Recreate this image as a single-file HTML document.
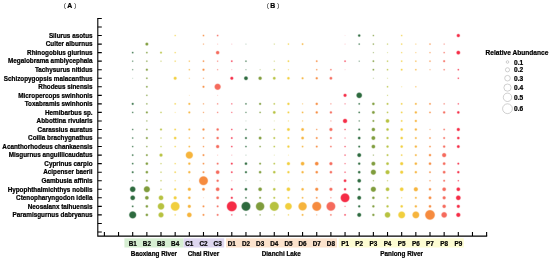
<!DOCTYPE html>
<html><head><meta charset="utf-8"><title>Relative Abundance</title>
<style>
html,body{margin:0;padding:0;background:#fff;}
body{width:550px;height:260px;overflow:hidden;font-family:"Liberation Sans","Noto Sans CJK SC",sans-serif;}
svg{display:block;}
text{font-family:"Liberation Sans","Noto Sans CJK SC",sans-serif;font-weight:bold;fill:#000;stroke:#000;stroke-width:0.22px;}
.sp{font-size:6.35px;text-anchor:end;}
.cl{font-size:6.35px;text-anchor:middle;}
.gl{font-size:6.35px;text-anchor:middle;}
.lg{font-size:6.6px;}
.tt{font-size:6.9px;text-anchor:middle;}
.pp{font-size:6.4px;text-anchor:middle;font-weight:normal;stroke:none;fill:#000;}
</style></head><body>
<svg width="550" height="260" viewBox="0 0 550 260">
<rect width="550" height="260" fill="#fff"/>
<text class="pp" x="62.90" y="7.9">（</text><text class="tt" x="69.65" y="8.0">A</text><text class="pp" x="77.15" y="7.9">）</text>
<text class="pp" x="265.95" y="7.9">（</text><text class="tt" x="272.70" y="8.0">B</text><text class="pp" x="280.20" y="7.9">）</text>
<rect x="124.4" y="238.3" width="59.2" height="9.2" fill="#d6eed2"/>
<rect x="183.6" y="238.3" width="40.6" height="9.2" fill="#ddd6ef"/>
<rect x="226.0" y="238.3" width="111.0" height="9.2" fill="#fbe2cc"/>
<rect x="338.7" y="238.3" width="125.1" height="9.2" fill="#fdfcd2"/>
<g stroke="#000" stroke-width="1.1" fill="none">
<path d="M97.8 17.92V236.1H487.2"/>
<path d="M97.8 18.47h4.0M97.8 27.01h4.0M97.8 35.55h4.0M97.8 44.09h4.0M97.8 52.63h4.0M97.8 61.17h4.0M97.8 69.71h4.0M97.8 78.25h4.0M97.8 86.79h4.0M97.8 95.33h4.0M97.8 103.87h4.0M97.8 112.41h4.0M97.8 120.95h4.0M97.8 129.49h4.0M97.8 138.03h4.0M97.8 146.57h4.0M97.8 155.11h4.0M97.8 163.65h4.0M97.8 172.19h4.0M97.8 180.73h4.0M97.8 189.27h4.0M97.8 197.81h4.0M97.8 206.35h4.0M97.8 214.89h4.0M97.8 223.43h4.0M97.8 231.97h4.0"/>
<path d="M104.39 236.1v-4.2M118.54 236.1v-4.2M132.70 236.1v-4.2M146.86 236.1v-4.2M161.01 236.1v-4.2M175.17 236.1v-4.2M189.33 236.1v-4.2M203.48 236.1v-4.2M217.64 236.1v-4.2M231.80 236.1v-4.2M245.96 236.1v-4.2M260.11 236.1v-4.2M274.27 236.1v-4.2M288.43 236.1v-4.2M302.58 236.1v-4.2M316.74 236.1v-4.2M330.90 236.1v-4.2M345.05 236.1v-4.2M359.21 236.1v-4.2M373.37 236.1v-4.2M387.53 236.1v-4.2M401.68 236.1v-4.2M415.84 236.1v-4.2M430.00 236.1v-4.2M444.15 236.1v-4.2M458.31 236.1v-4.2M472.47 236.1v-4.2M486.62 236.1v-4.2"/>
</g>
<text class="sp" x="92.6" y="37.80">Silurus asotus</text>
<text class="sp" x="92.6" y="46.34">Culter alburnus</text>
<text class="sp" x="92.6" y="54.88">Rhinogobius giurinus</text>
<text class="sp" x="92.6" y="63.42">Megalobrama amblycephala</text>
<text class="sp" x="92.6" y="71.96">Tachysurus nitidus</text>
<text class="sp" x="92.6" y="80.50">Schizopygopsis malacanthus</text>
<text class="sp" x="92.6" y="89.04">Rhodeus sinensis</text>
<text class="sp" x="92.6" y="97.58">Micropercops swinhonis</text>
<text class="sp" x="92.6" y="106.12">Toxabramis swinhonis</text>
<text class="sp" x="92.6" y="114.66">Hemibarbus sp.</text>
<text class="sp" x="92.6" y="123.20">Abbottina rivularis</text>
<text class="sp" x="92.6" y="131.74">Carassius auratus</text>
<text class="sp" x="92.6" y="140.28">Coilia brachygnathus</text>
<text class="sp" x="92.6" y="148.82">Acanthorhodeus chankaensis</text>
<text class="sp" x="92.6" y="157.36">Misgurnus anguillicaudatus</text>
<text class="sp" x="92.6" y="165.90">Cyprinus carpio</text>
<text class="sp" x="92.6" y="174.44">Acipenser baerii</text>
<text class="sp" x="92.6" y="182.98">Gambusia affinis</text>
<text class="sp" x="92.6" y="191.52">Hypophthalmichthys nobilis</text>
<text class="sp" x="92.6" y="200.06">Ctenopharyngodon idella</text>
<text class="sp" x="92.6" y="208.60">Neosalanx taihuensis</text>
<text class="sp" x="92.6" y="217.14">Paramisgurnus dabryanus</text>
<text class="cl" x="132.70" y="245.85">B1</text>
<text class="cl" x="146.86" y="245.85">B2</text>
<text class="cl" x="161.01" y="245.85">B3</text>
<text class="cl" x="175.17" y="245.85">B4</text>
<text class="cl" x="189.33" y="245.85">C1</text>
<text class="cl" x="203.48" y="245.85">C2</text>
<text class="cl" x="217.64" y="245.85">C3</text>
<text class="cl" x="231.80" y="245.85">D1</text>
<text class="cl" x="245.96" y="245.85">D2</text>
<text class="cl" x="260.11" y="245.85">D3</text>
<text class="cl" x="274.27" y="245.85">D4</text>
<text class="cl" x="288.43" y="245.85">D5</text>
<text class="cl" x="302.58" y="245.85">D6</text>
<text class="cl" x="316.74" y="245.85">D7</text>
<text class="cl" x="330.90" y="245.85">D8</text>
<text class="cl" x="345.05" y="245.85">P1</text>
<text class="cl" x="359.21" y="245.85">P2</text>
<text class="cl" x="373.37" y="245.85">P3</text>
<text class="cl" x="387.53" y="245.85">P4</text>
<text class="cl" x="401.68" y="245.85">P5</text>
<text class="cl" x="415.84" y="245.85">P6</text>
<text class="cl" x="430.00" y="245.85">P7</text>
<text class="cl" x="444.15" y="245.85">P8</text>
<text class="cl" x="458.31" y="245.85">P9</text>
<text class="gl" x="153.94" y="256.0">Baoxiang River</text>
<text class="gl" x="203.48" y="256.0">Chai River</text>
<text class="gl" x="281.35" y="256.0">Dianchi Lake</text>
<text class="gl" x="401.68" y="256.0">Panlong River</text>
<defs><radialGradient id="g3_65"><stop offset="0.000" stop-color="#f1cf3d" stop-opacity="0.698"/><stop offset="0.125" stop-color="#f1cf3d" stop-opacity="0.642"/><stop offset="0.250" stop-color="#f1cf3d" stop-opacity="0.496"/><stop offset="0.375" stop-color="#f1cf3d" stop-opacity="0.314"/><stop offset="0.500" stop-color="#f1cf3d" stop-opacity="0.160"/><stop offset="0.625" stop-color="#f1cf3d" stop-opacity="0.063"/><stop offset="0.750" stop-color="#f1cf3d" stop-opacity="0.019"/><stop offset="0.875" stop-color="#f1cf3d" stop-opacity="0.005"/><stop offset="1.000" stop-color="#f1cf3d" stop-opacity="0.001"/></radialGradient>
<radialGradient id="g5_80"><stop offset="0.000" stop-color="#f68b3e" stop-opacity="0.837"/><stop offset="0.125" stop-color="#f68b3e" stop-opacity="0.783"/><stop offset="0.250" stop-color="#f68b3e" stop-opacity="0.629"/><stop offset="0.375" stop-color="#f68b3e" stop-opacity="0.417"/><stop offset="0.500" stop-color="#f68b3e" stop-opacity="0.219"/><stop offset="0.625" stop-color="#f68b3e" stop-opacity="0.087"/><stop offset="0.750" stop-color="#f68b3e" stop-opacity="0.026"/><stop offset="0.875" stop-color="#f68b3e" stop-opacity="0.006"/><stop offset="1.000" stop-color="#f68b3e" stop-opacity="0.001"/></radialGradient>
<radialGradient id="g6_80"><stop offset="0.000" stop-color="#f56a5c" stop-opacity="0.837"/><stop offset="0.125" stop-color="#f56a5c" stop-opacity="0.783"/><stop offset="0.250" stop-color="#f56a5c" stop-opacity="0.629"/><stop offset="0.375" stop-color="#f56a5c" stop-opacity="0.417"/><stop offset="0.500" stop-color="#f56a5c" stop-opacity="0.219"/><stop offset="0.625" stop-color="#f56a5c" stop-opacity="0.087"/><stop offset="0.750" stop-color="#f56a5c" stop-opacity="0.026"/><stop offset="0.875" stop-color="#f56a5c" stop-opacity="0.006"/><stop offset="1.000" stop-color="#f56a5c" stop-opacity="0.001"/></radialGradient>
<radialGradient id="g7_20"><stop offset="0.000" stop-color="#f52c46" stop-opacity="0.107"/><stop offset="0.125" stop-color="#f52c46" stop-opacity="0.098"/><stop offset="0.250" stop-color="#f52c46" stop-opacity="0.075"/><stop offset="0.375" stop-color="#f52c46" stop-opacity="0.049"/><stop offset="0.500" stop-color="#f52c46" stop-opacity="0.026"/><stop offset="0.625" stop-color="#f52c46" stop-opacity="0.012"/><stop offset="0.750" stop-color="#f52c46" stop-opacity="0.004"/><stop offset="0.875" stop-color="#f52c46" stop-opacity="0.001"/><stop offset="1.000" stop-color="#f52c46" stop-opacity="0.000"/></radialGradient>
<radialGradient id="g0_120"><stop offset="0.000" stop-color="#2d6a3e" stop-opacity="0.983"/><stop offset="0.125" stop-color="#2d6a3e" stop-opacity="0.962"/><stop offset="0.250" stop-color="#2d6a3e" stop-opacity="0.875"/><stop offset="0.375" stop-color="#2d6a3e" stop-opacity="0.679"/><stop offset="0.500" stop-color="#2d6a3e" stop-opacity="0.407"/><stop offset="0.625" stop-color="#2d6a3e" stop-opacity="0.172"/><stop offset="0.750" stop-color="#2d6a3e" stop-opacity="0.048"/><stop offset="0.875" stop-color="#2d6a3e" stop-opacity="0.009"/><stop offset="1.000" stop-color="#2d6a3e" stop-opacity="0.001"/></radialGradient>
<radialGradient id="g1_70"><stop offset="0.000" stop-color="#7f9c3c" stop-opacity="0.751"/><stop offset="0.125" stop-color="#7f9c3c" stop-opacity="0.694"/><stop offset="0.250" stop-color="#7f9c3c" stop-opacity="0.542"/><stop offset="0.375" stop-color="#7f9c3c" stop-opacity="0.348"/><stop offset="0.500" stop-color="#7f9c3c" stop-opacity="0.178"/><stop offset="0.625" stop-color="#7f9c3c" stop-opacity="0.071"/><stop offset="0.750" stop-color="#7f9c3c" stop-opacity="0.021"/><stop offset="0.875" stop-color="#7f9c3c" stop-opacity="0.005"/><stop offset="1.000" stop-color="#7f9c3c" stop-opacity="0.001"/></radialGradient>
<radialGradient id="g3_70"><stop offset="0.000" stop-color="#f1cf3d" stop-opacity="0.751"/><stop offset="0.125" stop-color="#f1cf3d" stop-opacity="0.694"/><stop offset="0.250" stop-color="#f1cf3d" stop-opacity="0.542"/><stop offset="0.375" stop-color="#f1cf3d" stop-opacity="0.348"/><stop offset="0.500" stop-color="#f1cf3d" stop-opacity="0.178"/><stop offset="0.625" stop-color="#f1cf3d" stop-opacity="0.071"/><stop offset="0.750" stop-color="#f1cf3d" stop-opacity="0.021"/><stop offset="0.875" stop-color="#f1cf3d" stop-opacity="0.005"/><stop offset="1.000" stop-color="#f1cf3d" stop-opacity="0.001"/></radialGradient>
<radialGradient id="g7_160"><stop offset="0.000" stop-color="#f52c46" stop-opacity="0.999"/><stop offset="0.123" stop-color="#f52c46" stop-opacity="0.997"/><stop offset="0.232" stop-color="#f52c46" stop-opacity="0.979"/><stop offset="0.342" stop-color="#f52c46" stop-opacity="0.906"/><stop offset="0.452" stop-color="#f52c46" stop-opacity="0.724"/><stop offset="0.561" stop-color="#f52c46" stop-opacity="0.447"/><stop offset="0.671" stop-color="#f52c46" stop-opacity="0.193"/><stop offset="0.781" stop-color="#f52c46" stop-opacity="0.055"/><stop offset="0.890" stop-color="#f52c46" stop-opacity="0.010"/><stop offset="1.000" stop-color="#f52c46" stop-opacity="0.001"/></radialGradient>
<radialGradient id="g1_145"><stop offset="0.000" stop-color="#7f9c3c" stop-opacity="0.997"/><stop offset="0.074" stop-color="#7f9c3c" stop-opacity="0.995"/><stop offset="0.190" stop-color="#7f9c3c" stop-opacity="0.977"/><stop offset="0.306" stop-color="#7f9c3c" stop-opacity="0.902"/><stop offset="0.421" stop-color="#7f9c3c" stop-opacity="0.718"/><stop offset="0.537" stop-color="#7f9c3c" stop-opacity="0.442"/><stop offset="0.653" stop-color="#7f9c3c" stop-opacity="0.190"/><stop offset="0.769" stop-color="#7f9c3c" stop-opacity="0.054"/><stop offset="0.884" stop-color="#7f9c3c" stop-opacity="0.010"/><stop offset="1.000" stop-color="#7f9c3c" stop-opacity="0.001"/></radialGradient>
<radialGradient id="g5_55"><stop offset="0.000" stop-color="#f68b3e" stop-opacity="0.576"/><stop offset="0.125" stop-color="#f68b3e" stop-opacity="0.526"/><stop offset="0.250" stop-color="#f68b3e" stop-opacity="0.398"/><stop offset="0.375" stop-color="#f68b3e" stop-opacity="0.248"/><stop offset="0.500" stop-color="#f68b3e" stop-opacity="0.124"/><stop offset="0.625" stop-color="#f68b3e" stop-opacity="0.050"/><stop offset="0.750" stop-color="#f68b3e" stop-opacity="0.016"/><stop offset="0.875" stop-color="#f68b3e" stop-opacity="0.004"/><stop offset="1.000" stop-color="#f68b3e" stop-opacity="0.001"/></radialGradient>
<radialGradient id="g6_35"><stop offset="0.000" stop-color="#f56a5c" stop-opacity="0.293"/><stop offset="0.125" stop-color="#f56a5c" stop-opacity="0.267"/><stop offset="0.250" stop-color="#f56a5c" stop-opacity="0.201"/><stop offset="0.375" stop-color="#f56a5c" stop-opacity="0.124"/><stop offset="0.500" stop-color="#f56a5c" stop-opacity="0.064"/><stop offset="0.625" stop-color="#f56a5c" stop-opacity="0.027"/><stop offset="0.750" stop-color="#f56a5c" stop-opacity="0.009"/><stop offset="0.875" stop-color="#f56a5c" stop-opacity="0.003"/><stop offset="1.000" stop-color="#f56a5c" stop-opacity="0.001"/></radialGradient>
<radialGradient id="g7_30"><stop offset="0.000" stop-color="#f52c46" stop-opacity="0.225"/><stop offset="0.125" stop-color="#f52c46" stop-opacity="0.205"/><stop offset="0.250" stop-color="#f52c46" stop-opacity="0.155"/><stop offset="0.375" stop-color="#f52c46" stop-opacity="0.097"/><stop offset="0.500" stop-color="#f52c46" stop-opacity="0.050"/><stop offset="0.625" stop-color="#f52c46" stop-opacity="0.021"/><stop offset="0.750" stop-color="#f52c46" stop-opacity="0.008"/><stop offset="0.875" stop-color="#f52c46" stop-opacity="0.002"/><stop offset="1.000" stop-color="#f52c46" stop-opacity="0.001"/></radialGradient>
<radialGradient id="g0_35"><stop offset="0.000" stop-color="#2d6a3e" stop-opacity="0.293"/><stop offset="0.125" stop-color="#2d6a3e" stop-opacity="0.267"/><stop offset="0.250" stop-color="#2d6a3e" stop-opacity="0.201"/><stop offset="0.375" stop-color="#2d6a3e" stop-opacity="0.124"/><stop offset="0.500" stop-color="#2d6a3e" stop-opacity="0.064"/><stop offset="0.625" stop-color="#2d6a3e" stop-opacity="0.027"/><stop offset="0.750" stop-color="#2d6a3e" stop-opacity="0.009"/><stop offset="0.875" stop-color="#2d6a3e" stop-opacity="0.003"/><stop offset="1.000" stop-color="#2d6a3e" stop-opacity="0.001"/></radialGradient>
<radialGradient id="g2_50"><stop offset="0.000" stop-color="#b7c240" stop-opacity="0.508"/><stop offset="0.125" stop-color="#b7c240" stop-opacity="0.462"/><stop offset="0.250" stop-color="#b7c240" stop-opacity="0.348"/><stop offset="0.375" stop-color="#b7c240" stop-opacity="0.215"/><stop offset="0.500" stop-color="#b7c240" stop-opacity="0.108"/><stop offset="0.625" stop-color="#b7c240" stop-opacity="0.044"/><stop offset="0.750" stop-color="#b7c240" stop-opacity="0.014"/><stop offset="0.875" stop-color="#b7c240" stop-opacity="0.004"/><stop offset="1.000" stop-color="#b7c240" stop-opacity="0.001"/></radialGradient>
<radialGradient id="g4_85"><stop offset="0.000" stop-color="#f6b43c" stop-opacity="0.871"/><stop offset="0.125" stop-color="#f6b43c" stop-opacity="0.819"/><stop offset="0.250" stop-color="#f6b43c" stop-opacity="0.669"/><stop offset="0.375" stop-color="#f6b43c" stop-opacity="0.452"/><stop offset="0.500" stop-color="#f6b43c" stop-opacity="0.240"/><stop offset="0.625" stop-color="#f6b43c" stop-opacity="0.096"/><stop offset="0.750" stop-color="#f6b43c" stop-opacity="0.028"/><stop offset="0.875" stop-color="#f6b43c" stop-opacity="0.006"/><stop offset="1.000" stop-color="#f6b43c" stop-opacity="0.001"/></radialGradient>
<radialGradient id="g0_70"><stop offset="0.000" stop-color="#2d6a3e" stop-opacity="0.751"/><stop offset="0.125" stop-color="#2d6a3e" stop-opacity="0.694"/><stop offset="0.250" stop-color="#2d6a3e" stop-opacity="0.542"/><stop offset="0.375" stop-color="#2d6a3e" stop-opacity="0.348"/><stop offset="0.500" stop-color="#2d6a3e" stop-opacity="0.178"/><stop offset="0.625" stop-color="#2d6a3e" stop-opacity="0.071"/><stop offset="0.750" stop-color="#2d6a3e" stop-opacity="0.021"/><stop offset="0.875" stop-color="#2d6a3e" stop-opacity="0.005"/><stop offset="1.000" stop-color="#2d6a3e" stop-opacity="0.001"/></radialGradient>
<radialGradient id="g2_60"><stop offset="0.000" stop-color="#b7c240" stop-opacity="0.640"/><stop offset="0.125" stop-color="#b7c240" stop-opacity="0.586"/><stop offset="0.250" stop-color="#b7c240" stop-opacity="0.447"/><stop offset="0.375" stop-color="#b7c240" stop-opacity="0.281"/><stop offset="0.500" stop-color="#b7c240" stop-opacity="0.142"/><stop offset="0.625" stop-color="#b7c240" stop-opacity="0.056"/><stop offset="0.750" stop-color="#b7c240" stop-opacity="0.017"/><stop offset="0.875" stop-color="#b7c240" stop-opacity="0.004"/><stop offset="1.000" stop-color="#b7c240" stop-opacity="0.001"/></radialGradient>
<radialGradient id="g4_50"><stop offset="0.000" stop-color="#f6b43c" stop-opacity="0.508"/><stop offset="0.125" stop-color="#f6b43c" stop-opacity="0.462"/><stop offset="0.250" stop-color="#f6b43c" stop-opacity="0.348"/><stop offset="0.375" stop-color="#f6b43c" stop-opacity="0.215"/><stop offset="0.500" stop-color="#f6b43c" stop-opacity="0.108"/><stop offset="0.625" stop-color="#f6b43c" stop-opacity="0.044"/><stop offset="0.750" stop-color="#f6b43c" stop-opacity="0.014"/><stop offset="0.875" stop-color="#f6b43c" stop-opacity="0.004"/><stop offset="1.000" stop-color="#f6b43c" stop-opacity="0.001"/></radialGradient>
<radialGradient id="g5_70"><stop offset="0.000" stop-color="#f68b3e" stop-opacity="0.751"/><stop offset="0.125" stop-color="#f68b3e" stop-opacity="0.694"/><stop offset="0.250" stop-color="#f68b3e" stop-opacity="0.542"/><stop offset="0.375" stop-color="#f68b3e" stop-opacity="0.348"/><stop offset="0.500" stop-color="#f68b3e" stop-opacity="0.178"/><stop offset="0.625" stop-color="#f68b3e" stop-opacity="0.071"/><stop offset="0.750" stop-color="#f68b3e" stop-opacity="0.021"/><stop offset="0.875" stop-color="#f68b3e" stop-opacity="0.005"/><stop offset="1.000" stop-color="#f68b3e" stop-opacity="0.001"/></radialGradient>
<radialGradient id="g6_55"><stop offset="0.000" stop-color="#f56a5c" stop-opacity="0.576"/><stop offset="0.125" stop-color="#f56a5c" stop-opacity="0.526"/><stop offset="0.250" stop-color="#f56a5c" stop-opacity="0.398"/><stop offset="0.375" stop-color="#f56a5c" stop-opacity="0.248"/><stop offset="0.500" stop-color="#f56a5c" stop-opacity="0.124"/><stop offset="0.625" stop-color="#f56a5c" stop-opacity="0.050"/><stop offset="0.750" stop-color="#f56a5c" stop-opacity="0.016"/><stop offset="0.875" stop-color="#f56a5c" stop-opacity="0.004"/><stop offset="1.000" stop-color="#f56a5c" stop-opacity="0.001"/></radialGradient>
<radialGradient id="g0_80"><stop offset="0.000" stop-color="#2d6a3e" stop-opacity="0.837"/><stop offset="0.125" stop-color="#2d6a3e" stop-opacity="0.783"/><stop offset="0.250" stop-color="#2d6a3e" stop-opacity="0.629"/><stop offset="0.375" stop-color="#2d6a3e" stop-opacity="0.417"/><stop offset="0.500" stop-color="#2d6a3e" stop-opacity="0.219"/><stop offset="0.625" stop-color="#2d6a3e" stop-opacity="0.087"/><stop offset="0.750" stop-color="#2d6a3e" stop-opacity="0.026"/><stop offset="0.875" stop-color="#2d6a3e" stop-opacity="0.006"/><stop offset="1.000" stop-color="#2d6a3e" stop-opacity="0.001"/></radialGradient>
<radialGradient id="g1_80"><stop offset="0.000" stop-color="#7f9c3c" stop-opacity="0.837"/><stop offset="0.125" stop-color="#7f9c3c" stop-opacity="0.783"/><stop offset="0.250" stop-color="#7f9c3c" stop-opacity="0.629"/><stop offset="0.375" stop-color="#7f9c3c" stop-opacity="0.417"/><stop offset="0.500" stop-color="#7f9c3c" stop-opacity="0.219"/><stop offset="0.625" stop-color="#7f9c3c" stop-opacity="0.087"/><stop offset="0.750" stop-color="#7f9c3c" stop-opacity="0.026"/><stop offset="0.875" stop-color="#7f9c3c" stop-opacity="0.006"/><stop offset="1.000" stop-color="#7f9c3c" stop-opacity="0.001"/></radialGradient>
<radialGradient id="g2_95"><stop offset="0.000" stop-color="#b7c240" stop-opacity="0.923"/><stop offset="0.125" stop-color="#b7c240" stop-opacity="0.879"/><stop offset="0.250" stop-color="#b7c240" stop-opacity="0.741"/><stop offset="0.375" stop-color="#b7c240" stop-opacity="0.520"/><stop offset="0.500" stop-color="#b7c240" stop-opacity="0.285"/><stop offset="0.625" stop-color="#b7c240" stop-opacity="0.115"/><stop offset="0.750" stop-color="#b7c240" stop-opacity="0.033"/><stop offset="0.875" stop-color="#b7c240" stop-opacity="0.007"/><stop offset="1.000" stop-color="#b7c240" stop-opacity="0.001"/></radialGradient>
<radialGradient id="g6_170"><stop offset="0.000" stop-color="#f56a5c" stop-opacity="1.000"/><stop offset="0.153" stop-color="#f56a5c" stop-opacity="0.997"/><stop offset="0.258" stop-color="#f56a5c" stop-opacity="0.980"/><stop offset="0.364" stop-color="#f56a5c" stop-opacity="0.909"/><stop offset="0.470" stop-color="#f56a5c" stop-opacity="0.728"/><stop offset="0.576" stop-color="#f56a5c" stop-opacity="0.450"/><stop offset="0.682" stop-color="#f56a5c" stop-opacity="0.195"/><stop offset="0.788" stop-color="#f56a5c" stop-opacity="0.055"/><stop offset="0.894" stop-color="#f56a5c" stop-opacity="0.010"/><stop offset="1.000" stop-color="#f56a5c" stop-opacity="0.001"/></radialGradient>
<radialGradient id="g1_50"><stop offset="0.000" stop-color="#7f9c3c" stop-opacity="0.508"/><stop offset="0.125" stop-color="#7f9c3c" stop-opacity="0.462"/><stop offset="0.250" stop-color="#7f9c3c" stop-opacity="0.348"/><stop offset="0.375" stop-color="#7f9c3c" stop-opacity="0.215"/><stop offset="0.500" stop-color="#7f9c3c" stop-opacity="0.108"/><stop offset="0.625" stop-color="#7f9c3c" stop-opacity="0.044"/><stop offset="0.750" stop-color="#7f9c3c" stop-opacity="0.014"/><stop offset="0.875" stop-color="#7f9c3c" stop-opacity="0.004"/><stop offset="1.000" stop-color="#7f9c3c" stop-opacity="0.001"/></radialGradient>
<radialGradient id="g2_40"><stop offset="0.000" stop-color="#b7c240" stop-opacity="0.365"/><stop offset="0.125" stop-color="#b7c240" stop-opacity="0.331"/><stop offset="0.250" stop-color="#b7c240" stop-opacity="0.249"/><stop offset="0.375" stop-color="#b7c240" stop-opacity="0.154"/><stop offset="0.500" stop-color="#b7c240" stop-opacity="0.078"/><stop offset="0.625" stop-color="#b7c240" stop-opacity="0.032"/><stop offset="0.750" stop-color="#b7c240" stop-opacity="0.011"/><stop offset="0.875" stop-color="#b7c240" stop-opacity="0.003"/><stop offset="1.000" stop-color="#b7c240" stop-opacity="0.001"/></radialGradient>
<radialGradient id="g3_60"><stop offset="0.000" stop-color="#f1cf3d" stop-opacity="0.640"/><stop offset="0.125" stop-color="#f1cf3d" stop-opacity="0.586"/><stop offset="0.250" stop-color="#f1cf3d" stop-opacity="0.447"/><stop offset="0.375" stop-color="#f1cf3d" stop-opacity="0.281"/><stop offset="0.500" stop-color="#f1cf3d" stop-opacity="0.142"/><stop offset="0.625" stop-color="#f1cf3d" stop-opacity="0.056"/><stop offset="0.750" stop-color="#f1cf3d" stop-opacity="0.017"/><stop offset="0.875" stop-color="#f1cf3d" stop-opacity="0.004"/><stop offset="1.000" stop-color="#f1cf3d" stop-opacity="0.001"/></radialGradient>
<radialGradient id="g5_60"><stop offset="0.000" stop-color="#f68b3e" stop-opacity="0.640"/><stop offset="0.125" stop-color="#f68b3e" stop-opacity="0.586"/><stop offset="0.250" stop-color="#f68b3e" stop-opacity="0.447"/><stop offset="0.375" stop-color="#f68b3e" stop-opacity="0.281"/><stop offset="0.500" stop-color="#f68b3e" stop-opacity="0.142"/><stop offset="0.625" stop-color="#f68b3e" stop-opacity="0.056"/><stop offset="0.750" stop-color="#f68b3e" stop-opacity="0.017"/><stop offset="0.875" stop-color="#f68b3e" stop-opacity="0.004"/><stop offset="1.000" stop-color="#f68b3e" stop-opacity="0.001"/></radialGradient>
<radialGradient id="g6_70"><stop offset="0.000" stop-color="#f56a5c" stop-opacity="0.751"/><stop offset="0.125" stop-color="#f56a5c" stop-opacity="0.694"/><stop offset="0.250" stop-color="#f56a5c" stop-opacity="0.542"/><stop offset="0.375" stop-color="#f56a5c" stop-opacity="0.348"/><stop offset="0.500" stop-color="#f56a5c" stop-opacity="0.178"/><stop offset="0.625" stop-color="#f56a5c" stop-opacity="0.071"/><stop offset="0.750" stop-color="#f56a5c" stop-opacity="0.021"/><stop offset="0.875" stop-color="#f56a5c" stop-opacity="0.005"/><stop offset="1.000" stop-color="#f56a5c" stop-opacity="0.001"/></radialGradient>
<radialGradient id="g7_185"><stop offset="0.000" stop-color="#f52c46" stop-opacity="1.000"/><stop offset="0.194" stop-color="#f52c46" stop-opacity="0.997"/><stop offset="0.294" stop-color="#f52c46" stop-opacity="0.981"/><stop offset="0.395" stop-color="#f52c46" stop-opacity="0.911"/><stop offset="0.496" stop-color="#f52c46" stop-opacity="0.732"/><stop offset="0.597" stop-color="#f52c46" stop-opacity="0.454"/><stop offset="0.698" stop-color="#f52c46" stop-opacity="0.198"/><stop offset="0.798" stop-color="#f52c46" stop-opacity="0.056"/><stop offset="0.899" stop-color="#f52c46" stop-opacity="0.010"/><stop offset="1.000" stop-color="#f52c46" stop-opacity="0.001"/></radialGradient>
<radialGradient id="g0_60"><stop offset="0.000" stop-color="#2d6a3e" stop-opacity="0.640"/><stop offset="0.125" stop-color="#2d6a3e" stop-opacity="0.586"/><stop offset="0.250" stop-color="#2d6a3e" stop-opacity="0.447"/><stop offset="0.375" stop-color="#2d6a3e" stop-opacity="0.281"/><stop offset="0.500" stop-color="#2d6a3e" stop-opacity="0.142"/><stop offset="0.625" stop-color="#2d6a3e" stop-opacity="0.056"/><stop offset="0.750" stop-color="#2d6a3e" stop-opacity="0.017"/><stop offset="0.875" stop-color="#2d6a3e" stop-opacity="0.004"/><stop offset="1.000" stop-color="#2d6a3e" stop-opacity="0.001"/></radialGradient>
<radialGradient id="g2_55"><stop offset="0.000" stop-color="#b7c240" stop-opacity="0.576"/><stop offset="0.125" stop-color="#b7c240" stop-opacity="0.526"/><stop offset="0.250" stop-color="#b7c240" stop-opacity="0.398"/><stop offset="0.375" stop-color="#b7c240" stop-opacity="0.248"/><stop offset="0.500" stop-color="#b7c240" stop-opacity="0.124"/><stop offset="0.625" stop-color="#b7c240" stop-opacity="0.050"/><stop offset="0.750" stop-color="#b7c240" stop-opacity="0.016"/><stop offset="0.875" stop-color="#b7c240" stop-opacity="0.004"/><stop offset="1.000" stop-color="#b7c240" stop-opacity="0.001"/></radialGradient>
<radialGradient id="g4_65"><stop offset="0.000" stop-color="#f6b43c" stop-opacity="0.698"/><stop offset="0.125" stop-color="#f6b43c" stop-opacity="0.642"/><stop offset="0.250" stop-color="#f6b43c" stop-opacity="0.496"/><stop offset="0.375" stop-color="#f6b43c" stop-opacity="0.314"/><stop offset="0.500" stop-color="#f6b43c" stop-opacity="0.160"/><stop offset="0.625" stop-color="#f6b43c" stop-opacity="0.063"/><stop offset="0.750" stop-color="#f6b43c" stop-opacity="0.019"/><stop offset="0.875" stop-color="#f6b43c" stop-opacity="0.005"/><stop offset="1.000" stop-color="#f6b43c" stop-opacity="0.001"/></radialGradient>
<radialGradient id="g6_60"><stop offset="0.000" stop-color="#f56a5c" stop-opacity="0.640"/><stop offset="0.125" stop-color="#f56a5c" stop-opacity="0.586"/><stop offset="0.250" stop-color="#f56a5c" stop-opacity="0.447"/><stop offset="0.375" stop-color="#f56a5c" stop-opacity="0.281"/><stop offset="0.500" stop-color="#f56a5c" stop-opacity="0.142"/><stop offset="0.625" stop-color="#f56a5c" stop-opacity="0.056"/><stop offset="0.750" stop-color="#f56a5c" stop-opacity="0.017"/><stop offset="0.875" stop-color="#f56a5c" stop-opacity="0.004"/><stop offset="1.000" stop-color="#f56a5c" stop-opacity="0.001"/></radialGradient>
<radialGradient id="g7_80"><stop offset="0.000" stop-color="#f52c46" stop-opacity="0.837"/><stop offset="0.125" stop-color="#f52c46" stop-opacity="0.783"/><stop offset="0.250" stop-color="#f52c46" stop-opacity="0.629"/><stop offset="0.375" stop-color="#f52c46" stop-opacity="0.417"/><stop offset="0.500" stop-color="#f52c46" stop-opacity="0.219"/><stop offset="0.625" stop-color="#f52c46" stop-opacity="0.087"/><stop offset="0.750" stop-color="#f52c46" stop-opacity="0.026"/><stop offset="0.875" stop-color="#f52c46" stop-opacity="0.006"/><stop offset="1.000" stop-color="#f52c46" stop-opacity="0.001"/></radialGradient>
<radialGradient id="g3_85"><stop offset="0.000" stop-color="#f1cf3d" stop-opacity="0.871"/><stop offset="0.125" stop-color="#f1cf3d" stop-opacity="0.819"/><stop offset="0.250" stop-color="#f1cf3d" stop-opacity="0.669"/><stop offset="0.375" stop-color="#f1cf3d" stop-opacity="0.452"/><stop offset="0.500" stop-color="#f1cf3d" stop-opacity="0.240"/><stop offset="0.625" stop-color="#f1cf3d" stop-opacity="0.096"/><stop offset="0.750" stop-color="#f1cf3d" stop-opacity="0.028"/><stop offset="0.875" stop-color="#f1cf3d" stop-opacity="0.006"/><stop offset="1.000" stop-color="#f1cf3d" stop-opacity="0.001"/></radialGradient>
<radialGradient id="g5_85"><stop offset="0.000" stop-color="#f68b3e" stop-opacity="0.871"/><stop offset="0.125" stop-color="#f68b3e" stop-opacity="0.819"/><stop offset="0.250" stop-color="#f68b3e" stop-opacity="0.669"/><stop offset="0.375" stop-color="#f68b3e" stop-opacity="0.452"/><stop offset="0.500" stop-color="#f68b3e" stop-opacity="0.240"/><stop offset="0.625" stop-color="#f68b3e" stop-opacity="0.096"/><stop offset="0.750" stop-color="#f68b3e" stop-opacity="0.028"/><stop offset="0.875" stop-color="#f68b3e" stop-opacity="0.006"/><stop offset="1.000" stop-color="#f68b3e" stop-opacity="0.001"/></radialGradient>
<radialGradient id="g7_75"><stop offset="0.000" stop-color="#f52c46" stop-opacity="0.797"/><stop offset="0.125" stop-color="#f52c46" stop-opacity="0.741"/><stop offset="0.250" stop-color="#f52c46" stop-opacity="0.586"/><stop offset="0.375" stop-color="#f52c46" stop-opacity="0.383"/><stop offset="0.500" stop-color="#f52c46" stop-opacity="0.198"/><stop offset="0.625" stop-color="#f52c46" stop-opacity="0.079"/><stop offset="0.750" stop-color="#f52c46" stop-opacity="0.024"/><stop offset="0.875" stop-color="#f52c46" stop-opacity="0.005"/><stop offset="1.000" stop-color="#f52c46" stop-opacity="0.001"/></radialGradient>
<radialGradient id="g0_50"><stop offset="0.000" stop-color="#2d6a3e" stop-opacity="0.508"/><stop offset="0.125" stop-color="#2d6a3e" stop-opacity="0.462"/><stop offset="0.250" stop-color="#2d6a3e" stop-opacity="0.348"/><stop offset="0.375" stop-color="#2d6a3e" stop-opacity="0.215"/><stop offset="0.500" stop-color="#2d6a3e" stop-opacity="0.108"/><stop offset="0.625" stop-color="#2d6a3e" stop-opacity="0.044"/><stop offset="0.750" stop-color="#2d6a3e" stop-opacity="0.014"/><stop offset="0.875" stop-color="#2d6a3e" stop-opacity="0.004"/><stop offset="1.000" stop-color="#2d6a3e" stop-opacity="0.001"/></radialGradient>
<radialGradient id="g1_85"><stop offset="0.000" stop-color="#7f9c3c" stop-opacity="0.871"/><stop offset="0.125" stop-color="#7f9c3c" stop-opacity="0.819"/><stop offset="0.250" stop-color="#7f9c3c" stop-opacity="0.669"/><stop offset="0.375" stop-color="#7f9c3c" stop-opacity="0.452"/><stop offset="0.500" stop-color="#7f9c3c" stop-opacity="0.240"/><stop offset="0.625" stop-color="#7f9c3c" stop-opacity="0.096"/><stop offset="0.750" stop-color="#7f9c3c" stop-opacity="0.028"/><stop offset="0.875" stop-color="#7f9c3c" stop-opacity="0.006"/><stop offset="1.000" stop-color="#7f9c3c" stop-opacity="0.001"/></radialGradient>
<radialGradient id="g2_70"><stop offset="0.000" stop-color="#b7c240" stop-opacity="0.751"/><stop offset="0.125" stop-color="#b7c240" stop-opacity="0.694"/><stop offset="0.250" stop-color="#b7c240" stop-opacity="0.542"/><stop offset="0.375" stop-color="#b7c240" stop-opacity="0.348"/><stop offset="0.500" stop-color="#b7c240" stop-opacity="0.178"/><stop offset="0.625" stop-color="#b7c240" stop-opacity="0.071"/><stop offset="0.750" stop-color="#b7c240" stop-opacity="0.021"/><stop offset="0.875" stop-color="#b7c240" stop-opacity="0.005"/><stop offset="1.000" stop-color="#b7c240" stop-opacity="0.001"/></radialGradient>
<radialGradient id="g3_75"><stop offset="0.000" stop-color="#f1cf3d" stop-opacity="0.797"/><stop offset="0.125" stop-color="#f1cf3d" stop-opacity="0.741"/><stop offset="0.250" stop-color="#f1cf3d" stop-opacity="0.586"/><stop offset="0.375" stop-color="#f1cf3d" stop-opacity="0.383"/><stop offset="0.500" stop-color="#f1cf3d" stop-opacity="0.198"/><stop offset="0.625" stop-color="#f1cf3d" stop-opacity="0.079"/><stop offset="0.750" stop-color="#f1cf3d" stop-opacity="0.024"/><stop offset="0.875" stop-color="#f1cf3d" stop-opacity="0.005"/><stop offset="1.000" stop-color="#f1cf3d" stop-opacity="0.001"/></radialGradient>
<radialGradient id="g4_70"><stop offset="0.000" stop-color="#f6b43c" stop-opacity="0.751"/><stop offset="0.125" stop-color="#f6b43c" stop-opacity="0.694"/><stop offset="0.250" stop-color="#f6b43c" stop-opacity="0.542"/><stop offset="0.375" stop-color="#f6b43c" stop-opacity="0.348"/><stop offset="0.500" stop-color="#f6b43c" stop-opacity="0.178"/><stop offset="0.625" stop-color="#f6b43c" stop-opacity="0.071"/><stop offset="0.750" stop-color="#f6b43c" stop-opacity="0.021"/><stop offset="0.875" stop-color="#f6b43c" stop-opacity="0.005"/><stop offset="1.000" stop-color="#f6b43c" stop-opacity="0.001"/></radialGradient>
<radialGradient id="g6_100"><stop offset="0.000" stop-color="#f56a5c" stop-opacity="0.941"/><stop offset="0.125" stop-color="#f56a5c" stop-opacity="0.902"/><stop offset="0.250" stop-color="#f56a5c" stop-opacity="0.773"/><stop offset="0.375" stop-color="#f56a5c" stop-opacity="0.554"/><stop offset="0.500" stop-color="#f56a5c" stop-opacity="0.308"/><stop offset="0.625" stop-color="#f56a5c" stop-opacity="0.126"/><stop offset="0.750" stop-color="#f56a5c" stop-opacity="0.036"/><stop offset="0.875" stop-color="#f56a5c" stop-opacity="0.007"/><stop offset="1.000" stop-color="#f56a5c" stop-opacity="0.001"/></radialGradient>
<radialGradient id="g0_55"><stop offset="0.000" stop-color="#2d6a3e" stop-opacity="0.576"/><stop offset="0.125" stop-color="#2d6a3e" stop-opacity="0.526"/><stop offset="0.250" stop-color="#2d6a3e" stop-opacity="0.398"/><stop offset="0.375" stop-color="#2d6a3e" stop-opacity="0.248"/><stop offset="0.500" stop-color="#2d6a3e" stop-opacity="0.124"/><stop offset="0.625" stop-color="#2d6a3e" stop-opacity="0.050"/><stop offset="0.750" stop-color="#2d6a3e" stop-opacity="0.016"/><stop offset="0.875" stop-color="#2d6a3e" stop-opacity="0.004"/><stop offset="1.000" stop-color="#2d6a3e" stop-opacity="0.001"/></radialGradient>
<radialGradient id="g1_105"><stop offset="0.000" stop-color="#7f9c3c" stop-opacity="0.956"/><stop offset="0.125" stop-color="#7f9c3c" stop-opacity="0.922"/><stop offset="0.250" stop-color="#7f9c3c" stop-opacity="0.802"/><stop offset="0.375" stop-color="#7f9c3c" stop-opacity="0.586"/><stop offset="0.500" stop-color="#7f9c3c" stop-opacity="0.332"/><stop offset="0.625" stop-color="#7f9c3c" stop-opacity="0.136"/><stop offset="0.750" stop-color="#7f9c3c" stop-opacity="0.039"/><stop offset="0.875" stop-color="#7f9c3c" stop-opacity="0.007"/><stop offset="1.000" stop-color="#7f9c3c" stop-opacity="0.001"/></radialGradient>
<radialGradient id="g5_105"><stop offset="0.000" stop-color="#f68b3e" stop-opacity="0.956"/><stop offset="0.125" stop-color="#f68b3e" stop-opacity="0.922"/><stop offset="0.250" stop-color="#f68b3e" stop-opacity="0.802"/><stop offset="0.375" stop-color="#f68b3e" stop-opacity="0.586"/><stop offset="0.500" stop-color="#f68b3e" stop-opacity="0.332"/><stop offset="0.625" stop-color="#f68b3e" stop-opacity="0.136"/><stop offset="0.750" stop-color="#f68b3e" stop-opacity="0.039"/><stop offset="0.875" stop-color="#f68b3e" stop-opacity="0.007"/><stop offset="1.000" stop-color="#f68b3e" stop-opacity="0.001"/></radialGradient>
<radialGradient id="g0_45"><stop offset="0.000" stop-color="#2d6a3e" stop-opacity="0.437"/><stop offset="0.125" stop-color="#2d6a3e" stop-opacity="0.397"/><stop offset="0.250" stop-color="#2d6a3e" stop-opacity="0.298"/><stop offset="0.375" stop-color="#2d6a3e" stop-opacity="0.184"/><stop offset="0.500" stop-color="#2d6a3e" stop-opacity="0.092"/><stop offset="0.625" stop-color="#2d6a3e" stop-opacity="0.038"/><stop offset="0.750" stop-color="#2d6a3e" stop-opacity="0.012"/><stop offset="0.875" stop-color="#2d6a3e" stop-opacity="0.003"/><stop offset="1.000" stop-color="#2d6a3e" stop-opacity="0.001"/></radialGradient>
<radialGradient id="g1_40"><stop offset="0.000" stop-color="#7f9c3c" stop-opacity="0.365"/><stop offset="0.125" stop-color="#7f9c3c" stop-opacity="0.331"/><stop offset="0.250" stop-color="#7f9c3c" stop-opacity="0.249"/><stop offset="0.375" stop-color="#7f9c3c" stop-opacity="0.154"/><stop offset="0.500" stop-color="#7f9c3c" stop-opacity="0.078"/><stop offset="0.625" stop-color="#7f9c3c" stop-opacity="0.032"/><stop offset="0.750" stop-color="#7f9c3c" stop-opacity="0.011"/><stop offset="0.875" stop-color="#7f9c3c" stop-opacity="0.003"/><stop offset="1.000" stop-color="#7f9c3c" stop-opacity="0.001"/></radialGradient>
<radialGradient id="g3_50"><stop offset="0.000" stop-color="#f1cf3d" stop-opacity="0.508"/><stop offset="0.125" stop-color="#f1cf3d" stop-opacity="0.462"/><stop offset="0.250" stop-color="#f1cf3d" stop-opacity="0.348"/><stop offset="0.375" stop-color="#f1cf3d" stop-opacity="0.215"/><stop offset="0.500" stop-color="#f1cf3d" stop-opacity="0.108"/><stop offset="0.625" stop-color="#f1cf3d" stop-opacity="0.044"/><stop offset="0.750" stop-color="#f1cf3d" stop-opacity="0.014"/><stop offset="0.875" stop-color="#f1cf3d" stop-opacity="0.004"/><stop offset="1.000" stop-color="#f1cf3d" stop-opacity="0.001"/></radialGradient>
<radialGradient id="g6_75"><stop offset="0.000" stop-color="#f56a5c" stop-opacity="0.797"/><stop offset="0.125" stop-color="#f56a5c" stop-opacity="0.741"/><stop offset="0.250" stop-color="#f56a5c" stop-opacity="0.586"/><stop offset="0.375" stop-color="#f56a5c" stop-opacity="0.383"/><stop offset="0.500" stop-color="#f56a5c" stop-opacity="0.198"/><stop offset="0.625" stop-color="#f56a5c" stop-opacity="0.079"/><stop offset="0.750" stop-color="#f56a5c" stop-opacity="0.024"/><stop offset="0.875" stop-color="#f56a5c" stop-opacity="0.005"/><stop offset="1.000" stop-color="#f56a5c" stop-opacity="0.001"/></radialGradient>
<radialGradient id="g7_25"><stop offset="0.000" stop-color="#f52c46" stop-opacity="0.162"/><stop offset="0.125" stop-color="#f52c46" stop-opacity="0.148"/><stop offset="0.250" stop-color="#f52c46" stop-opacity="0.113"/><stop offset="0.375" stop-color="#f52c46" stop-opacity="0.071"/><stop offset="0.500" stop-color="#f52c46" stop-opacity="0.038"/><stop offset="0.625" stop-color="#f52c46" stop-opacity="0.017"/><stop offset="0.750" stop-color="#f52c46" stop-opacity="0.006"/><stop offset="0.875" stop-color="#f52c46" stop-opacity="0.002"/><stop offset="1.000" stop-color="#f52c46" stop-opacity="0.000"/></radialGradient>
<radialGradient id="g2_75"><stop offset="0.000" stop-color="#b7c240" stop-opacity="0.797"/><stop offset="0.125" stop-color="#b7c240" stop-opacity="0.741"/><stop offset="0.250" stop-color="#b7c240" stop-opacity="0.586"/><stop offset="0.375" stop-color="#b7c240" stop-opacity="0.383"/><stop offset="0.500" stop-color="#b7c240" stop-opacity="0.198"/><stop offset="0.625" stop-color="#b7c240" stop-opacity="0.079"/><stop offset="0.750" stop-color="#b7c240" stop-opacity="0.024"/><stop offset="0.875" stop-color="#b7c240" stop-opacity="0.005"/><stop offset="1.000" stop-color="#b7c240" stop-opacity="0.001"/></radialGradient>
<radialGradient id="g3_90"><stop offset="0.000" stop-color="#f1cf3d" stop-opacity="0.899"/><stop offset="0.125" stop-color="#f1cf3d" stop-opacity="0.851"/><stop offset="0.250" stop-color="#f1cf3d" stop-opacity="0.706"/><stop offset="0.375" stop-color="#f1cf3d" stop-opacity="0.486"/><stop offset="0.500" stop-color="#f1cf3d" stop-opacity="0.262"/><stop offset="0.625" stop-color="#f1cf3d" stop-opacity="0.105"/><stop offset="0.750" stop-color="#f1cf3d" stop-opacity="0.031"/><stop offset="0.875" stop-color="#f1cf3d" stop-opacity="0.006"/><stop offset="1.000" stop-color="#f1cf3d" stop-opacity="0.001"/></radialGradient>
<radialGradient id="g4_75"><stop offset="0.000" stop-color="#f6b43c" stop-opacity="0.797"/><stop offset="0.125" stop-color="#f6b43c" stop-opacity="0.741"/><stop offset="0.250" stop-color="#f6b43c" stop-opacity="0.586"/><stop offset="0.375" stop-color="#f6b43c" stop-opacity="0.383"/><stop offset="0.500" stop-color="#f6b43c" stop-opacity="0.198"/><stop offset="0.625" stop-color="#f6b43c" stop-opacity="0.079"/><stop offset="0.750" stop-color="#f6b43c" stop-opacity="0.024"/><stop offset="0.875" stop-color="#f6b43c" stop-opacity="0.005"/><stop offset="1.000" stop-color="#f6b43c" stop-opacity="0.001"/></radialGradient>
<radialGradient id="g5_50"><stop offset="0.000" stop-color="#f68b3e" stop-opacity="0.508"/><stop offset="0.125" stop-color="#f68b3e" stop-opacity="0.462"/><stop offset="0.250" stop-color="#f68b3e" stop-opacity="0.348"/><stop offset="0.375" stop-color="#f68b3e" stop-opacity="0.215"/><stop offset="0.500" stop-color="#f68b3e" stop-opacity="0.108"/><stop offset="0.625" stop-color="#f68b3e" stop-opacity="0.044"/><stop offset="0.750" stop-color="#f68b3e" stop-opacity="0.014"/><stop offset="0.875" stop-color="#f68b3e" stop-opacity="0.004"/><stop offset="1.000" stop-color="#f68b3e" stop-opacity="0.001"/></radialGradient>
<radialGradient id="g0_30"><stop offset="0.000" stop-color="#2d6a3e" stop-opacity="0.225"/><stop offset="0.125" stop-color="#2d6a3e" stop-opacity="0.205"/><stop offset="0.250" stop-color="#2d6a3e" stop-opacity="0.155"/><stop offset="0.375" stop-color="#2d6a3e" stop-opacity="0.097"/><stop offset="0.500" stop-color="#2d6a3e" stop-opacity="0.050"/><stop offset="0.625" stop-color="#2d6a3e" stop-opacity="0.021"/><stop offset="0.750" stop-color="#2d6a3e" stop-opacity="0.008"/><stop offset="0.875" stop-color="#2d6a3e" stop-opacity="0.002"/><stop offset="1.000" stop-color="#2d6a3e" stop-opacity="0.001"/></radialGradient>
<radialGradient id="g3_150"><stop offset="0.000" stop-color="#f1cf3d" stop-opacity="0.998"/><stop offset="0.091" stop-color="#f1cf3d" stop-opacity="0.996"/><stop offset="0.205" stop-color="#f1cf3d" stop-opacity="0.978"/><stop offset="0.318" stop-color="#f1cf3d" stop-opacity="0.904"/><stop offset="0.432" stop-color="#f1cf3d" stop-opacity="0.721"/><stop offset="0.545" stop-color="#f1cf3d" stop-opacity="0.444"/><stop offset="0.659" stop-color="#f1cf3d" stop-opacity="0.191"/><stop offset="0.773" stop-color="#f1cf3d" stop-opacity="0.054"/><stop offset="0.886" stop-color="#f1cf3d" stop-opacity="0.010"/><stop offset="1.000" stop-color="#f1cf3d" stop-opacity="0.001"/></radialGradient>
<radialGradient id="g4_45"><stop offset="0.000" stop-color="#f6b43c" stop-opacity="0.437"/><stop offset="0.125" stop-color="#f6b43c" stop-opacity="0.397"/><stop offset="0.250" stop-color="#f6b43c" stop-opacity="0.298"/><stop offset="0.375" stop-color="#f6b43c" stop-opacity="0.184"/><stop offset="0.500" stop-color="#f6b43c" stop-opacity="0.092"/><stop offset="0.625" stop-color="#f6b43c" stop-opacity="0.038"/><stop offset="0.750" stop-color="#f6b43c" stop-opacity="0.012"/><stop offset="0.875" stop-color="#f6b43c" stop-opacity="0.003"/><stop offset="1.000" stop-color="#f6b43c" stop-opacity="0.001"/></radialGradient>
<radialGradient id="g7_150"><stop offset="0.000" stop-color="#f52c46" stop-opacity="0.998"/><stop offset="0.091" stop-color="#f52c46" stop-opacity="0.996"/><stop offset="0.205" stop-color="#f52c46" stop-opacity="0.978"/><stop offset="0.318" stop-color="#f52c46" stop-opacity="0.904"/><stop offset="0.432" stop-color="#f52c46" stop-opacity="0.721"/><stop offset="0.545" stop-color="#f52c46" stop-opacity="0.444"/><stop offset="0.659" stop-color="#f52c46" stop-opacity="0.191"/><stop offset="0.773" stop-color="#f52c46" stop-opacity="0.054"/><stop offset="0.886" stop-color="#f52c46" stop-opacity="0.010"/><stop offset="1.000" stop-color="#f52c46" stop-opacity="0.001"/></radialGradient>
<radialGradient id="g0_185"><stop offset="0.000" stop-color="#2d6a3e" stop-opacity="1.000"/><stop offset="0.194" stop-color="#2d6a3e" stop-opacity="0.997"/><stop offset="0.294" stop-color="#2d6a3e" stop-opacity="0.981"/><stop offset="0.395" stop-color="#2d6a3e" stop-opacity="0.911"/><stop offset="0.496" stop-color="#2d6a3e" stop-opacity="0.732"/><stop offset="0.597" stop-color="#2d6a3e" stop-opacity="0.454"/><stop offset="0.698" stop-color="#2d6a3e" stop-opacity="0.198"/><stop offset="0.798" stop-color="#2d6a3e" stop-opacity="0.056"/><stop offset="0.899" stop-color="#2d6a3e" stop-opacity="0.010"/><stop offset="1.000" stop-color="#2d6a3e" stop-opacity="0.001"/></radialGradient>
<radialGradient id="g1_165"><stop offset="0.000" stop-color="#7f9c3c" stop-opacity="1.000"/><stop offset="0.138" stop-color="#7f9c3c" stop-opacity="0.997"/><stop offset="0.246" stop-color="#7f9c3c" stop-opacity="0.979"/><stop offset="0.353" stop-color="#7f9c3c" stop-opacity="0.907"/><stop offset="0.461" stop-color="#7f9c3c" stop-opacity="0.726"/><stop offset="0.569" stop-color="#7f9c3c" stop-opacity="0.449"/><stop offset="0.677" stop-color="#7f9c3c" stop-opacity="0.194"/><stop offset="0.784" stop-color="#7f9c3c" stop-opacity="0.055"/><stop offset="0.892" stop-color="#7f9c3c" stop-opacity="0.010"/><stop offset="1.000" stop-color="#7f9c3c" stop-opacity="0.001"/></radialGradient>
<radialGradient id="g2_135"><stop offset="0.000" stop-color="#b7c240" stop-opacity="0.994"/><stop offset="0.038" stop-color="#b7c240" stop-opacity="0.993"/><stop offset="0.159" stop-color="#b7c240" stop-opacity="0.975"/><stop offset="0.279" stop-color="#b7c240" stop-opacity="0.898"/><stop offset="0.399" stop-color="#b7c240" stop-opacity="0.713"/><stop offset="0.519" stop-color="#b7c240" stop-opacity="0.437"/><stop offset="0.639" stop-color="#b7c240" stop-opacity="0.188"/><stop offset="0.760" stop-color="#b7c240" stop-opacity="0.053"/><stop offset="0.880" stop-color="#b7c240" stop-opacity="0.009"/><stop offset="1.000" stop-color="#b7c240" stop-opacity="0.001"/></radialGradient>
<radialGradient id="g3_125"><stop offset="0.000" stop-color="#f1cf3d" stop-opacity="0.988"/><stop offset="0.125" stop-color="#f1cf3d" stop-opacity="0.971"/><stop offset="0.250" stop-color="#f1cf3d" stop-opacity="0.894"/><stop offset="0.375" stop-color="#f1cf3d" stop-opacity="0.707"/><stop offset="0.500" stop-color="#f1cf3d" stop-opacity="0.432"/><stop offset="0.625" stop-color="#f1cf3d" stop-opacity="0.185"/><stop offset="0.750" stop-color="#f1cf3d" stop-opacity="0.052"/><stop offset="0.875" stop-color="#f1cf3d" stop-opacity="0.009"/><stop offset="1.000" stop-color="#f1cf3d" stop-opacity="0.001"/></radialGradient>
<radialGradient id="g4_100"><stop offset="0.000" stop-color="#f6b43c" stop-opacity="0.941"/><stop offset="0.125" stop-color="#f6b43c" stop-opacity="0.902"/><stop offset="0.250" stop-color="#f6b43c" stop-opacity="0.773"/><stop offset="0.375" stop-color="#f6b43c" stop-opacity="0.554"/><stop offset="0.500" stop-color="#f6b43c" stop-opacity="0.308"/><stop offset="0.625" stop-color="#f6b43c" stop-opacity="0.126"/><stop offset="0.750" stop-color="#f6b43c" stop-opacity="0.036"/><stop offset="0.875" stop-color="#f6b43c" stop-opacity="0.007"/><stop offset="1.000" stop-color="#f6b43c" stop-opacity="0.001"/></radialGradient>
<radialGradient id="g5_110"><stop offset="0.000" stop-color="#f68b3e" stop-opacity="0.968"/><stop offset="0.125" stop-color="#f68b3e" stop-opacity="0.938"/><stop offset="0.250" stop-color="#f68b3e" stop-opacity="0.829"/><stop offset="0.375" stop-color="#f68b3e" stop-opacity="0.618"/><stop offset="0.500" stop-color="#f68b3e" stop-opacity="0.356"/><stop offset="0.625" stop-color="#f68b3e" stop-opacity="0.148"/><stop offset="0.750" stop-color="#f68b3e" stop-opacity="0.042"/><stop offset="0.875" stop-color="#f68b3e" stop-opacity="0.008"/><stop offset="1.000" stop-color="#f68b3e" stop-opacity="0.001"/></radialGradient>
<radialGradient id="g6_135"><stop offset="0.000" stop-color="#f56a5c" stop-opacity="0.994"/><stop offset="0.038" stop-color="#f56a5c" stop-opacity="0.993"/><stop offset="0.159" stop-color="#f56a5c" stop-opacity="0.975"/><stop offset="0.279" stop-color="#f56a5c" stop-opacity="0.898"/><stop offset="0.399" stop-color="#f56a5c" stop-opacity="0.713"/><stop offset="0.519" stop-color="#f56a5c" stop-opacity="0.437"/><stop offset="0.639" stop-color="#f56a5c" stop-opacity="0.188"/><stop offset="0.760" stop-color="#f56a5c" stop-opacity="0.053"/><stop offset="0.880" stop-color="#f56a5c" stop-opacity="0.009"/><stop offset="1.000" stop-color="#f56a5c" stop-opacity="0.001"/></radialGradient>
<radialGradient id="g7_70"><stop offset="0.000" stop-color="#f52c46" stop-opacity="0.751"/><stop offset="0.125" stop-color="#f52c46" stop-opacity="0.694"/><stop offset="0.250" stop-color="#f52c46" stop-opacity="0.542"/><stop offset="0.375" stop-color="#f52c46" stop-opacity="0.348"/><stop offset="0.500" stop-color="#f52c46" stop-opacity="0.178"/><stop offset="0.625" stop-color="#f52c46" stop-opacity="0.071"/><stop offset="0.750" stop-color="#f52c46" stop-opacity="0.021"/><stop offset="0.875" stop-color="#f52c46" stop-opacity="0.005"/><stop offset="1.000" stop-color="#f52c46" stop-opacity="0.001"/></radialGradient>
<radialGradient id="g5_100"><stop offset="0.000" stop-color="#f68b3e" stop-opacity="0.941"/><stop offset="0.125" stop-color="#f68b3e" stop-opacity="0.902"/><stop offset="0.250" stop-color="#f68b3e" stop-opacity="0.773"/><stop offset="0.375" stop-color="#f68b3e" stop-opacity="0.554"/><stop offset="0.500" stop-color="#f68b3e" stop-opacity="0.308"/><stop offset="0.625" stop-color="#f68b3e" stop-opacity="0.126"/><stop offset="0.750" stop-color="#f68b3e" stop-opacity="0.036"/><stop offset="0.875" stop-color="#f68b3e" stop-opacity="0.007"/><stop offset="1.000" stop-color="#f68b3e" stop-opacity="0.001"/></radialGradient>
<radialGradient id="g6_305"><stop offset="0.000" stop-color="#f56a5c" stop-opacity="1.000"/><stop offset="0.419" stop-color="#f56a5c" stop-opacity="0.998"/><stop offset="0.491" stop-color="#f56a5c" stop-opacity="0.984"/><stop offset="0.564" stop-color="#f56a5c" stop-opacity="0.921"/><stop offset="0.637" stop-color="#f56a5c" stop-opacity="0.749"/><stop offset="0.709" stop-color="#f56a5c" stop-opacity="0.472"/><stop offset="0.782" stop-color="#f56a5c" stop-opacity="0.209"/><stop offset="0.855" stop-color="#f56a5c" stop-opacity="0.060"/><stop offset="0.927" stop-color="#f56a5c" stop-opacity="0.011"/><stop offset="1.000" stop-color="#f56a5c" stop-opacity="0.001"/></radialGradient>
<radialGradient id="g3_40"><stop offset="0.000" stop-color="#f1cf3d" stop-opacity="0.365"/><stop offset="0.125" stop-color="#f1cf3d" stop-opacity="0.331"/><stop offset="0.250" stop-color="#f1cf3d" stop-opacity="0.249"/><stop offset="0.375" stop-color="#f1cf3d" stop-opacity="0.154"/><stop offset="0.500" stop-color="#f1cf3d" stop-opacity="0.078"/><stop offset="0.625" stop-color="#f1cf3d" stop-opacity="0.032"/><stop offset="0.750" stop-color="#f1cf3d" stop-opacity="0.011"/><stop offset="0.875" stop-color="#f1cf3d" stop-opacity="0.003"/><stop offset="1.000" stop-color="#f1cf3d" stop-opacity="0.001"/></radialGradient>
<radialGradient id="g4_60"><stop offset="0.000" stop-color="#f6b43c" stop-opacity="0.640"/><stop offset="0.125" stop-color="#f6b43c" stop-opacity="0.586"/><stop offset="0.250" stop-color="#f6b43c" stop-opacity="0.447"/><stop offset="0.375" stop-color="#f6b43c" stop-opacity="0.281"/><stop offset="0.500" stop-color="#f6b43c" stop-opacity="0.142"/><stop offset="0.625" stop-color="#f6b43c" stop-opacity="0.056"/><stop offset="0.750" stop-color="#f6b43c" stop-opacity="0.017"/><stop offset="0.875" stop-color="#f6b43c" stop-opacity="0.004"/><stop offset="1.000" stop-color="#f6b43c" stop-opacity="0.001"/></radialGradient>
<radialGradient id="g4_30"><stop offset="0.000" stop-color="#f6b43c" stop-opacity="0.225"/><stop offset="0.125" stop-color="#f6b43c" stop-opacity="0.205"/><stop offset="0.250" stop-color="#f6b43c" stop-opacity="0.155"/><stop offset="0.375" stop-color="#f6b43c" stop-opacity="0.097"/><stop offset="0.500" stop-color="#f6b43c" stop-opacity="0.050"/><stop offset="0.625" stop-color="#f6b43c" stop-opacity="0.021"/><stop offset="0.750" stop-color="#f6b43c" stop-opacity="0.008"/><stop offset="0.875" stop-color="#f6b43c" stop-opacity="0.002"/><stop offset="1.000" stop-color="#f6b43c" stop-opacity="0.001"/></radialGradient>
<radialGradient id="g6_30"><stop offset="0.000" stop-color="#f56a5c" stop-opacity="0.225"/><stop offset="0.125" stop-color="#f56a5c" stop-opacity="0.205"/><stop offset="0.250" stop-color="#f56a5c" stop-opacity="0.155"/><stop offset="0.375" stop-color="#f56a5c" stop-opacity="0.097"/><stop offset="0.500" stop-color="#f56a5c" stop-opacity="0.050"/><stop offset="0.625" stop-color="#f56a5c" stop-opacity="0.021"/><stop offset="0.750" stop-color="#f56a5c" stop-opacity="0.008"/><stop offset="0.875" stop-color="#f56a5c" stop-opacity="0.002"/><stop offset="1.000" stop-color="#f56a5c" stop-opacity="0.001"/></radialGradient>
<radialGradient id="g7_155"><stop offset="0.000" stop-color="#f52c46" stop-opacity="0.999"/><stop offset="0.107" stop-color="#f52c46" stop-opacity="0.996"/><stop offset="0.219" stop-color="#f52c46" stop-opacity="0.978"/><stop offset="0.330" stop-color="#f52c46" stop-opacity="0.905"/><stop offset="0.442" stop-color="#f52c46" stop-opacity="0.723"/><stop offset="0.554" stop-color="#f52c46" stop-opacity="0.445"/><stop offset="0.665" stop-color="#f52c46" stop-opacity="0.192"/><stop offset="0.777" stop-color="#f52c46" stop-opacity="0.054"/><stop offset="0.888" stop-color="#f52c46" stop-opacity="0.010"/><stop offset="1.000" stop-color="#f52c46" stop-opacity="0.001"/></radialGradient>
<radialGradient id="g0_275"><stop offset="0.000" stop-color="#2d6a3e" stop-opacity="1.000"/><stop offset="0.375" stop-color="#2d6a3e" stop-opacity="0.998"/><stop offset="0.453" stop-color="#2d6a3e" stop-opacity="0.984"/><stop offset="0.531" stop-color="#2d6a3e" stop-opacity="0.919"/><stop offset="0.609" stop-color="#2d6a3e" stop-opacity="0.746"/><stop offset="0.688" stop-color="#2d6a3e" stop-opacity="0.469"/><stop offset="0.766" stop-color="#2d6a3e" stop-opacity="0.207"/><stop offset="0.844" stop-color="#2d6a3e" stop-opacity="0.060"/><stop offset="0.922" stop-color="#2d6a3e" stop-opacity="0.011"/><stop offset="1.000" stop-color="#2d6a3e" stop-opacity="0.001"/></radialGradient>
<radialGradient id="g0_100"><stop offset="0.000" stop-color="#2d6a3e" stop-opacity="0.941"/><stop offset="0.125" stop-color="#2d6a3e" stop-opacity="0.902"/><stop offset="0.250" stop-color="#2d6a3e" stop-opacity="0.773"/><stop offset="0.375" stop-color="#2d6a3e" stop-opacity="0.554"/><stop offset="0.500" stop-color="#2d6a3e" stop-opacity="0.308"/><stop offset="0.625" stop-color="#2d6a3e" stop-opacity="0.126"/><stop offset="0.750" stop-color="#2d6a3e" stop-opacity="0.036"/><stop offset="0.875" stop-color="#2d6a3e" stop-opacity="0.007"/><stop offset="1.000" stop-color="#2d6a3e" stop-opacity="0.001"/></radialGradient>
<radialGradient id="g6_65"><stop offset="0.000" stop-color="#f56a5c" stop-opacity="0.698"/><stop offset="0.125" stop-color="#f56a5c" stop-opacity="0.642"/><stop offset="0.250" stop-color="#f56a5c" stop-opacity="0.496"/><stop offset="0.375" stop-color="#f56a5c" stop-opacity="0.314"/><stop offset="0.500" stop-color="#f56a5c" stop-opacity="0.160"/><stop offset="0.625" stop-color="#f56a5c" stop-opacity="0.063"/><stop offset="0.750" stop-color="#f56a5c" stop-opacity="0.019"/><stop offset="0.875" stop-color="#f56a5c" stop-opacity="0.005"/><stop offset="1.000" stop-color="#f56a5c" stop-opacity="0.001"/></radialGradient>
<radialGradient id="g7_60"><stop offset="0.000" stop-color="#f52c46" stop-opacity="0.640"/><stop offset="0.125" stop-color="#f52c46" stop-opacity="0.586"/><stop offset="0.250" stop-color="#f52c46" stop-opacity="0.447"/><stop offset="0.375" stop-color="#f52c46" stop-opacity="0.281"/><stop offset="0.500" stop-color="#f52c46" stop-opacity="0.142"/><stop offset="0.625" stop-color="#f52c46" stop-opacity="0.056"/><stop offset="0.750" stop-color="#f52c46" stop-opacity="0.017"/><stop offset="0.875" stop-color="#f52c46" stop-opacity="0.004"/><stop offset="1.000" stop-color="#f52c46" stop-opacity="0.001"/></radialGradient>
<radialGradient id="g0_75"><stop offset="0.000" stop-color="#2d6a3e" stop-opacity="0.797"/><stop offset="0.125" stop-color="#2d6a3e" stop-opacity="0.741"/><stop offset="0.250" stop-color="#2d6a3e" stop-opacity="0.586"/><stop offset="0.375" stop-color="#2d6a3e" stop-opacity="0.383"/><stop offset="0.500" stop-color="#2d6a3e" stop-opacity="0.198"/><stop offset="0.625" stop-color="#2d6a3e" stop-opacity="0.079"/><stop offset="0.750" stop-color="#2d6a3e" stop-opacity="0.024"/><stop offset="0.875" stop-color="#2d6a3e" stop-opacity="0.005"/><stop offset="1.000" stop-color="#2d6a3e" stop-opacity="0.001"/></radialGradient>
<radialGradient id="g2_80"><stop offset="0.000" stop-color="#b7c240" stop-opacity="0.837"/><stop offset="0.125" stop-color="#b7c240" stop-opacity="0.783"/><stop offset="0.250" stop-color="#b7c240" stop-opacity="0.629"/><stop offset="0.375" stop-color="#b7c240" stop-opacity="0.417"/><stop offset="0.500" stop-color="#b7c240" stop-opacity="0.219"/><stop offset="0.625" stop-color="#b7c240" stop-opacity="0.087"/><stop offset="0.750" stop-color="#b7c240" stop-opacity="0.026"/><stop offset="0.875" stop-color="#b7c240" stop-opacity="0.006"/><stop offset="1.000" stop-color="#b7c240" stop-opacity="0.001"/></radialGradient>
<radialGradient id="g3_115"><stop offset="0.000" stop-color="#f1cf3d" stop-opacity="0.976"/><stop offset="0.125" stop-color="#f1cf3d" stop-opacity="0.952"/><stop offset="0.250" stop-color="#f1cf3d" stop-opacity="0.853"/><stop offset="0.375" stop-color="#f1cf3d" stop-opacity="0.649"/><stop offset="0.500" stop-color="#f1cf3d" stop-opacity="0.381"/><stop offset="0.625" stop-color="#f1cf3d" stop-opacity="0.160"/><stop offset="0.750" stop-color="#f1cf3d" stop-opacity="0.045"/><stop offset="0.875" stop-color="#f1cf3d" stop-opacity="0.008"/><stop offset="1.000" stop-color="#f1cf3d" stop-opacity="0.001"/></radialGradient>
<radialGradient id="g5_115"><stop offset="0.000" stop-color="#f68b3e" stop-opacity="0.976"/><stop offset="0.125" stop-color="#f68b3e" stop-opacity="0.952"/><stop offset="0.250" stop-color="#f68b3e" stop-opacity="0.853"/><stop offset="0.375" stop-color="#f68b3e" stop-opacity="0.649"/><stop offset="0.500" stop-color="#f68b3e" stop-opacity="0.381"/><stop offset="0.625" stop-color="#f68b3e" stop-opacity="0.160"/><stop offset="0.750" stop-color="#f68b3e" stop-opacity="0.045"/><stop offset="0.875" stop-color="#f68b3e" stop-opacity="0.008"/><stop offset="1.000" stop-color="#f68b3e" stop-opacity="0.001"/></radialGradient>
<radialGradient id="g7_50"><stop offset="0.000" stop-color="#f52c46" stop-opacity="0.508"/><stop offset="0.125" stop-color="#f52c46" stop-opacity="0.462"/><stop offset="0.250" stop-color="#f52c46" stop-opacity="0.348"/><stop offset="0.375" stop-color="#f52c46" stop-opacity="0.215"/><stop offset="0.500" stop-color="#f52c46" stop-opacity="0.108"/><stop offset="0.625" stop-color="#f52c46" stop-opacity="0.044"/><stop offset="0.750" stop-color="#f52c46" stop-opacity="0.014"/><stop offset="0.875" stop-color="#f52c46" stop-opacity="0.004"/><stop offset="1.000" stop-color="#f52c46" stop-opacity="0.001"/></radialGradient>
<radialGradient id="g1_125"><stop offset="0.000" stop-color="#7f9c3c" stop-opacity="0.988"/><stop offset="0.125" stop-color="#7f9c3c" stop-opacity="0.971"/><stop offset="0.250" stop-color="#7f9c3c" stop-opacity="0.894"/><stop offset="0.375" stop-color="#7f9c3c" stop-opacity="0.707"/><stop offset="0.500" stop-color="#7f9c3c" stop-opacity="0.432"/><stop offset="0.625" stop-color="#7f9c3c" stop-opacity="0.185"/><stop offset="0.750" stop-color="#7f9c3c" stop-opacity="0.052"/><stop offset="0.875" stop-color="#7f9c3c" stop-opacity="0.009"/><stop offset="1.000" stop-color="#7f9c3c" stop-opacity="0.001"/></radialGradient>
<radialGradient id="g4_95"><stop offset="0.000" stop-color="#f6b43c" stop-opacity="0.923"/><stop offset="0.125" stop-color="#f6b43c" stop-opacity="0.879"/><stop offset="0.250" stop-color="#f6b43c" stop-opacity="0.741"/><stop offset="0.375" stop-color="#f6b43c" stop-opacity="0.520"/><stop offset="0.500" stop-color="#f6b43c" stop-opacity="0.285"/><stop offset="0.625" stop-color="#f6b43c" stop-opacity="0.115"/><stop offset="0.750" stop-color="#f6b43c" stop-opacity="0.033"/><stop offset="0.875" stop-color="#f6b43c" stop-opacity="0.007"/><stop offset="1.000" stop-color="#f6b43c" stop-opacity="0.001"/></radialGradient>
<radialGradient id="g7_65"><stop offset="0.000" stop-color="#f52c46" stop-opacity="0.698"/><stop offset="0.125" stop-color="#f52c46" stop-opacity="0.642"/><stop offset="0.250" stop-color="#f52c46" stop-opacity="0.496"/><stop offset="0.375" stop-color="#f52c46" stop-opacity="0.314"/><stop offset="0.500" stop-color="#f52c46" stop-opacity="0.160"/><stop offset="0.625" stop-color="#f52c46" stop-opacity="0.063"/><stop offset="0.750" stop-color="#f52c46" stop-opacity="0.019"/><stop offset="0.875" stop-color="#f52c46" stop-opacity="0.005"/><stop offset="1.000" stop-color="#f52c46" stop-opacity="0.001"/></radialGradient>
<radialGradient id="g1_100"><stop offset="0.000" stop-color="#7f9c3c" stop-opacity="0.941"/><stop offset="0.125" stop-color="#7f9c3c" stop-opacity="0.902"/><stop offset="0.250" stop-color="#7f9c3c" stop-opacity="0.773"/><stop offset="0.375" stop-color="#7f9c3c" stop-opacity="0.554"/><stop offset="0.500" stop-color="#7f9c3c" stop-opacity="0.308"/><stop offset="0.625" stop-color="#7f9c3c" stop-opacity="0.126"/><stop offset="0.750" stop-color="#7f9c3c" stop-opacity="0.036"/><stop offset="0.875" stop-color="#7f9c3c" stop-opacity="0.007"/><stop offset="1.000" stop-color="#7f9c3c" stop-opacity="0.001"/></radialGradient>
<radialGradient id="g7_55"><stop offset="0.000" stop-color="#f52c46" stop-opacity="0.576"/><stop offset="0.125" stop-color="#f52c46" stop-opacity="0.526"/><stop offset="0.250" stop-color="#f52c46" stop-opacity="0.398"/><stop offset="0.375" stop-color="#f52c46" stop-opacity="0.248"/><stop offset="0.500" stop-color="#f52c46" stop-opacity="0.124"/><stop offset="0.625" stop-color="#f52c46" stop-opacity="0.050"/><stop offset="0.750" stop-color="#f52c46" stop-opacity="0.016"/><stop offset="0.875" stop-color="#f52c46" stop-opacity="0.004"/><stop offset="1.000" stop-color="#f52c46" stop-opacity="0.001"/></radialGradient>
<radialGradient id="g1_75"><stop offset="0.000" stop-color="#7f9c3c" stop-opacity="0.797"/><stop offset="0.125" stop-color="#7f9c3c" stop-opacity="0.741"/><stop offset="0.250" stop-color="#7f9c3c" stop-opacity="0.586"/><stop offset="0.375" stop-color="#7f9c3c" stop-opacity="0.383"/><stop offset="0.500" stop-color="#7f9c3c" stop-opacity="0.198"/><stop offset="0.625" stop-color="#7f9c3c" stop-opacity="0.079"/><stop offset="0.750" stop-color="#7f9c3c" stop-opacity="0.024"/><stop offset="0.875" stop-color="#7f9c3c" stop-opacity="0.005"/><stop offset="1.000" stop-color="#7f9c3c" stop-opacity="0.001"/></radialGradient>
<radialGradient id="g3_95"><stop offset="0.000" stop-color="#f1cf3d" stop-opacity="0.923"/><stop offset="0.125" stop-color="#f1cf3d" stop-opacity="0.879"/><stop offset="0.250" stop-color="#f1cf3d" stop-opacity="0.741"/><stop offset="0.375" stop-color="#f1cf3d" stop-opacity="0.520"/><stop offset="0.500" stop-color="#f1cf3d" stop-opacity="0.285"/><stop offset="0.625" stop-color="#f1cf3d" stop-opacity="0.115"/><stop offset="0.750" stop-color="#f1cf3d" stop-opacity="0.033"/><stop offset="0.875" stop-color="#f1cf3d" stop-opacity="0.007"/><stop offset="1.000" stop-color="#f1cf3d" stop-opacity="0.001"/></radialGradient>
<radialGradient id="g6_115"><stop offset="0.000" stop-color="#f56a5c" stop-opacity="0.976"/><stop offset="0.125" stop-color="#f56a5c" stop-opacity="0.952"/><stop offset="0.250" stop-color="#f56a5c" stop-opacity="0.853"/><stop offset="0.375" stop-color="#f56a5c" stop-opacity="0.649"/><stop offset="0.500" stop-color="#f56a5c" stop-opacity="0.381"/><stop offset="0.625" stop-color="#f56a5c" stop-opacity="0.160"/><stop offset="0.750" stop-color="#f56a5c" stop-opacity="0.045"/><stop offset="0.875" stop-color="#f56a5c" stop-opacity="0.008"/><stop offset="1.000" stop-color="#f56a5c" stop-opacity="0.001"/></radialGradient>
<radialGradient id="g1_140"><stop offset="0.000" stop-color="#7f9c3c" stop-opacity="0.996"/><stop offset="0.057" stop-color="#7f9c3c" stop-opacity="0.995"/><stop offset="0.175" stop-color="#7f9c3c" stop-opacity="0.976"/><stop offset="0.292" stop-color="#7f9c3c" stop-opacity="0.900"/><stop offset="0.410" stop-color="#7f9c3c" stop-opacity="0.716"/><stop offset="0.528" stop-color="#7f9c3c" stop-opacity="0.439"/><stop offset="0.646" stop-color="#7f9c3c" stop-opacity="0.189"/><stop offset="0.764" stop-color="#7f9c3c" stop-opacity="0.053"/><stop offset="0.882" stop-color="#7f9c3c" stop-opacity="0.009"/><stop offset="1.000" stop-color="#7f9c3c" stop-opacity="0.001"/></radialGradient>
<radialGradient id="g4_115"><stop offset="0.000" stop-color="#f6b43c" stop-opacity="0.976"/><stop offset="0.125" stop-color="#f6b43c" stop-opacity="0.952"/><stop offset="0.250" stop-color="#f6b43c" stop-opacity="0.853"/><stop offset="0.375" stop-color="#f6b43c" stop-opacity="0.649"/><stop offset="0.500" stop-color="#f6b43c" stop-opacity="0.381"/><stop offset="0.625" stop-color="#f6b43c" stop-opacity="0.160"/><stop offset="0.750" stop-color="#f6b43c" stop-opacity="0.045"/><stop offset="0.875" stop-color="#f6b43c" stop-opacity="0.008"/><stop offset="1.000" stop-color="#f6b43c" stop-opacity="0.001"/></radialGradient>
<radialGradient id="g7_125"><stop offset="0.000" stop-color="#f52c46" stop-opacity="0.988"/><stop offset="0.125" stop-color="#f52c46" stop-opacity="0.971"/><stop offset="0.250" stop-color="#f52c46" stop-opacity="0.894"/><stop offset="0.375" stop-color="#f52c46" stop-opacity="0.707"/><stop offset="0.500" stop-color="#f52c46" stop-opacity="0.432"/><stop offset="0.625" stop-color="#f52c46" stop-opacity="0.185"/><stop offset="0.750" stop-color="#f52c46" stop-opacity="0.052"/><stop offset="0.875" stop-color="#f52c46" stop-opacity="0.009"/><stop offset="1.000" stop-color="#f52c46" stop-opacity="0.001"/></radialGradient>
<radialGradient id="g1_60"><stop offset="0.000" stop-color="#7f9c3c" stop-opacity="0.640"/><stop offset="0.125" stop-color="#7f9c3c" stop-opacity="0.586"/><stop offset="0.250" stop-color="#7f9c3c" stop-opacity="0.447"/><stop offset="0.375" stop-color="#7f9c3c" stop-opacity="0.281"/><stop offset="0.500" stop-color="#7f9c3c" stop-opacity="0.142"/><stop offset="0.625" stop-color="#7f9c3c" stop-opacity="0.056"/><stop offset="0.750" stop-color="#7f9c3c" stop-opacity="0.017"/><stop offset="0.875" stop-color="#7f9c3c" stop-opacity="0.004"/><stop offset="1.000" stop-color="#7f9c3c" stop-opacity="0.001"/></radialGradient>
<radialGradient id="g5_30"><stop offset="0.000" stop-color="#f68b3e" stop-opacity="0.225"/><stop offset="0.125" stop-color="#f68b3e" stop-opacity="0.205"/><stop offset="0.250" stop-color="#f68b3e" stop-opacity="0.155"/><stop offset="0.375" stop-color="#f68b3e" stop-opacity="0.097"/><stop offset="0.500" stop-color="#f68b3e" stop-opacity="0.050"/><stop offset="0.625" stop-color="#f68b3e" stop-opacity="0.021"/><stop offset="0.750" stop-color="#f68b3e" stop-opacity="0.008"/><stop offset="0.875" stop-color="#f68b3e" stop-opacity="0.002"/><stop offset="1.000" stop-color="#f68b3e" stop-opacity="0.001"/></radialGradient>
<radialGradient id="g2_35"><stop offset="0.000" stop-color="#b7c240" stop-opacity="0.293"/><stop offset="0.125" stop-color="#b7c240" stop-opacity="0.267"/><stop offset="0.250" stop-color="#b7c240" stop-opacity="0.201"/><stop offset="0.375" stop-color="#b7c240" stop-opacity="0.124"/><stop offset="0.500" stop-color="#b7c240" stop-opacity="0.064"/><stop offset="0.625" stop-color="#b7c240" stop-opacity="0.027"/><stop offset="0.750" stop-color="#b7c240" stop-opacity="0.009"/><stop offset="0.875" stop-color="#b7c240" stop-opacity="0.003"/><stop offset="1.000" stop-color="#b7c240" stop-opacity="0.001"/></radialGradient>
<radialGradient id="g4_55"><stop offset="0.000" stop-color="#f6b43c" stop-opacity="0.576"/><stop offset="0.125" stop-color="#f6b43c" stop-opacity="0.526"/><stop offset="0.250" stop-color="#f6b43c" stop-opacity="0.398"/><stop offset="0.375" stop-color="#f6b43c" stop-opacity="0.248"/><stop offset="0.500" stop-color="#f6b43c" stop-opacity="0.124"/><stop offset="0.625" stop-color="#f6b43c" stop-opacity="0.050"/><stop offset="0.750" stop-color="#f6b43c" stop-opacity="0.016"/><stop offset="0.875" stop-color="#f6b43c" stop-opacity="0.004"/><stop offset="1.000" stop-color="#f6b43c" stop-opacity="0.001"/></radialGradient>
<radialGradient id="g6_50"><stop offset="0.000" stop-color="#f56a5c" stop-opacity="0.508"/><stop offset="0.125" stop-color="#f56a5c" stop-opacity="0.462"/><stop offset="0.250" stop-color="#f56a5c" stop-opacity="0.348"/><stop offset="0.375" stop-color="#f56a5c" stop-opacity="0.215"/><stop offset="0.500" stop-color="#f56a5c" stop-opacity="0.108"/><stop offset="0.625" stop-color="#f56a5c" stop-opacity="0.044"/><stop offset="0.750" stop-color="#f56a5c" stop-opacity="0.014"/><stop offset="0.875" stop-color="#f56a5c" stop-opacity="0.004"/><stop offset="1.000" stop-color="#f56a5c" stop-opacity="0.001"/></radialGradient>
<radialGradient id="g7_210"><stop offset="0.000" stop-color="#f52c46" stop-opacity="1.000"/><stop offset="0.254" stop-color="#f52c46" stop-opacity="0.998"/><stop offset="0.347" stop-color="#f52c46" stop-opacity="0.982"/><stop offset="0.440" stop-color="#f52c46" stop-opacity="0.914"/><stop offset="0.534" stop-color="#f52c46" stop-opacity="0.737"/><stop offset="0.627" stop-color="#f52c46" stop-opacity="0.460"/><stop offset="0.720" stop-color="#f52c46" stop-opacity="0.201"/><stop offset="0.813" stop-color="#f52c46" stop-opacity="0.058"/><stop offset="0.907" stop-color="#f52c46" stop-opacity="0.010"/><stop offset="1.000" stop-color="#f52c46" stop-opacity="0.001"/></radialGradient>
<radialGradient id="g1_95"><stop offset="0.000" stop-color="#7f9c3c" stop-opacity="0.923"/><stop offset="0.125" stop-color="#7f9c3c" stop-opacity="0.879"/><stop offset="0.250" stop-color="#7f9c3c" stop-opacity="0.741"/><stop offset="0.375" stop-color="#7f9c3c" stop-opacity="0.520"/><stop offset="0.500" stop-color="#7f9c3c" stop-opacity="0.285"/><stop offset="0.625" stop-color="#7f9c3c" stop-opacity="0.115"/><stop offset="0.750" stop-color="#7f9c3c" stop-opacity="0.033"/><stop offset="0.875" stop-color="#7f9c3c" stop-opacity="0.007"/><stop offset="1.000" stop-color="#7f9c3c" stop-opacity="0.001"/></radialGradient>
<radialGradient id="g2_180"><stop offset="0.000" stop-color="#b7c240" stop-opacity="1.000"/><stop offset="0.180" stop-color="#b7c240" stop-opacity="0.997"/><stop offset="0.283" stop-color="#b7c240" stop-opacity="0.981"/><stop offset="0.385" stop-color="#b7c240" stop-opacity="0.910"/><stop offset="0.488" stop-color="#b7c240" stop-opacity="0.731"/><stop offset="0.590" stop-color="#b7c240" stop-opacity="0.453"/><stop offset="0.693" stop-color="#b7c240" stop-opacity="0.197"/><stop offset="0.795" stop-color="#b7c240" stop-opacity="0.056"/><stop offset="0.898" stop-color="#b7c240" stop-opacity="0.010"/><stop offset="1.000" stop-color="#b7c240" stop-opacity="0.001"/></radialGradient>
<radialGradient id="g4_110"><stop offset="0.000" stop-color="#f6b43c" stop-opacity="0.968"/><stop offset="0.125" stop-color="#f6b43c" stop-opacity="0.938"/><stop offset="0.250" stop-color="#f6b43c" stop-opacity="0.829"/><stop offset="0.375" stop-color="#f6b43c" stop-opacity="0.618"/><stop offset="0.500" stop-color="#f6b43c" stop-opacity="0.356"/><stop offset="0.625" stop-color="#f6b43c" stop-opacity="0.148"/><stop offset="0.750" stop-color="#f6b43c" stop-opacity="0.042"/><stop offset="0.875" stop-color="#f6b43c" stop-opacity="0.008"/><stop offset="1.000" stop-color="#f6b43c" stop-opacity="0.001"/></radialGradient>
<radialGradient id="g2_100"><stop offset="0.000" stop-color="#b7c240" stop-opacity="0.941"/><stop offset="0.125" stop-color="#b7c240" stop-opacity="0.902"/><stop offset="0.250" stop-color="#b7c240" stop-opacity="0.773"/><stop offset="0.375" stop-color="#b7c240" stop-opacity="0.554"/><stop offset="0.500" stop-color="#b7c240" stop-opacity="0.308"/><stop offset="0.625" stop-color="#b7c240" stop-opacity="0.126"/><stop offset="0.750" stop-color="#b7c240" stop-opacity="0.036"/><stop offset="0.875" stop-color="#b7c240" stop-opacity="0.007"/><stop offset="1.000" stop-color="#b7c240" stop-opacity="0.001"/></radialGradient>
<radialGradient id="g6_120"><stop offset="0.000" stop-color="#f56a5c" stop-opacity="0.983"/><stop offset="0.125" stop-color="#f56a5c" stop-opacity="0.962"/><stop offset="0.250" stop-color="#f56a5c" stop-opacity="0.875"/><stop offset="0.375" stop-color="#f56a5c" stop-opacity="0.679"/><stop offset="0.500" stop-color="#f56a5c" stop-opacity="0.407"/><stop offset="0.625" stop-color="#f56a5c" stop-opacity="0.172"/><stop offset="0.750" stop-color="#f56a5c" stop-opacity="0.048"/><stop offset="0.875" stop-color="#f56a5c" stop-opacity="0.009"/><stop offset="1.000" stop-color="#f56a5c" stop-opacity="0.001"/></radialGradient>
<radialGradient id="g2_65"><stop offset="0.000" stop-color="#b7c240" stop-opacity="0.698"/><stop offset="0.125" stop-color="#b7c240" stop-opacity="0.642"/><stop offset="0.250" stop-color="#b7c240" stop-opacity="0.496"/><stop offset="0.375" stop-color="#b7c240" stop-opacity="0.314"/><stop offset="0.500" stop-color="#b7c240" stop-opacity="0.160"/><stop offset="0.625" stop-color="#b7c240" stop-opacity="0.063"/><stop offset="0.750" stop-color="#b7c240" stop-opacity="0.019"/><stop offset="0.875" stop-color="#b7c240" stop-opacity="0.005"/><stop offset="1.000" stop-color="#b7c240" stop-opacity="0.001"/></radialGradient>
<radialGradient id="g3_140"><stop offset="0.000" stop-color="#f1cf3d" stop-opacity="0.996"/><stop offset="0.057" stop-color="#f1cf3d" stop-opacity="0.995"/><stop offset="0.175" stop-color="#f1cf3d" stop-opacity="0.976"/><stop offset="0.292" stop-color="#f1cf3d" stop-opacity="0.900"/><stop offset="0.410" stop-color="#f1cf3d" stop-opacity="0.716"/><stop offset="0.528" stop-color="#f1cf3d" stop-opacity="0.439"/><stop offset="0.646" stop-color="#f1cf3d" stop-opacity="0.189"/><stop offset="0.764" stop-color="#f1cf3d" stop-opacity="0.053"/><stop offset="0.882" stop-color="#f1cf3d" stop-opacity="0.009"/><stop offset="1.000" stop-color="#f1cf3d" stop-opacity="0.001"/></radialGradient>
<radialGradient id="g4_140"><stop offset="0.000" stop-color="#f6b43c" stop-opacity="0.996"/><stop offset="0.057" stop-color="#f6b43c" stop-opacity="0.995"/><stop offset="0.175" stop-color="#f6b43c" stop-opacity="0.976"/><stop offset="0.292" stop-color="#f6b43c" stop-opacity="0.900"/><stop offset="0.410" stop-color="#f6b43c" stop-opacity="0.716"/><stop offset="0.528" stop-color="#f6b43c" stop-opacity="0.439"/><stop offset="0.646" stop-color="#f6b43c" stop-opacity="0.189"/><stop offset="0.764" stop-color="#f6b43c" stop-opacity="0.053"/><stop offset="0.882" stop-color="#f6b43c" stop-opacity="0.009"/><stop offset="1.000" stop-color="#f6b43c" stop-opacity="0.001"/></radialGradient>
<radialGradient id="g5_65"><stop offset="0.000" stop-color="#f68b3e" stop-opacity="0.698"/><stop offset="0.125" stop-color="#f68b3e" stop-opacity="0.642"/><stop offset="0.250" stop-color="#f68b3e" stop-opacity="0.496"/><stop offset="0.375" stop-color="#f68b3e" stop-opacity="0.314"/><stop offset="0.500" stop-color="#f68b3e" stop-opacity="0.160"/><stop offset="0.625" stop-color="#f68b3e" stop-opacity="0.063"/><stop offset="0.750" stop-color="#f68b3e" stop-opacity="0.019"/><stop offset="0.875" stop-color="#f68b3e" stop-opacity="0.005"/><stop offset="1.000" stop-color="#f68b3e" stop-opacity="0.001"/></radialGradient>
<radialGradient id="g6_155"><stop offset="0.000" stop-color="#f56a5c" stop-opacity="0.999"/><stop offset="0.107" stop-color="#f56a5c" stop-opacity="0.996"/><stop offset="0.219" stop-color="#f56a5c" stop-opacity="0.978"/><stop offset="0.330" stop-color="#f56a5c" stop-opacity="0.905"/><stop offset="0.442" stop-color="#f56a5c" stop-opacity="0.723"/><stop offset="0.554" stop-color="#f56a5c" stop-opacity="0.445"/><stop offset="0.665" stop-color="#f56a5c" stop-opacity="0.192"/><stop offset="0.777" stop-color="#f56a5c" stop-opacity="0.054"/><stop offset="0.888" stop-color="#f56a5c" stop-opacity="0.010"/><stop offset="1.000" stop-color="#f56a5c" stop-opacity="0.001"/></radialGradient>
<radialGradient id="g0_95"><stop offset="0.000" stop-color="#2d6a3e" stop-opacity="0.923"/><stop offset="0.125" stop-color="#2d6a3e" stop-opacity="0.879"/><stop offset="0.250" stop-color="#2d6a3e" stop-opacity="0.741"/><stop offset="0.375" stop-color="#2d6a3e" stop-opacity="0.520"/><stop offset="0.500" stop-color="#2d6a3e" stop-opacity="0.285"/><stop offset="0.625" stop-color="#2d6a3e" stop-opacity="0.115"/><stop offset="0.750" stop-color="#2d6a3e" stop-opacity="0.033"/><stop offset="0.875" stop-color="#2d6a3e" stop-opacity="0.007"/><stop offset="1.000" stop-color="#2d6a3e" stop-opacity="0.001"/></radialGradient>
<radialGradient id="g1_170"><stop offset="0.000" stop-color="#7f9c3c" stop-opacity="1.000"/><stop offset="0.153" stop-color="#7f9c3c" stop-opacity="0.997"/><stop offset="0.258" stop-color="#7f9c3c" stop-opacity="0.980"/><stop offset="0.364" stop-color="#7f9c3c" stop-opacity="0.909"/><stop offset="0.470" stop-color="#7f9c3c" stop-opacity="0.728"/><stop offset="0.576" stop-color="#7f9c3c" stop-opacity="0.450"/><stop offset="0.682" stop-color="#7f9c3c" stop-opacity="0.195"/><stop offset="0.788" stop-color="#7f9c3c" stop-opacity="0.055"/><stop offset="0.894" stop-color="#7f9c3c" stop-opacity="0.010"/><stop offset="1.000" stop-color="#7f9c3c" stop-opacity="0.001"/></radialGradient>
<radialGradient id="g2_125"><stop offset="0.000" stop-color="#b7c240" stop-opacity="0.988"/><stop offset="0.125" stop-color="#b7c240" stop-opacity="0.971"/><stop offset="0.250" stop-color="#b7c240" stop-opacity="0.894"/><stop offset="0.375" stop-color="#b7c240" stop-opacity="0.707"/><stop offset="0.500" stop-color="#b7c240" stop-opacity="0.432"/><stop offset="0.625" stop-color="#b7c240" stop-opacity="0.185"/><stop offset="0.750" stop-color="#b7c240" stop-opacity="0.052"/><stop offset="0.875" stop-color="#b7c240" stop-opacity="0.009"/><stop offset="1.000" stop-color="#b7c240" stop-opacity="0.001"/></radialGradient>
<radialGradient id="g5_75"><stop offset="0.000" stop-color="#f68b3e" stop-opacity="0.797"/><stop offset="0.125" stop-color="#f68b3e" stop-opacity="0.741"/><stop offset="0.250" stop-color="#f68b3e" stop-opacity="0.586"/><stop offset="0.375" stop-color="#f68b3e" stop-opacity="0.383"/><stop offset="0.500" stop-color="#f68b3e" stop-opacity="0.198"/><stop offset="0.625" stop-color="#f68b3e" stop-opacity="0.079"/><stop offset="0.750" stop-color="#f68b3e" stop-opacity="0.024"/><stop offset="0.875" stop-color="#f68b3e" stop-opacity="0.005"/><stop offset="1.000" stop-color="#f68b3e" stop-opacity="0.001"/></radialGradient>
<radialGradient id="g7_85"><stop offset="0.000" stop-color="#f52c46" stop-opacity="0.871"/><stop offset="0.125" stop-color="#f52c46" stop-opacity="0.819"/><stop offset="0.250" stop-color="#f52c46" stop-opacity="0.669"/><stop offset="0.375" stop-color="#f52c46" stop-opacity="0.452"/><stop offset="0.500" stop-color="#f52c46" stop-opacity="0.240"/><stop offset="0.625" stop-color="#f52c46" stop-opacity="0.096"/><stop offset="0.750" stop-color="#f52c46" stop-opacity="0.028"/><stop offset="0.875" stop-color="#f52c46" stop-opacity="0.006"/><stop offset="1.000" stop-color="#f52c46" stop-opacity="0.001"/></radialGradient>
<radialGradient id="g4_135"><stop offset="0.000" stop-color="#f6b43c" stop-opacity="0.994"/><stop offset="0.038" stop-color="#f6b43c" stop-opacity="0.993"/><stop offset="0.159" stop-color="#f6b43c" stop-opacity="0.975"/><stop offset="0.279" stop-color="#f6b43c" stop-opacity="0.898"/><stop offset="0.399" stop-color="#f6b43c" stop-opacity="0.713"/><stop offset="0.519" stop-color="#f6b43c" stop-opacity="0.437"/><stop offset="0.639" stop-color="#f6b43c" stop-opacity="0.188"/><stop offset="0.760" stop-color="#f6b43c" stop-opacity="0.053"/><stop offset="0.880" stop-color="#f6b43c" stop-opacity="0.009"/><stop offset="1.000" stop-color="#f6b43c" stop-opacity="0.001"/></radialGradient>
<radialGradient id="g5_95"><stop offset="0.000" stop-color="#f68b3e" stop-opacity="0.923"/><stop offset="0.125" stop-color="#f68b3e" stop-opacity="0.879"/><stop offset="0.250" stop-color="#f68b3e" stop-opacity="0.741"/><stop offset="0.375" stop-color="#f68b3e" stop-opacity="0.520"/><stop offset="0.500" stop-color="#f68b3e" stop-opacity="0.285"/><stop offset="0.625" stop-color="#f68b3e" stop-opacity="0.115"/><stop offset="0.750" stop-color="#f68b3e" stop-opacity="0.033"/><stop offset="0.875" stop-color="#f68b3e" stop-opacity="0.007"/><stop offset="1.000" stop-color="#f68b3e" stop-opacity="0.001"/></radialGradient>
<radialGradient id="g6_95"><stop offset="0.000" stop-color="#f56a5c" stop-opacity="0.923"/><stop offset="0.125" stop-color="#f56a5c" stop-opacity="0.879"/><stop offset="0.250" stop-color="#f56a5c" stop-opacity="0.741"/><stop offset="0.375" stop-color="#f56a5c" stop-opacity="0.520"/><stop offset="0.500" stop-color="#f56a5c" stop-opacity="0.285"/><stop offset="0.625" stop-color="#f56a5c" stop-opacity="0.115"/><stop offset="0.750" stop-color="#f56a5c" stop-opacity="0.033"/><stop offset="0.875" stop-color="#f56a5c" stop-opacity="0.007"/><stop offset="1.000" stop-color="#f56a5c" stop-opacity="0.001"/></radialGradient>
<radialGradient id="g0_130"><stop offset="0.000" stop-color="#2d6a3e" stop-opacity="0.992"/><stop offset="0.020" stop-color="#2d6a3e" stop-opacity="0.991"/><stop offset="0.142" stop-color="#2d6a3e" stop-opacity="0.973"/><stop offset="0.265" stop-color="#2d6a3e" stop-opacity="0.896"/><stop offset="0.387" stop-color="#2d6a3e" stop-opacity="0.711"/><stop offset="0.510" stop-color="#2d6a3e" stop-opacity="0.435"/><stop offset="0.632" stop-color="#2d6a3e" stop-opacity="0.186"/><stop offset="0.755" stop-color="#2d6a3e" stop-opacity="0.052"/><stop offset="0.877" stop-color="#2d6a3e" stop-opacity="0.009"/><stop offset="1.000" stop-color="#2d6a3e" stop-opacity="0.001"/></radialGradient>
<radialGradient id="g1_190"><stop offset="0.000" stop-color="#7f9c3c" stop-opacity="1.000"/><stop offset="0.206" stop-color="#7f9c3c" stop-opacity="0.997"/><stop offset="0.306" stop-color="#7f9c3c" stop-opacity="0.981"/><stop offset="0.405" stop-color="#7f9c3c" stop-opacity="0.912"/><stop offset="0.504" stop-color="#7f9c3c" stop-opacity="0.733"/><stop offset="0.603" stop-color="#7f9c3c" stop-opacity="0.456"/><stop offset="0.702" stop-color="#7f9c3c" stop-opacity="0.198"/><stop offset="0.802" stop-color="#7f9c3c" stop-opacity="0.057"/><stop offset="0.901" stop-color="#7f9c3c" stop-opacity="0.010"/><stop offset="1.000" stop-color="#7f9c3c" stop-opacity="0.001"/></radialGradient>
<radialGradient id="g2_110"><stop offset="0.000" stop-color="#b7c240" stop-opacity="0.968"/><stop offset="0.125" stop-color="#b7c240" stop-opacity="0.938"/><stop offset="0.250" stop-color="#b7c240" stop-opacity="0.829"/><stop offset="0.375" stop-color="#b7c240" stop-opacity="0.618"/><stop offset="0.500" stop-color="#b7c240" stop-opacity="0.356"/><stop offset="0.625" stop-color="#b7c240" stop-opacity="0.148"/><stop offset="0.750" stop-color="#b7c240" stop-opacity="0.042"/><stop offset="0.875" stop-color="#b7c240" stop-opacity="0.008"/><stop offset="1.000" stop-color="#b7c240" stop-opacity="0.001"/></radialGradient>
<radialGradient id="g6_160"><stop offset="0.000" stop-color="#f56a5c" stop-opacity="0.999"/><stop offset="0.123" stop-color="#f56a5c" stop-opacity="0.997"/><stop offset="0.232" stop-color="#f56a5c" stop-opacity="0.979"/><stop offset="0.342" stop-color="#f56a5c" stop-opacity="0.906"/><stop offset="0.452" stop-color="#f56a5c" stop-opacity="0.724"/><stop offset="0.561" stop-color="#f56a5c" stop-opacity="0.447"/><stop offset="0.671" stop-color="#f56a5c" stop-opacity="0.193"/><stop offset="0.781" stop-color="#f56a5c" stop-opacity="0.055"/><stop offset="0.890" stop-color="#f56a5c" stop-opacity="0.010"/><stop offset="1.000" stop-color="#f56a5c" stop-opacity="0.001"/></radialGradient>
<radialGradient id="g1_180"><stop offset="0.000" stop-color="#7f9c3c" stop-opacity="1.000"/><stop offset="0.180" stop-color="#7f9c3c" stop-opacity="0.997"/><stop offset="0.283" stop-color="#7f9c3c" stop-opacity="0.981"/><stop offset="0.385" stop-color="#7f9c3c" stop-opacity="0.910"/><stop offset="0.488" stop-color="#7f9c3c" stop-opacity="0.731"/><stop offset="0.590" stop-color="#7f9c3c" stop-opacity="0.453"/><stop offset="0.693" stop-color="#7f9c3c" stop-opacity="0.197"/><stop offset="0.795" stop-color="#7f9c3c" stop-opacity="0.056"/><stop offset="0.898" stop-color="#7f9c3c" stop-opacity="0.010"/><stop offset="1.000" stop-color="#7f9c3c" stop-opacity="0.001"/></radialGradient>
<radialGradient id="g2_115"><stop offset="0.000" stop-color="#b7c240" stop-opacity="0.976"/><stop offset="0.125" stop-color="#b7c240" stop-opacity="0.952"/><stop offset="0.250" stop-color="#b7c240" stop-opacity="0.853"/><stop offset="0.375" stop-color="#b7c240" stop-opacity="0.649"/><stop offset="0.500" stop-color="#b7c240" stop-opacity="0.381"/><stop offset="0.625" stop-color="#b7c240" stop-opacity="0.160"/><stop offset="0.750" stop-color="#b7c240" stop-opacity="0.045"/><stop offset="0.875" stop-color="#b7c240" stop-opacity="0.008"/><stop offset="1.000" stop-color="#b7c240" stop-opacity="0.001"/></radialGradient>
<radialGradient id="g7_140"><stop offset="0.000" stop-color="#f52c46" stop-opacity="0.996"/><stop offset="0.057" stop-color="#f52c46" stop-opacity="0.995"/><stop offset="0.175" stop-color="#f52c46" stop-opacity="0.976"/><stop offset="0.292" stop-color="#f52c46" stop-opacity="0.900"/><stop offset="0.410" stop-color="#f52c46" stop-opacity="0.716"/><stop offset="0.528" stop-color="#f52c46" stop-opacity="0.439"/><stop offset="0.646" stop-color="#f52c46" stop-opacity="0.189"/><stop offset="0.764" stop-color="#f52c46" stop-opacity="0.053"/><stop offset="0.882" stop-color="#f52c46" stop-opacity="0.009"/><stop offset="1.000" stop-color="#f52c46" stop-opacity="0.001"/></radialGradient>
<radialGradient id="g2_155"><stop offset="0.000" stop-color="#b7c240" stop-opacity="0.999"/><stop offset="0.107" stop-color="#b7c240" stop-opacity="0.996"/><stop offset="0.219" stop-color="#b7c240" stop-opacity="0.978"/><stop offset="0.330" stop-color="#b7c240" stop-opacity="0.905"/><stop offset="0.442" stop-color="#b7c240" stop-opacity="0.723"/><stop offset="0.554" stop-color="#b7c240" stop-opacity="0.445"/><stop offset="0.665" stop-color="#b7c240" stop-opacity="0.192"/><stop offset="0.777" stop-color="#b7c240" stop-opacity="0.054"/><stop offset="0.888" stop-color="#b7c240" stop-opacity="0.010"/><stop offset="1.000" stop-color="#b7c240" stop-opacity="0.001"/></radialGradient>
<radialGradient id="g4_355"><stop offset="0.000" stop-color="#f6b43c" stop-opacity="1.000"/><stop offset="0.479" stop-color="#f6b43c" stop-opacity="0.998"/><stop offset="0.544" stop-color="#f6b43c" stop-opacity="0.985"/><stop offset="0.609" stop-color="#f6b43c" stop-opacity="0.923"/><stop offset="0.674" stop-color="#f6b43c" stop-opacity="0.752"/><stop offset="0.740" stop-color="#f6b43c" stop-opacity="0.476"/><stop offset="0.805" stop-color="#f6b43c" stop-opacity="0.212"/><stop offset="0.870" stop-color="#f6b43c" stop-opacity="0.061"/><stop offset="0.935" stop-color="#f6b43c" stop-opacity="0.011"/><stop offset="1.000" stop-color="#f6b43c" stop-opacity="0.001"/></radialGradient>
<radialGradient id="g7_35"><stop offset="0.000" stop-color="#f52c46" stop-opacity="0.293"/><stop offset="0.125" stop-color="#f52c46" stop-opacity="0.267"/><stop offset="0.250" stop-color="#f52c46" stop-opacity="0.201"/><stop offset="0.375" stop-color="#f52c46" stop-opacity="0.124"/><stop offset="0.500" stop-color="#f52c46" stop-opacity="0.064"/><stop offset="0.625" stop-color="#f52c46" stop-opacity="0.027"/><stop offset="0.750" stop-color="#f52c46" stop-opacity="0.009"/><stop offset="0.875" stop-color="#f52c46" stop-opacity="0.003"/><stop offset="1.000" stop-color="#f52c46" stop-opacity="0.001"/></radialGradient>
<radialGradient id="g3_35"><stop offset="0.000" stop-color="#f1cf3d" stop-opacity="0.293"/><stop offset="0.125" stop-color="#f1cf3d" stop-opacity="0.267"/><stop offset="0.250" stop-color="#f1cf3d" stop-opacity="0.201"/><stop offset="0.375" stop-color="#f1cf3d" stop-opacity="0.124"/><stop offset="0.500" stop-color="#f1cf3d" stop-opacity="0.064"/><stop offset="0.625" stop-color="#f1cf3d" stop-opacity="0.027"/><stop offset="0.750" stop-color="#f1cf3d" stop-opacity="0.009"/><stop offset="0.875" stop-color="#f1cf3d" stop-opacity="0.003"/><stop offset="1.000" stop-color="#f1cf3d" stop-opacity="0.001"/></radialGradient>
<radialGradient id="g0_190"><stop offset="0.000" stop-color="#2d6a3e" stop-opacity="1.000"/><stop offset="0.206" stop-color="#2d6a3e" stop-opacity="0.997"/><stop offset="0.306" stop-color="#2d6a3e" stop-opacity="0.981"/><stop offset="0.405" stop-color="#2d6a3e" stop-opacity="0.912"/><stop offset="0.504" stop-color="#2d6a3e" stop-opacity="0.733"/><stop offset="0.603" stop-color="#2d6a3e" stop-opacity="0.456"/><stop offset="0.702" stop-color="#2d6a3e" stop-opacity="0.198"/><stop offset="0.802" stop-color="#2d6a3e" stop-opacity="0.057"/><stop offset="0.901" stop-color="#2d6a3e" stop-opacity="0.010"/><stop offset="1.000" stop-color="#2d6a3e" stop-opacity="0.001"/></radialGradient>
<radialGradient id="g1_55"><stop offset="0.000" stop-color="#7f9c3c" stop-opacity="0.576"/><stop offset="0.125" stop-color="#7f9c3c" stop-opacity="0.526"/><stop offset="0.250" stop-color="#7f9c3c" stop-opacity="0.398"/><stop offset="0.375" stop-color="#7f9c3c" stop-opacity="0.248"/><stop offset="0.500" stop-color="#7f9c3c" stop-opacity="0.124"/><stop offset="0.625" stop-color="#7f9c3c" stop-opacity="0.050"/><stop offset="0.750" stop-color="#7f9c3c" stop-opacity="0.016"/><stop offset="0.875" stop-color="#7f9c3c" stop-opacity="0.004"/><stop offset="1.000" stop-color="#7f9c3c" stop-opacity="0.001"/></radialGradient>
<radialGradient id="g3_80"><stop offset="0.000" stop-color="#f1cf3d" stop-opacity="0.837"/><stop offset="0.125" stop-color="#f1cf3d" stop-opacity="0.783"/><stop offset="0.250" stop-color="#f1cf3d" stop-opacity="0.629"/><stop offset="0.375" stop-color="#f1cf3d" stop-opacity="0.417"/><stop offset="0.500" stop-color="#f1cf3d" stop-opacity="0.219"/><stop offset="0.625" stop-color="#f1cf3d" stop-opacity="0.087"/><stop offset="0.750" stop-color="#f1cf3d" stop-opacity="0.026"/><stop offset="0.875" stop-color="#f1cf3d" stop-opacity="0.006"/><stop offset="1.000" stop-color="#f1cf3d" stop-opacity="0.001"/></radialGradient>
<radialGradient id="g6_205"><stop offset="0.000" stop-color="#f56a5c" stop-opacity="1.000"/><stop offset="0.242" stop-color="#f56a5c" stop-opacity="0.998"/><stop offset="0.337" stop-color="#f56a5c" stop-opacity="0.982"/><stop offset="0.432" stop-color="#f56a5c" stop-opacity="0.914"/><stop offset="0.527" stop-color="#f56a5c" stop-opacity="0.736"/><stop offset="0.621" stop-color="#f56a5c" stop-opacity="0.459"/><stop offset="0.716" stop-color="#f56a5c" stop-opacity="0.200"/><stop offset="0.811" stop-color="#f56a5c" stop-opacity="0.057"/><stop offset="0.905" stop-color="#f56a5c" stop-opacity="0.010"/><stop offset="1.000" stop-color="#f56a5c" stop-opacity="0.001"/></radialGradient>
<radialGradient id="g7_95"><stop offset="0.000" stop-color="#f52c46" stop-opacity="0.923"/><stop offset="0.125" stop-color="#f52c46" stop-opacity="0.879"/><stop offset="0.250" stop-color="#f52c46" stop-opacity="0.741"/><stop offset="0.375" stop-color="#f52c46" stop-opacity="0.520"/><stop offset="0.500" stop-color="#f52c46" stop-opacity="0.285"/><stop offset="0.625" stop-color="#f52c46" stop-opacity="0.115"/><stop offset="0.750" stop-color="#f52c46" stop-opacity="0.033"/><stop offset="0.875" stop-color="#f52c46" stop-opacity="0.007"/><stop offset="1.000" stop-color="#f52c46" stop-opacity="0.001"/></radialGradient>
<radialGradient id="g0_125"><stop offset="0.000" stop-color="#2d6a3e" stop-opacity="0.988"/><stop offset="0.125" stop-color="#2d6a3e" stop-opacity="0.971"/><stop offset="0.250" stop-color="#2d6a3e" stop-opacity="0.894"/><stop offset="0.375" stop-color="#2d6a3e" stop-opacity="0.707"/><stop offset="0.500" stop-color="#2d6a3e" stop-opacity="0.432"/><stop offset="0.625" stop-color="#2d6a3e" stop-opacity="0.185"/><stop offset="0.750" stop-color="#2d6a3e" stop-opacity="0.052"/><stop offset="0.875" stop-color="#2d6a3e" stop-opacity="0.009"/><stop offset="1.000" stop-color="#2d6a3e" stop-opacity="0.001"/></radialGradient>
<radialGradient id="g2_85"><stop offset="0.000" stop-color="#b7c240" stop-opacity="0.871"/><stop offset="0.125" stop-color="#b7c240" stop-opacity="0.819"/><stop offset="0.250" stop-color="#b7c240" stop-opacity="0.669"/><stop offset="0.375" stop-color="#b7c240" stop-opacity="0.452"/><stop offset="0.500" stop-color="#b7c240" stop-opacity="0.240"/><stop offset="0.625" stop-color="#b7c240" stop-opacity="0.096"/><stop offset="0.750" stop-color="#b7c240" stop-opacity="0.028"/><stop offset="0.875" stop-color="#b7c240" stop-opacity="0.006"/><stop offset="1.000" stop-color="#b7c240" stop-opacity="0.001"/></radialGradient>
<radialGradient id="g3_155"><stop offset="0.000" stop-color="#f1cf3d" stop-opacity="0.999"/><stop offset="0.107" stop-color="#f1cf3d" stop-opacity="0.996"/><stop offset="0.219" stop-color="#f1cf3d" stop-opacity="0.978"/><stop offset="0.330" stop-color="#f1cf3d" stop-opacity="0.905"/><stop offset="0.442" stop-color="#f1cf3d" stop-opacity="0.723"/><stop offset="0.554" stop-color="#f1cf3d" stop-opacity="0.445"/><stop offset="0.665" stop-color="#f1cf3d" stop-opacity="0.192"/><stop offset="0.777" stop-color="#f1cf3d" stop-opacity="0.054"/><stop offset="0.888" stop-color="#f1cf3d" stop-opacity="0.010"/><stop offset="1.000" stop-color="#f1cf3d" stop-opacity="0.001"/></radialGradient>
<radialGradient id="g4_180"><stop offset="0.000" stop-color="#f6b43c" stop-opacity="1.000"/><stop offset="0.180" stop-color="#f6b43c" stop-opacity="0.997"/><stop offset="0.283" stop-color="#f6b43c" stop-opacity="0.981"/><stop offset="0.385" stop-color="#f6b43c" stop-opacity="0.910"/><stop offset="0.488" stop-color="#f6b43c" stop-opacity="0.731"/><stop offset="0.590" stop-color="#f6b43c" stop-opacity="0.453"/><stop offset="0.693" stop-color="#f6b43c" stop-opacity="0.197"/><stop offset="0.795" stop-color="#f6b43c" stop-opacity="0.056"/><stop offset="0.898" stop-color="#f6b43c" stop-opacity="0.010"/><stop offset="1.000" stop-color="#f6b43c" stop-opacity="0.001"/></radialGradient>
<radialGradient id="g5_180"><stop offset="0.000" stop-color="#f68b3e" stop-opacity="1.000"/><stop offset="0.180" stop-color="#f68b3e" stop-opacity="0.997"/><stop offset="0.283" stop-color="#f68b3e" stop-opacity="0.981"/><stop offset="0.385" stop-color="#f68b3e" stop-opacity="0.910"/><stop offset="0.488" stop-color="#f68b3e" stop-opacity="0.731"/><stop offset="0.590" stop-color="#f68b3e" stop-opacity="0.453"/><stop offset="0.693" stop-color="#f68b3e" stop-opacity="0.197"/><stop offset="0.795" stop-color="#f68b3e" stop-opacity="0.056"/><stop offset="0.898" stop-color="#f68b3e" stop-opacity="0.010"/><stop offset="1.000" stop-color="#f68b3e" stop-opacity="0.001"/></radialGradient>
<radialGradient id="g0_115"><stop offset="0.000" stop-color="#2d6a3e" stop-opacity="0.976"/><stop offset="0.125" stop-color="#2d6a3e" stop-opacity="0.952"/><stop offset="0.250" stop-color="#2d6a3e" stop-opacity="0.853"/><stop offset="0.375" stop-color="#2d6a3e" stop-opacity="0.649"/><stop offset="0.500" stop-color="#2d6a3e" stop-opacity="0.381"/><stop offset="0.625" stop-color="#2d6a3e" stop-opacity="0.160"/><stop offset="0.750" stop-color="#2d6a3e" stop-opacity="0.045"/><stop offset="0.875" stop-color="#2d6a3e" stop-opacity="0.008"/><stop offset="1.000" stop-color="#2d6a3e" stop-opacity="0.001"/></radialGradient>
<radialGradient id="g1_195"><stop offset="0.000" stop-color="#7f9c3c" stop-opacity="1.000"/><stop offset="0.219" stop-color="#7f9c3c" stop-opacity="0.997"/><stop offset="0.316" stop-color="#7f9c3c" stop-opacity="0.981"/><stop offset="0.414" stop-color="#7f9c3c" stop-opacity="0.913"/><stop offset="0.512" stop-color="#7f9c3c" stop-opacity="0.734"/><stop offset="0.609" stop-color="#7f9c3c" stop-opacity="0.457"/><stop offset="0.707" stop-color="#7f9c3c" stop-opacity="0.199"/><stop offset="0.805" stop-color="#7f9c3c" stop-opacity="0.057"/><stop offset="0.902" stop-color="#7f9c3c" stop-opacity="0.010"/><stop offset="1.000" stop-color="#7f9c3c" stop-opacity="0.001"/></radialGradient>
<radialGradient id="g4_125"><stop offset="0.000" stop-color="#f6b43c" stop-opacity="0.988"/><stop offset="0.125" stop-color="#f6b43c" stop-opacity="0.971"/><stop offset="0.250" stop-color="#f6b43c" stop-opacity="0.894"/><stop offset="0.375" stop-color="#f6b43c" stop-opacity="0.707"/><stop offset="0.500" stop-color="#f6b43c" stop-opacity="0.432"/><stop offset="0.625" stop-color="#f6b43c" stop-opacity="0.185"/><stop offset="0.750" stop-color="#f6b43c" stop-opacity="0.052"/><stop offset="0.875" stop-color="#f6b43c" stop-opacity="0.009"/><stop offset="1.000" stop-color="#f6b43c" stop-opacity="0.001"/></radialGradient>
<radialGradient id="g5_125"><stop offset="0.000" stop-color="#f68b3e" stop-opacity="0.988"/><stop offset="0.125" stop-color="#f68b3e" stop-opacity="0.971"/><stop offset="0.250" stop-color="#f68b3e" stop-opacity="0.894"/><stop offset="0.375" stop-color="#f68b3e" stop-opacity="0.707"/><stop offset="0.500" stop-color="#f68b3e" stop-opacity="0.432"/><stop offset="0.625" stop-color="#f68b3e" stop-opacity="0.185"/><stop offset="0.750" stop-color="#f68b3e" stop-opacity="0.052"/><stop offset="0.875" stop-color="#f68b3e" stop-opacity="0.009"/><stop offset="1.000" stop-color="#f68b3e" stop-opacity="0.001"/></radialGradient>
<radialGradient id="g6_180"><stop offset="0.000" stop-color="#f56a5c" stop-opacity="1.000"/><stop offset="0.180" stop-color="#f56a5c" stop-opacity="0.997"/><stop offset="0.283" stop-color="#f56a5c" stop-opacity="0.981"/><stop offset="0.385" stop-color="#f56a5c" stop-opacity="0.910"/><stop offset="0.488" stop-color="#f56a5c" stop-opacity="0.731"/><stop offset="0.590" stop-color="#f56a5c" stop-opacity="0.453"/><stop offset="0.693" stop-color="#f56a5c" stop-opacity="0.197"/><stop offset="0.795" stop-color="#f56a5c" stop-opacity="0.056"/><stop offset="0.898" stop-color="#f56a5c" stop-opacity="0.010"/><stop offset="1.000" stop-color="#f56a5c" stop-opacity="0.001"/></radialGradient>
<radialGradient id="g0_105"><stop offset="0.000" stop-color="#2d6a3e" stop-opacity="0.956"/><stop offset="0.125" stop-color="#2d6a3e" stop-opacity="0.922"/><stop offset="0.250" stop-color="#2d6a3e" stop-opacity="0.802"/><stop offset="0.375" stop-color="#2d6a3e" stop-opacity="0.586"/><stop offset="0.500" stop-color="#2d6a3e" stop-opacity="0.332"/><stop offset="0.625" stop-color="#2d6a3e" stop-opacity="0.136"/><stop offset="0.750" stop-color="#2d6a3e" stop-opacity="0.039"/><stop offset="0.875" stop-color="#2d6a3e" stop-opacity="0.007"/><stop offset="1.000" stop-color="#2d6a3e" stop-opacity="0.001"/></radialGradient>
<radialGradient id="g6_125"><stop offset="0.000" stop-color="#f56a5c" stop-opacity="0.988"/><stop offset="0.125" stop-color="#f56a5c" stop-opacity="0.971"/><stop offset="0.250" stop-color="#f56a5c" stop-opacity="0.894"/><stop offset="0.375" stop-color="#f56a5c" stop-opacity="0.707"/><stop offset="0.500" stop-color="#f56a5c" stop-opacity="0.432"/><stop offset="0.625" stop-color="#f56a5c" stop-opacity="0.185"/><stop offset="0.750" stop-color="#f56a5c" stop-opacity="0.052"/><stop offset="0.875" stop-color="#f56a5c" stop-opacity="0.009"/><stop offset="1.000" stop-color="#f56a5c" stop-opacity="0.001"/></radialGradient>
<radialGradient id="g1_255"><stop offset="0.000" stop-color="#7f9c3c" stop-opacity="1.000"/><stop offset="0.342" stop-color="#7f9c3c" stop-opacity="0.998"/><stop offset="0.424" stop-color="#7f9c3c" stop-opacity="0.983"/><stop offset="0.507" stop-color="#7f9c3c" stop-opacity="0.918"/><stop offset="0.589" stop-color="#7f9c3c" stop-opacity="0.744"/><stop offset="0.671" stop-color="#7f9c3c" stop-opacity="0.467"/><stop offset="0.753" stop-color="#7f9c3c" stop-opacity="0.206"/><stop offset="0.836" stop-color="#7f9c3c" stop-opacity="0.059"/><stop offset="0.918" stop-color="#7f9c3c" stop-opacity="0.011"/><stop offset="1.000" stop-color="#7f9c3c" stop-opacity="0.001"/></radialGradient>
<radialGradient id="g2_205"><stop offset="0.000" stop-color="#b7c240" stop-opacity="1.000"/><stop offset="0.242" stop-color="#b7c240" stop-opacity="0.998"/><stop offset="0.337" stop-color="#b7c240" stop-opacity="0.982"/><stop offset="0.432" stop-color="#b7c240" stop-opacity="0.914"/><stop offset="0.527" stop-color="#b7c240" stop-opacity="0.736"/><stop offset="0.621" stop-color="#b7c240" stop-opacity="0.459"/><stop offset="0.716" stop-color="#b7c240" stop-opacity="0.200"/><stop offset="0.811" stop-color="#b7c240" stop-opacity="0.057"/><stop offset="0.905" stop-color="#b7c240" stop-opacity="0.010"/><stop offset="1.000" stop-color="#b7c240" stop-opacity="0.001"/></radialGradient>
<radialGradient id="g7_115"><stop offset="0.000" stop-color="#f52c46" stop-opacity="0.976"/><stop offset="0.125" stop-color="#f52c46" stop-opacity="0.952"/><stop offset="0.250" stop-color="#f52c46" stop-opacity="0.853"/><stop offset="0.375" stop-color="#f52c46" stop-opacity="0.649"/><stop offset="0.500" stop-color="#f52c46" stop-opacity="0.381"/><stop offset="0.625" stop-color="#f52c46" stop-opacity="0.160"/><stop offset="0.750" stop-color="#f52c46" stop-opacity="0.045"/><stop offset="0.875" stop-color="#f52c46" stop-opacity="0.008"/><stop offset="1.000" stop-color="#f52c46" stop-opacity="0.001"/></radialGradient>
<radialGradient id="g3_55"><stop offset="0.000" stop-color="#f1cf3d" stop-opacity="0.576"/><stop offset="0.125" stop-color="#f1cf3d" stop-opacity="0.526"/><stop offset="0.250" stop-color="#f1cf3d" stop-opacity="0.398"/><stop offset="0.375" stop-color="#f1cf3d" stop-opacity="0.248"/><stop offset="0.500" stop-color="#f1cf3d" stop-opacity="0.124"/><stop offset="0.625" stop-color="#f1cf3d" stop-opacity="0.050"/><stop offset="0.750" stop-color="#f1cf3d" stop-opacity="0.016"/><stop offset="0.875" stop-color="#f1cf3d" stop-opacity="0.004"/><stop offset="1.000" stop-color="#f1cf3d" stop-opacity="0.001"/></radialGradient>
<radialGradient id="g5_440"><stop offset="0.000" stop-color="#f68b3e" stop-opacity="1.000"/><stop offset="0.558" stop-color="#f68b3e" stop-opacity="0.998"/><stop offset="0.613" stop-color="#f68b3e" stop-opacity="0.985"/><stop offset="0.668" stop-color="#f68b3e" stop-opacity="0.925"/><stop offset="0.723" stop-color="#f68b3e" stop-opacity="0.756"/><stop offset="0.779" stop-color="#f68b3e" stop-opacity="0.481"/><stop offset="0.834" stop-color="#f68b3e" stop-opacity="0.215"/><stop offset="0.889" stop-color="#f68b3e" stop-opacity="0.063"/><stop offset="0.945" stop-color="#f68b3e" stop-opacity="0.011"/><stop offset="1.000" stop-color="#f68b3e" stop-opacity="0.001"/></radialGradient>
<radialGradient id="g1_35"><stop offset="0.000" stop-color="#7f9c3c" stop-opacity="0.293"/><stop offset="0.125" stop-color="#7f9c3c" stop-opacity="0.267"/><stop offset="0.250" stop-color="#7f9c3c" stop-opacity="0.201"/><stop offset="0.375" stop-color="#7f9c3c" stop-opacity="0.124"/><stop offset="0.500" stop-color="#7f9c3c" stop-opacity="0.064"/><stop offset="0.625" stop-color="#7f9c3c" stop-opacity="0.027"/><stop offset="0.750" stop-color="#7f9c3c" stop-opacity="0.009"/><stop offset="0.875" stop-color="#7f9c3c" stop-opacity="0.003"/><stop offset="1.000" stop-color="#7f9c3c" stop-opacity="0.001"/></radialGradient>
<radialGradient id="g4_35"><stop offset="0.000" stop-color="#f6b43c" stop-opacity="0.293"/><stop offset="0.125" stop-color="#f6b43c" stop-opacity="0.267"/><stop offset="0.250" stop-color="#f6b43c" stop-opacity="0.201"/><stop offset="0.375" stop-color="#f6b43c" stop-opacity="0.124"/><stop offset="0.500" stop-color="#f6b43c" stop-opacity="0.064"/><stop offset="0.625" stop-color="#f6b43c" stop-opacity="0.027"/><stop offset="0.750" stop-color="#f6b43c" stop-opacity="0.009"/><stop offset="0.875" stop-color="#f6b43c" stop-opacity="0.003"/><stop offset="1.000" stop-color="#f6b43c" stop-opacity="0.001"/></radialGradient>
<radialGradient id="g5_35"><stop offset="0.000" stop-color="#f68b3e" stop-opacity="0.293"/><stop offset="0.125" stop-color="#f68b3e" stop-opacity="0.267"/><stop offset="0.250" stop-color="#f68b3e" stop-opacity="0.201"/><stop offset="0.375" stop-color="#f68b3e" stop-opacity="0.124"/><stop offset="0.500" stop-color="#f68b3e" stop-opacity="0.064"/><stop offset="0.625" stop-color="#f68b3e" stop-opacity="0.027"/><stop offset="0.750" stop-color="#f68b3e" stop-opacity="0.009"/><stop offset="0.875" stop-color="#f68b3e" stop-opacity="0.003"/><stop offset="1.000" stop-color="#f68b3e" stop-opacity="0.001"/></radialGradient>
<radialGradient id="g7_135"><stop offset="0.000" stop-color="#f52c46" stop-opacity="0.994"/><stop offset="0.038" stop-color="#f52c46" stop-opacity="0.993"/><stop offset="0.159" stop-color="#f52c46" stop-opacity="0.975"/><stop offset="0.279" stop-color="#f52c46" stop-opacity="0.898"/><stop offset="0.399" stop-color="#f52c46" stop-opacity="0.713"/><stop offset="0.519" stop-color="#f52c46" stop-opacity="0.437"/><stop offset="0.639" stop-color="#f52c46" stop-opacity="0.188"/><stop offset="0.760" stop-color="#f52c46" stop-opacity="0.053"/><stop offset="0.880" stop-color="#f52c46" stop-opacity="0.009"/><stop offset="1.000" stop-color="#f52c46" stop-opacity="0.001"/></radialGradient>
<radialGradient id="g0_180"><stop offset="0.000" stop-color="#2d6a3e" stop-opacity="1.000"/><stop offset="0.180" stop-color="#2d6a3e" stop-opacity="0.997"/><stop offset="0.283" stop-color="#2d6a3e" stop-opacity="0.981"/><stop offset="0.385" stop-color="#2d6a3e" stop-opacity="0.910"/><stop offset="0.488" stop-color="#2d6a3e" stop-opacity="0.731"/><stop offset="0.590" stop-color="#2d6a3e" stop-opacity="0.453"/><stop offset="0.693" stop-color="#2d6a3e" stop-opacity="0.197"/><stop offset="0.795" stop-color="#2d6a3e" stop-opacity="0.056"/><stop offset="0.898" stop-color="#2d6a3e" stop-opacity="0.010"/><stop offset="1.000" stop-color="#2d6a3e" stop-opacity="0.001"/></radialGradient>
<radialGradient id="g1_300"><stop offset="0.000" stop-color="#7f9c3c" stop-opacity="1.000"/><stop offset="0.412" stop-color="#7f9c3c" stop-opacity="0.998"/><stop offset="0.485" stop-color="#7f9c3c" stop-opacity="0.984"/><stop offset="0.559" stop-color="#7f9c3c" stop-opacity="0.921"/><stop offset="0.632" stop-color="#7f9c3c" stop-opacity="0.749"/><stop offset="0.706" stop-color="#7f9c3c" stop-opacity="0.472"/><stop offset="0.779" stop-color="#7f9c3c" stop-opacity="0.209"/><stop offset="0.853" stop-color="#7f9c3c" stop-opacity="0.060"/><stop offset="0.926" stop-color="#7f9c3c" stop-opacity="0.011"/><stop offset="1.000" stop-color="#7f9c3c" stop-opacity="0.001"/></radialGradient>
<radialGradient id="g4_155"><stop offset="0.000" stop-color="#f6b43c" stop-opacity="0.999"/><stop offset="0.107" stop-color="#f6b43c" stop-opacity="0.996"/><stop offset="0.219" stop-color="#f6b43c" stop-opacity="0.978"/><stop offset="0.330" stop-color="#f6b43c" stop-opacity="0.905"/><stop offset="0.442" stop-color="#f6b43c" stop-opacity="0.723"/><stop offset="0.554" stop-color="#f6b43c" stop-opacity="0.445"/><stop offset="0.665" stop-color="#f6b43c" stop-opacity="0.192"/><stop offset="0.777" stop-color="#f6b43c" stop-opacity="0.054"/><stop offset="0.888" stop-color="#f6b43c" stop-opacity="0.010"/><stop offset="1.000" stop-color="#f6b43c" stop-opacity="0.001"/></radialGradient>
<radialGradient id="g5_135"><stop offset="0.000" stop-color="#f68b3e" stop-opacity="0.994"/><stop offset="0.038" stop-color="#f68b3e" stop-opacity="0.993"/><stop offset="0.159" stop-color="#f68b3e" stop-opacity="0.975"/><stop offset="0.279" stop-color="#f68b3e" stop-opacity="0.898"/><stop offset="0.399" stop-color="#f68b3e" stop-opacity="0.713"/><stop offset="0.519" stop-color="#f68b3e" stop-opacity="0.437"/><stop offset="0.639" stop-color="#f68b3e" stop-opacity="0.188"/><stop offset="0.760" stop-color="#f68b3e" stop-opacity="0.053"/><stop offset="0.880" stop-color="#f68b3e" stop-opacity="0.009"/><stop offset="1.000" stop-color="#f68b3e" stop-opacity="0.001"/></radialGradient>
<radialGradient id="g3_180"><stop offset="0.000" stop-color="#f1cf3d" stop-opacity="1.000"/><stop offset="0.180" stop-color="#f1cf3d" stop-opacity="0.997"/><stop offset="0.283" stop-color="#f1cf3d" stop-opacity="0.981"/><stop offset="0.385" stop-color="#f1cf3d" stop-opacity="0.910"/><stop offset="0.488" stop-color="#f1cf3d" stop-opacity="0.731"/><stop offset="0.590" stop-color="#f1cf3d" stop-opacity="0.453"/><stop offset="0.693" stop-color="#f1cf3d" stop-opacity="0.197"/><stop offset="0.795" stop-color="#f1cf3d" stop-opacity="0.056"/><stop offset="0.898" stop-color="#f1cf3d" stop-opacity="0.010"/><stop offset="1.000" stop-color="#f1cf3d" stop-opacity="0.001"/></radialGradient>
<radialGradient id="g5_155"><stop offset="0.000" stop-color="#f68b3e" stop-opacity="0.999"/><stop offset="0.107" stop-color="#f68b3e" stop-opacity="0.996"/><stop offset="0.219" stop-color="#f68b3e" stop-opacity="0.978"/><stop offset="0.330" stop-color="#f68b3e" stop-opacity="0.905"/><stop offset="0.442" stop-color="#f68b3e" stop-opacity="0.723"/><stop offset="0.554" stop-color="#f68b3e" stop-opacity="0.445"/><stop offset="0.665" stop-color="#f68b3e" stop-opacity="0.192"/><stop offset="0.777" stop-color="#f68b3e" stop-opacity="0.054"/><stop offset="0.888" stop-color="#f68b3e" stop-opacity="0.010"/><stop offset="1.000" stop-color="#f68b3e" stop-opacity="0.001"/></radialGradient>
<radialGradient id="g4_205"><stop offset="0.000" stop-color="#f6b43c" stop-opacity="1.000"/><stop offset="0.242" stop-color="#f6b43c" stop-opacity="0.998"/><stop offset="0.337" stop-color="#f6b43c" stop-opacity="0.982"/><stop offset="0.432" stop-color="#f6b43c" stop-opacity="0.914"/><stop offset="0.527" stop-color="#f6b43c" stop-opacity="0.736"/><stop offset="0.621" stop-color="#f6b43c" stop-opacity="0.459"/><stop offset="0.716" stop-color="#f6b43c" stop-opacity="0.200"/><stop offset="0.811" stop-color="#f6b43c" stop-opacity="0.057"/><stop offset="0.905" stop-color="#f6b43c" stop-opacity="0.010"/><stop offset="1.000" stop-color="#f6b43c" stop-opacity="0.001"/></radialGradient>
<radialGradient id="g7_180"><stop offset="0.000" stop-color="#f52c46" stop-opacity="1.000"/><stop offset="0.180" stop-color="#f52c46" stop-opacity="0.997"/><stop offset="0.283" stop-color="#f52c46" stop-opacity="0.981"/><stop offset="0.385" stop-color="#f52c46" stop-opacity="0.910"/><stop offset="0.488" stop-color="#f52c46" stop-opacity="0.731"/><stop offset="0.590" stop-color="#f52c46" stop-opacity="0.453"/><stop offset="0.693" stop-color="#f52c46" stop-opacity="0.197"/><stop offset="0.795" stop-color="#f52c46" stop-opacity="0.056"/><stop offset="0.898" stop-color="#f52c46" stop-opacity="0.010"/><stop offset="1.000" stop-color="#f52c46" stop-opacity="0.001"/></radialGradient>
<radialGradient id="g0_230"><stop offset="0.000" stop-color="#2d6a3e" stop-opacity="1.000"/><stop offset="0.296" stop-color="#2d6a3e" stop-opacity="0.998"/><stop offset="0.384" stop-color="#2d6a3e" stop-opacity="0.983"/><stop offset="0.472" stop-color="#2d6a3e" stop-opacity="0.916"/><stop offset="0.560" stop-color="#2d6a3e" stop-opacity="0.741"/><stop offset="0.648" stop-color="#2d6a3e" stop-opacity="0.463"/><stop offset="0.736" stop-color="#2d6a3e" stop-opacity="0.203"/><stop offset="0.824" stop-color="#2d6a3e" stop-opacity="0.058"/><stop offset="0.912" stop-color="#2d6a3e" stop-opacity="0.010"/><stop offset="1.000" stop-color="#2d6a3e" stop-opacity="0.001"/></radialGradient>
<radialGradient id="g2_230"><stop offset="0.000" stop-color="#b7c240" stop-opacity="1.000"/><stop offset="0.296" stop-color="#b7c240" stop-opacity="0.998"/><stop offset="0.384" stop-color="#b7c240" stop-opacity="0.983"/><stop offset="0.472" stop-color="#b7c240" stop-opacity="0.916"/><stop offset="0.560" stop-color="#b7c240" stop-opacity="0.741"/><stop offset="0.648" stop-color="#b7c240" stop-opacity="0.463"/><stop offset="0.736" stop-color="#b7c240" stop-opacity="0.203"/><stop offset="0.824" stop-color="#b7c240" stop-opacity="0.058"/><stop offset="0.912" stop-color="#b7c240" stop-opacity="0.010"/><stop offset="1.000" stop-color="#b7c240" stop-opacity="0.001"/></radialGradient>
<radialGradient id="g7_105"><stop offset="0.000" stop-color="#f52c46" stop-opacity="0.956"/><stop offset="0.125" stop-color="#f52c46" stop-opacity="0.922"/><stop offset="0.250" stop-color="#f52c46" stop-opacity="0.802"/><stop offset="0.375" stop-color="#f52c46" stop-opacity="0.586"/><stop offset="0.500" stop-color="#f52c46" stop-opacity="0.332"/><stop offset="0.625" stop-color="#f52c46" stop-opacity="0.136"/><stop offset="0.750" stop-color="#f52c46" stop-opacity="0.039"/><stop offset="0.875" stop-color="#f52c46" stop-opacity="0.007"/><stop offset="1.000" stop-color="#f52c46" stop-opacity="0.001"/></radialGradient>
<radialGradient id="g7_440"><stop offset="0.000" stop-color="#f52c46" stop-opacity="1.000"/><stop offset="0.558" stop-color="#f52c46" stop-opacity="0.998"/><stop offset="0.613" stop-color="#f52c46" stop-opacity="0.985"/><stop offset="0.668" stop-color="#f52c46" stop-opacity="0.925"/><stop offset="0.723" stop-color="#f52c46" stop-opacity="0.756"/><stop offset="0.779" stop-color="#f52c46" stop-opacity="0.481"/><stop offset="0.834" stop-color="#f52c46" stop-opacity="0.215"/><stop offset="0.889" stop-color="#f52c46" stop-opacity="0.063"/><stop offset="0.945" stop-color="#f52c46" stop-opacity="0.011"/><stop offset="1.000" stop-color="#f52c46" stop-opacity="0.001"/></radialGradient>
<radialGradient id="g5_140"><stop offset="0.000" stop-color="#f68b3e" stop-opacity="0.996"/><stop offset="0.057" stop-color="#f68b3e" stop-opacity="0.995"/><stop offset="0.175" stop-color="#f68b3e" stop-opacity="0.976"/><stop offset="0.292" stop-color="#f68b3e" stop-opacity="0.900"/><stop offset="0.410" stop-color="#f68b3e" stop-opacity="0.716"/><stop offset="0.528" stop-color="#f68b3e" stop-opacity="0.439"/><stop offset="0.646" stop-color="#f68b3e" stop-opacity="0.189"/><stop offset="0.764" stop-color="#f68b3e" stop-opacity="0.053"/><stop offset="0.882" stop-color="#f68b3e" stop-opacity="0.009"/><stop offset="1.000" stop-color="#f68b3e" stop-opacity="0.001"/></radialGradient>
<radialGradient id="g7_230"><stop offset="0.000" stop-color="#f52c46" stop-opacity="1.000"/><stop offset="0.296" stop-color="#f52c46" stop-opacity="0.998"/><stop offset="0.384" stop-color="#f52c46" stop-opacity="0.983"/><stop offset="0.472" stop-color="#f52c46" stop-opacity="0.916"/><stop offset="0.560" stop-color="#f52c46" stop-opacity="0.741"/><stop offset="0.648" stop-color="#f52c46" stop-opacity="0.463"/><stop offset="0.736" stop-color="#f52c46" stop-opacity="0.203"/><stop offset="0.824" stop-color="#f52c46" stop-opacity="0.058"/><stop offset="0.912" stop-color="#f52c46" stop-opacity="0.010"/><stop offset="1.000" stop-color="#f52c46" stop-opacity="0.001"/></radialGradient>
<radialGradient id="g0_85"><stop offset="0.000" stop-color="#2d6a3e" stop-opacity="0.871"/><stop offset="0.125" stop-color="#2d6a3e" stop-opacity="0.819"/><stop offset="0.250" stop-color="#2d6a3e" stop-opacity="0.669"/><stop offset="0.375" stop-color="#2d6a3e" stop-opacity="0.452"/><stop offset="0.500" stop-color="#2d6a3e" stop-opacity="0.240"/><stop offset="0.625" stop-color="#2d6a3e" stop-opacity="0.096"/><stop offset="0.750" stop-color="#2d6a3e" stop-opacity="0.028"/><stop offset="0.875" stop-color="#2d6a3e" stop-opacity="0.006"/><stop offset="1.000" stop-color="#2d6a3e" stop-opacity="0.001"/></radialGradient>
<radialGradient id="g2_325"><stop offset="0.000" stop-color="#b7c240" stop-opacity="1.000"/><stop offset="0.444" stop-color="#b7c240" stop-opacity="0.998"/><stop offset="0.514" stop-color="#b7c240" stop-opacity="0.984"/><stop offset="0.583" stop-color="#b7c240" stop-opacity="0.922"/><stop offset="0.653" stop-color="#b7c240" stop-opacity="0.750"/><stop offset="0.722" stop-color="#b7c240" stop-opacity="0.474"/><stop offset="0.792" stop-color="#b7c240" stop-opacity="0.210"/><stop offset="0.861" stop-color="#b7c240" stop-opacity="0.061"/><stop offset="0.931" stop-color="#b7c240" stop-opacity="0.011"/><stop offset="1.000" stop-color="#b7c240" stop-opacity="0.001"/></radialGradient>
<radialGradient id="g3_440"><stop offset="0.000" stop-color="#f1cf3d" stop-opacity="1.000"/><stop offset="0.558" stop-color="#f1cf3d" stop-opacity="0.998"/><stop offset="0.613" stop-color="#f1cf3d" stop-opacity="0.985"/><stop offset="0.668" stop-color="#f1cf3d" stop-opacity="0.925"/><stop offset="0.723" stop-color="#f1cf3d" stop-opacity="0.756"/><stop offset="0.779" stop-color="#f1cf3d" stop-opacity="0.481"/><stop offset="0.834" stop-color="#f1cf3d" stop-opacity="0.215"/><stop offset="0.889" stop-color="#f1cf3d" stop-opacity="0.063"/><stop offset="0.945" stop-color="#f1cf3d" stop-opacity="0.011"/><stop offset="1.000" stop-color="#f1cf3d" stop-opacity="0.001"/></radialGradient>
<radialGradient id="g7_495"><stop offset="0.000" stop-color="#f52c46" stop-opacity="1.000"/><stop offset="0.597" stop-color="#f52c46" stop-opacity="0.998"/><stop offset="0.647" stop-color="#f52c46" stop-opacity="0.986"/><stop offset="0.698" stop-color="#f52c46" stop-opacity="0.925"/><stop offset="0.748" stop-color="#f52c46" stop-opacity="0.758"/><stop offset="0.798" stop-color="#f52c46" stop-opacity="0.483"/><stop offset="0.849" stop-color="#f52c46" stop-opacity="0.216"/><stop offset="0.899" stop-color="#f52c46" stop-opacity="0.063"/><stop offset="0.950" stop-color="#f52c46" stop-opacity="0.012"/><stop offset="1.000" stop-color="#f52c46" stop-opacity="0.001"/></radialGradient>
<radialGradient id="g0_445"><stop offset="0.000" stop-color="#2d6a3e" stop-opacity="1.000"/><stop offset="0.561" stop-color="#2d6a3e" stop-opacity="0.998"/><stop offset="0.616" stop-color="#2d6a3e" stop-opacity="0.985"/><stop offset="0.671" stop-color="#2d6a3e" stop-opacity="0.925"/><stop offset="0.726" stop-color="#2d6a3e" stop-opacity="0.756"/><stop offset="0.781" stop-color="#2d6a3e" stop-opacity="0.481"/><stop offset="0.836" stop-color="#2d6a3e" stop-opacity="0.215"/><stop offset="0.890" stop-color="#2d6a3e" stop-opacity="0.063"/><stop offset="0.945" stop-color="#2d6a3e" stop-opacity="0.011"/><stop offset="1.000" stop-color="#2d6a3e" stop-opacity="0.001"/></radialGradient>
<radialGradient id="g1_420"><stop offset="0.000" stop-color="#7f9c3c" stop-opacity="1.000"/><stop offset="0.541" stop-color="#7f9c3c" stop-opacity="0.998"/><stop offset="0.599" stop-color="#7f9c3c" stop-opacity="0.985"/><stop offset="0.656" stop-color="#7f9c3c" stop-opacity="0.924"/><stop offset="0.713" stop-color="#7f9c3c" stop-opacity="0.756"/><stop offset="0.771" stop-color="#7f9c3c" stop-opacity="0.480"/><stop offset="0.828" stop-color="#7f9c3c" stop-opacity="0.214"/><stop offset="0.885" stop-color="#7f9c3c" stop-opacity="0.062"/><stop offset="0.943" stop-color="#7f9c3c" stop-opacity="0.011"/><stop offset="1.000" stop-color="#7f9c3c" stop-opacity="0.001"/></radialGradient>
<radialGradient id="g2_450"><stop offset="0.000" stop-color="#b7c240" stop-opacity="1.000"/><stop offset="0.565" stop-color="#b7c240" stop-opacity="0.998"/><stop offset="0.620" stop-color="#b7c240" stop-opacity="0.985"/><stop offset="0.674" stop-color="#b7c240" stop-opacity="0.925"/><stop offset="0.728" stop-color="#b7c240" stop-opacity="0.757"/><stop offset="0.783" stop-color="#b7c240" stop-opacity="0.481"/><stop offset="0.837" stop-color="#b7c240" stop-opacity="0.215"/><stop offset="0.891" stop-color="#b7c240" stop-opacity="0.063"/><stop offset="0.946" stop-color="#b7c240" stop-opacity="0.011"/><stop offset="1.000" stop-color="#b7c240" stop-opacity="0.001"/></radialGradient>
<radialGradient id="g3_335"><stop offset="0.000" stop-color="#f1cf3d" stop-opacity="1.000"/><stop offset="0.457" stop-color="#f1cf3d" stop-opacity="0.998"/><stop offset="0.524" stop-color="#f1cf3d" stop-opacity="0.985"/><stop offset="0.592" stop-color="#f1cf3d" stop-opacity="0.922"/><stop offset="0.660" stop-color="#f1cf3d" stop-opacity="0.751"/><stop offset="0.728" stop-color="#f1cf3d" stop-opacity="0.475"/><stop offset="0.796" stop-color="#f1cf3d" stop-opacity="0.211"/><stop offset="0.864" stop-color="#f1cf3d" stop-opacity="0.061"/><stop offset="0.932" stop-color="#f1cf3d" stop-opacity="0.011"/><stop offset="1.000" stop-color="#f1cf3d" stop-opacity="0.001"/></radialGradient>
<radialGradient id="g4_415"><stop offset="0.000" stop-color="#f6b43c" stop-opacity="1.000"/><stop offset="0.537" stop-color="#f6b43c" stop-opacity="0.998"/><stop offset="0.595" stop-color="#f6b43c" stop-opacity="0.985"/><stop offset="0.653" stop-color="#f6b43c" stop-opacity="0.924"/><stop offset="0.711" stop-color="#f6b43c" stop-opacity="0.755"/><stop offset="0.769" stop-color="#f6b43c" stop-opacity="0.480"/><stop offset="0.826" stop-color="#f6b43c" stop-opacity="0.214"/><stop offset="0.884" stop-color="#f6b43c" stop-opacity="0.062"/><stop offset="0.942" stop-color="#f6b43c" stop-opacity="0.011"/><stop offset="1.000" stop-color="#f6b43c" stop-opacity="0.001"/></radialGradient>
<radialGradient id="g5_450"><stop offset="0.000" stop-color="#f68b3e" stop-opacity="1.000"/><stop offset="0.565" stop-color="#f68b3e" stop-opacity="0.998"/><stop offset="0.620" stop-color="#f68b3e" stop-opacity="0.985"/><stop offset="0.674" stop-color="#f68b3e" stop-opacity="0.925"/><stop offset="0.728" stop-color="#f68b3e" stop-opacity="0.757"/><stop offset="0.783" stop-color="#f68b3e" stop-opacity="0.481"/><stop offset="0.837" stop-color="#f68b3e" stop-opacity="0.215"/><stop offset="0.891" stop-color="#f68b3e" stop-opacity="0.063"/><stop offset="0.946" stop-color="#f68b3e" stop-opacity="0.011"/><stop offset="1.000" stop-color="#f68b3e" stop-opacity="0.001"/></radialGradient>
<radialGradient id="g6_440"><stop offset="0.000" stop-color="#f56a5c" stop-opacity="1.000"/><stop offset="0.558" stop-color="#f56a5c" stop-opacity="0.998"/><stop offset="0.613" stop-color="#f56a5c" stop-opacity="0.985"/><stop offset="0.668" stop-color="#f56a5c" stop-opacity="0.925"/><stop offset="0.723" stop-color="#f56a5c" stop-opacity="0.756"/><stop offset="0.779" stop-color="#f56a5c" stop-opacity="0.481"/><stop offset="0.834" stop-color="#f56a5c" stop-opacity="0.215"/><stop offset="0.889" stop-color="#f56a5c" stop-opacity="0.063"/><stop offset="0.945" stop-color="#f56a5c" stop-opacity="0.011"/><stop offset="1.000" stop-color="#f56a5c" stop-opacity="0.001"/></radialGradient>
<radialGradient id="g0_110"><stop offset="0.000" stop-color="#2d6a3e" stop-opacity="0.968"/><stop offset="0.125" stop-color="#2d6a3e" stop-opacity="0.938"/><stop offset="0.250" stop-color="#2d6a3e" stop-opacity="0.829"/><stop offset="0.375" stop-color="#2d6a3e" stop-opacity="0.618"/><stop offset="0.500" stop-color="#2d6a3e" stop-opacity="0.356"/><stop offset="0.625" stop-color="#2d6a3e" stop-opacity="0.148"/><stop offset="0.750" stop-color="#2d6a3e" stop-opacity="0.042"/><stop offset="0.875" stop-color="#2d6a3e" stop-opacity="0.008"/><stop offset="1.000" stop-color="#2d6a3e" stop-opacity="0.001"/></radialGradient>
<radialGradient id="g1_115"><stop offset="0.000" stop-color="#7f9c3c" stop-opacity="0.976"/><stop offset="0.125" stop-color="#7f9c3c" stop-opacity="0.952"/><stop offset="0.250" stop-color="#7f9c3c" stop-opacity="0.853"/><stop offset="0.375" stop-color="#7f9c3c" stop-opacity="0.649"/><stop offset="0.500" stop-color="#7f9c3c" stop-opacity="0.381"/><stop offset="0.625" stop-color="#7f9c3c" stop-opacity="0.160"/><stop offset="0.750" stop-color="#7f9c3c" stop-opacity="0.045"/><stop offset="0.875" stop-color="#7f9c3c" stop-opacity="0.008"/><stop offset="1.000" stop-color="#7f9c3c" stop-opacity="0.001"/></radialGradient>
<radialGradient id="g0_350"><stop offset="0.000" stop-color="#2d6a3e" stop-opacity="1.000"/><stop offset="0.474" stop-color="#2d6a3e" stop-opacity="0.998"/><stop offset="0.539" stop-color="#2d6a3e" stop-opacity="0.985"/><stop offset="0.605" stop-color="#2d6a3e" stop-opacity="0.922"/><stop offset="0.671" stop-color="#2d6a3e" stop-opacity="0.752"/><stop offset="0.737" stop-color="#2d6a3e" stop-opacity="0.476"/><stop offset="0.803" stop-color="#2d6a3e" stop-opacity="0.211"/><stop offset="0.868" stop-color="#2d6a3e" stop-opacity="0.061"/><stop offset="0.934" stop-color="#2d6a3e" stop-opacity="0.011"/><stop offset="1.000" stop-color="#2d6a3e" stop-opacity="0.001"/></radialGradient>
<radialGradient id="g2_255"><stop offset="0.000" stop-color="#b7c240" stop-opacity="1.000"/><stop offset="0.342" stop-color="#b7c240" stop-opacity="0.998"/><stop offset="0.424" stop-color="#b7c240" stop-opacity="0.983"/><stop offset="0.507" stop-color="#b7c240" stop-opacity="0.918"/><stop offset="0.589" stop-color="#b7c240" stop-opacity="0.744"/><stop offset="0.671" stop-color="#b7c240" stop-opacity="0.467"/><stop offset="0.753" stop-color="#b7c240" stop-opacity="0.206"/><stop offset="0.836" stop-color="#b7c240" stop-opacity="0.059"/><stop offset="0.918" stop-color="#b7c240" stop-opacity="0.011"/><stop offset="1.000" stop-color="#b7c240" stop-opacity="0.001"/></radialGradient>
<radialGradient id="g4_230"><stop offset="0.000" stop-color="#f6b43c" stop-opacity="1.000"/><stop offset="0.296" stop-color="#f6b43c" stop-opacity="0.998"/><stop offset="0.384" stop-color="#f6b43c" stop-opacity="0.983"/><stop offset="0.472" stop-color="#f6b43c" stop-opacity="0.916"/><stop offset="0.560" stop-color="#f6b43c" stop-opacity="0.741"/><stop offset="0.648" stop-color="#f6b43c" stop-opacity="0.463"/><stop offset="0.736" stop-color="#f6b43c" stop-opacity="0.203"/><stop offset="0.824" stop-color="#f6b43c" stop-opacity="0.058"/><stop offset="0.912" stop-color="#f6b43c" stop-opacity="0.010"/><stop offset="1.000" stop-color="#f6b43c" stop-opacity="0.001"/></radialGradient>
<radialGradient id="g0_65"><stop offset="0.000" stop-color="#2d6a3e" stop-opacity="0.698"/><stop offset="0.125" stop-color="#2d6a3e" stop-opacity="0.642"/><stop offset="0.250" stop-color="#2d6a3e" stop-opacity="0.496"/><stop offset="0.375" stop-color="#2d6a3e" stop-opacity="0.314"/><stop offset="0.500" stop-color="#2d6a3e" stop-opacity="0.160"/><stop offset="0.625" stop-color="#2d6a3e" stop-opacity="0.063"/><stop offset="0.750" stop-color="#2d6a3e" stop-opacity="0.019"/><stop offset="0.875" stop-color="#2d6a3e" stop-opacity="0.005"/><stop offset="1.000" stop-color="#2d6a3e" stop-opacity="0.001"/></radialGradient>
<radialGradient id="g1_65"><stop offset="0.000" stop-color="#7f9c3c" stop-opacity="0.698"/><stop offset="0.125" stop-color="#7f9c3c" stop-opacity="0.642"/><stop offset="0.250" stop-color="#7f9c3c" stop-opacity="0.496"/><stop offset="0.375" stop-color="#7f9c3c" stop-opacity="0.314"/><stop offset="0.500" stop-color="#7f9c3c" stop-opacity="0.160"/><stop offset="0.625" stop-color="#7f9c3c" stop-opacity="0.063"/><stop offset="0.750" stop-color="#7f9c3c" stop-opacity="0.019"/><stop offset="0.875" stop-color="#7f9c3c" stop-opacity="0.005"/><stop offset="1.000" stop-color="#7f9c3c" stop-opacity="0.001"/></radialGradient>
<radialGradient id="g0_195"><stop offset="0.000" stop-color="#2d6a3e" stop-opacity="1.000"/><stop offset="0.219" stop-color="#2d6a3e" stop-opacity="0.997"/><stop offset="0.316" stop-color="#2d6a3e" stop-opacity="0.981"/><stop offset="0.414" stop-color="#2d6a3e" stop-opacity="0.913"/><stop offset="0.512" stop-color="#2d6a3e" stop-opacity="0.734"/><stop offset="0.609" stop-color="#2d6a3e" stop-opacity="0.457"/><stop offset="0.707" stop-color="#2d6a3e" stop-opacity="0.199"/><stop offset="0.805" stop-color="#2d6a3e" stop-opacity="0.057"/><stop offset="0.902" stop-color="#2d6a3e" stop-opacity="0.010"/><stop offset="1.000" stop-color="#2d6a3e" stop-opacity="0.001"/></radialGradient>
<radialGradient id="g2_275"><stop offset="0.000" stop-color="#b7c240" stop-opacity="1.000"/><stop offset="0.375" stop-color="#b7c240" stop-opacity="0.998"/><stop offset="0.453" stop-color="#b7c240" stop-opacity="0.984"/><stop offset="0.531" stop-color="#b7c240" stop-opacity="0.919"/><stop offset="0.609" stop-color="#b7c240" stop-opacity="0.746"/><stop offset="0.688" stop-color="#b7c240" stop-opacity="0.469"/><stop offset="0.766" stop-color="#b7c240" stop-opacity="0.207"/><stop offset="0.844" stop-color="#b7c240" stop-opacity="0.060"/><stop offset="0.922" stop-color="#b7c240" stop-opacity="0.011"/><stop offset="1.000" stop-color="#b7c240" stop-opacity="0.001"/></radialGradient>
<radialGradient id="g3_340"><stop offset="0.000" stop-color="#f1cf3d" stop-opacity="1.000"/><stop offset="0.462" stop-color="#f1cf3d" stop-opacity="0.998"/><stop offset="0.530" stop-color="#f1cf3d" stop-opacity="0.985"/><stop offset="0.597" stop-color="#f1cf3d" stop-opacity="0.922"/><stop offset="0.664" stop-color="#f1cf3d" stop-opacity="0.751"/><stop offset="0.731" stop-color="#f1cf3d" stop-opacity="0.475"/><stop offset="0.798" stop-color="#f1cf3d" stop-opacity="0.211"/><stop offset="0.866" stop-color="#f1cf3d" stop-opacity="0.061"/><stop offset="0.933" stop-color="#f1cf3d" stop-opacity="0.011"/><stop offset="1.000" stop-color="#f1cf3d" stop-opacity="0.001"/></radialGradient>
<radialGradient id="g4_340"><stop offset="0.000" stop-color="#f6b43c" stop-opacity="1.000"/><stop offset="0.462" stop-color="#f6b43c" stop-opacity="0.998"/><stop offset="0.530" stop-color="#f6b43c" stop-opacity="0.985"/><stop offset="0.597" stop-color="#f6b43c" stop-opacity="0.922"/><stop offset="0.664" stop-color="#f6b43c" stop-opacity="0.751"/><stop offset="0.731" stop-color="#f6b43c" stop-opacity="0.475"/><stop offset="0.798" stop-color="#f6b43c" stop-opacity="0.211"/><stop offset="0.866" stop-color="#f6b43c" stop-opacity="0.061"/><stop offset="0.933" stop-color="#f6b43c" stop-opacity="0.011"/><stop offset="1.000" stop-color="#f6b43c" stop-opacity="0.001"/></radialGradient>
<radialGradient id="g5_480"><stop offset="0.000" stop-color="#f68b3e" stop-opacity="1.000"/><stop offset="0.587" stop-color="#f68b3e" stop-opacity="0.998"/><stop offset="0.638" stop-color="#f68b3e" stop-opacity="0.985"/><stop offset="0.690" stop-color="#f68b3e" stop-opacity="0.925"/><stop offset="0.742" stop-color="#f68b3e" stop-opacity="0.758"/><stop offset="0.793" stop-color="#f68b3e" stop-opacity="0.483"/><stop offset="0.845" stop-color="#f68b3e" stop-opacity="0.216"/><stop offset="0.897" stop-color="#f68b3e" stop-opacity="0.063"/><stop offset="0.948" stop-color="#f68b3e" stop-opacity="0.012"/><stop offset="1.000" stop-color="#f68b3e" stop-opacity="0.001"/></radialGradient>
<radialGradient id="g6_275"><stop offset="0.000" stop-color="#f56a5c" stop-opacity="1.000"/><stop offset="0.375" stop-color="#f56a5c" stop-opacity="0.998"/><stop offset="0.453" stop-color="#f56a5c" stop-opacity="0.984"/><stop offset="0.531" stop-color="#f56a5c" stop-opacity="0.919"/><stop offset="0.609" stop-color="#f56a5c" stop-opacity="0.746"/><stop offset="0.688" stop-color="#f56a5c" stop-opacity="0.469"/><stop offset="0.766" stop-color="#f56a5c" stop-opacity="0.207"/><stop offset="0.844" stop-color="#f56a5c" stop-opacity="0.060"/><stop offset="0.922" stop-color="#f56a5c" stop-opacity="0.011"/><stop offset="1.000" stop-color="#f56a5c" stop-opacity="0.001"/></radialGradient>
<radialGradient id="g7_205"><stop offset="0.000" stop-color="#f52c46" stop-opacity="1.000"/><stop offset="0.242" stop-color="#f52c46" stop-opacity="0.998"/><stop offset="0.337" stop-color="#f52c46" stop-opacity="0.982"/><stop offset="0.432" stop-color="#f52c46" stop-opacity="0.914"/><stop offset="0.527" stop-color="#f52c46" stop-opacity="0.736"/><stop offset="0.621" stop-color="#f52c46" stop-opacity="0.459"/><stop offset="0.716" stop-color="#f52c46" stop-opacity="0.200"/><stop offset="0.811" stop-color="#f52c46" stop-opacity="0.057"/><stop offset="0.905" stop-color="#f52c46" stop-opacity="0.010"/><stop offset="1.000" stop-color="#f52c46" stop-opacity="0.001"/></radialGradient></defs>
<circle cx="175.17" cy="35.55" r="1.90" fill="url(#g3_65)"/>
<circle cx="203.48" cy="35.55" r="2.05" fill="url(#g5_80)"/>
<circle cx="217.64" cy="35.55" r="2.05" fill="url(#g6_80)"/>
<circle cx="345.05" cy="35.55" r="1.45" fill="url(#g7_20)"/>
<circle cx="359.21" cy="35.55" r="2.45" fill="url(#g0_120)"/>
<circle cx="373.37" cy="35.55" r="1.95" fill="url(#g1_70)"/>
<circle cx="401.68" cy="35.55" r="1.95" fill="url(#g3_70)"/>
<circle cx="458.31" cy="35.55" r="2.85" fill="url(#g7_160)"/>
<circle cx="146.86" cy="44.09" r="2.70" fill="url(#g1_145)"/>
<circle cx="203.48" cy="44.09" r="1.80" fill="url(#g5_55)"/>
<circle cx="217.64" cy="44.09" r="1.60" fill="url(#g6_35)"/>
<circle cx="231.80" cy="44.09" r="1.55" fill="url(#g7_30)"/>
<circle cx="245.96" cy="44.09" r="1.60" fill="url(#g0_35)"/>
<circle cx="274.27" cy="44.09" r="1.75" fill="url(#g2_50)"/>
<circle cx="288.43" cy="44.09" r="1.95" fill="url(#g3_70)"/>
<circle cx="302.58" cy="44.09" r="2.10" fill="url(#g4_85)"/>
<circle cx="345.05" cy="44.09" r="1.55" fill="url(#g7_30)"/>
<circle cx="359.21" cy="44.09" r="1.95" fill="url(#g0_70)"/>
<circle cx="373.37" cy="44.09" r="1.95" fill="url(#g1_70)"/>
<circle cx="387.53" cy="44.09" r="1.85" fill="url(#g2_60)"/>
<circle cx="401.68" cy="44.09" r="1.95" fill="url(#g3_70)"/>
<circle cx="415.84" cy="44.09" r="1.75" fill="url(#g4_50)"/>
<circle cx="430.00" cy="44.09" r="1.95" fill="url(#g5_70)"/>
<circle cx="444.15" cy="44.09" r="1.80" fill="url(#g6_55)"/>
<circle cx="132.70" cy="52.63" r="2.05" fill="url(#g0_80)"/>
<circle cx="146.86" cy="52.63" r="2.05" fill="url(#g1_80)"/>
<circle cx="161.01" cy="52.63" r="2.20" fill="url(#g2_95)"/>
<circle cx="175.17" cy="52.63" r="1.90" fill="url(#g3_65)"/>
<circle cx="217.64" cy="52.63" r="2.95" fill="url(#g6_170)"/>
<circle cx="373.37" cy="52.63" r="1.75" fill="url(#g1_50)"/>
<circle cx="387.53" cy="52.63" r="1.65" fill="url(#g2_40)"/>
<circle cx="401.68" cy="52.63" r="1.85" fill="url(#g3_60)"/>
<circle cx="415.84" cy="52.63" r="1.75" fill="url(#g4_50)"/>
<circle cx="430.00" cy="52.63" r="1.85" fill="url(#g5_60)"/>
<circle cx="444.15" cy="52.63" r="1.95" fill="url(#g6_70)"/>
<circle cx="458.31" cy="52.63" r="3.10" fill="url(#g7_185)"/>
<circle cx="132.70" cy="61.17" r="1.85" fill="url(#g0_60)"/>
<circle cx="146.86" cy="61.17" r="1.95" fill="url(#g1_70)"/>
<circle cx="161.01" cy="61.17" r="1.80" fill="url(#g2_55)"/>
<circle cx="175.17" cy="61.17" r="1.90" fill="url(#g3_65)"/>
<circle cx="189.33" cy="61.17" r="1.90" fill="url(#g4_65)"/>
<circle cx="203.48" cy="61.17" r="2.05" fill="url(#g5_80)"/>
<circle cx="217.64" cy="61.17" r="1.85" fill="url(#g6_60)"/>
<circle cx="231.80" cy="61.17" r="2.05" fill="url(#g7_80)"/>
<circle cx="245.96" cy="61.17" r="1.95" fill="url(#g0_70)"/>
<circle cx="274.27" cy="61.17" r="1.75" fill="url(#g2_50)"/>
<circle cx="288.43" cy="61.17" r="2.10" fill="url(#g3_85)"/>
<circle cx="316.74" cy="61.17" r="2.10" fill="url(#g5_85)"/>
<circle cx="345.05" cy="61.17" r="2.00" fill="url(#g7_75)"/>
<circle cx="359.21" cy="61.17" r="1.75" fill="url(#g0_50)"/>
<circle cx="373.37" cy="61.17" r="2.10" fill="url(#g1_85)"/>
<circle cx="387.53" cy="61.17" r="1.95" fill="url(#g2_70)"/>
<circle cx="401.68" cy="61.17" r="2.00" fill="url(#g3_75)"/>
<circle cx="415.84" cy="61.17" r="1.95" fill="url(#g4_70)"/>
<circle cx="430.00" cy="61.17" r="1.95" fill="url(#g5_70)"/>
<circle cx="444.15" cy="61.17" r="2.25" fill="url(#g6_100)"/>
<circle cx="132.70" cy="69.71" r="1.80" fill="url(#g0_55)"/>
<circle cx="146.86" cy="69.71" r="2.30" fill="url(#g1_105)"/>
<circle cx="189.33" cy="69.71" r="1.95" fill="url(#g4_70)"/>
<circle cx="203.48" cy="69.71" r="2.30" fill="url(#g5_105)"/>
<circle cx="217.64" cy="69.71" r="1.80" fill="url(#g6_55)"/>
<circle cx="231.80" cy="69.71" r="1.55" fill="url(#g7_30)"/>
<circle cx="245.96" cy="69.71" r="1.70" fill="url(#g0_45)"/>
<circle cx="260.11" cy="69.71" r="1.65" fill="url(#g1_40)"/>
<circle cx="274.27" cy="69.71" r="1.95" fill="url(#g2_70)"/>
<circle cx="288.43" cy="69.71" r="1.75" fill="url(#g3_50)"/>
<circle cx="316.74" cy="69.71" r="1.95" fill="url(#g5_70)"/>
<circle cx="330.90" cy="69.71" r="2.00" fill="url(#g6_75)"/>
<circle cx="345.05" cy="69.71" r="1.50" fill="url(#g7_25)"/>
<circle cx="373.37" cy="69.71" r="2.10" fill="url(#g1_85)"/>
<circle cx="387.53" cy="69.71" r="2.00" fill="url(#g2_75)"/>
<circle cx="401.68" cy="69.71" r="2.15" fill="url(#g3_90)"/>
<circle cx="415.84" cy="69.71" r="2.00" fill="url(#g4_75)"/>
<circle cx="430.00" cy="69.71" r="1.75" fill="url(#g5_50)"/>
<circle cx="444.15" cy="69.71" r="1.95" fill="url(#g6_70)"/>
<circle cx="458.31" cy="69.71" r="2.00" fill="url(#g7_75)"/>
<circle cx="132.70" cy="78.25" r="1.55" fill="url(#g0_30)"/>
<circle cx="146.86" cy="78.25" r="2.05" fill="url(#g1_80)"/>
<circle cx="175.17" cy="78.25" r="2.75" fill="url(#g3_150)"/>
<circle cx="189.33" cy="78.25" r="1.70" fill="url(#g4_45)"/>
<circle cx="203.48" cy="78.25" r="1.80" fill="url(#g5_55)"/>
<circle cx="231.80" cy="78.25" r="2.75" fill="url(#g7_150)"/>
<circle cx="245.96" cy="78.25" r="3.10" fill="url(#g0_185)"/>
<circle cx="260.11" cy="78.25" r="2.90" fill="url(#g1_165)"/>
<circle cx="274.27" cy="78.25" r="2.60" fill="url(#g2_135)"/>
<circle cx="288.43" cy="78.25" r="2.50" fill="url(#g3_125)"/>
<circle cx="302.58" cy="78.25" r="2.25" fill="url(#g4_100)"/>
<circle cx="316.74" cy="78.25" r="2.35" fill="url(#g5_110)"/>
<circle cx="330.90" cy="78.25" r="2.60" fill="url(#g6_135)"/>
<circle cx="373.37" cy="78.25" r="1.65" fill="url(#g1_40)"/>
<circle cx="387.53" cy="78.25" r="1.65" fill="url(#g2_40)"/>
<circle cx="458.31" cy="78.25" r="1.95" fill="url(#g7_70)"/>
<circle cx="146.86" cy="86.79" r="2.10" fill="url(#g1_85)"/>
<circle cx="203.48" cy="86.79" r="2.25" fill="url(#g5_100)"/>
<circle cx="217.64" cy="86.79" r="4.30" fill="url(#g6_305)"/>
<circle cx="387.53" cy="86.79" r="2.00" fill="url(#g2_75)"/>
<circle cx="401.68" cy="86.79" r="1.65" fill="url(#g3_40)"/>
<circle cx="415.84" cy="86.79" r="1.85" fill="url(#g4_60)"/>
<circle cx="146.86" cy="95.33" r="1.95" fill="url(#g1_70)"/>
<circle cx="189.33" cy="95.33" r="1.55" fill="url(#g4_30)"/>
<circle cx="217.64" cy="95.33" r="1.55" fill="url(#g6_30)"/>
<circle cx="345.05" cy="95.33" r="2.80" fill="url(#g7_155)"/>
<circle cx="359.21" cy="95.33" r="4.00" fill="url(#g0_275)"/>
<circle cx="387.53" cy="95.33" r="1.75" fill="url(#g2_50)"/>
<circle cx="132.70" cy="103.87" r="2.25" fill="url(#g0_100)"/>
<circle cx="146.86" cy="103.87" r="1.95" fill="url(#g1_70)"/>
<circle cx="175.17" cy="103.87" r="2.00" fill="url(#g3_75)"/>
<circle cx="189.33" cy="103.87" r="2.25" fill="url(#g4_100)"/>
<circle cx="203.48" cy="103.87" r="1.85" fill="url(#g5_60)"/>
<circle cx="217.64" cy="103.87" r="1.90" fill="url(#g6_65)"/>
<circle cx="231.80" cy="103.87" r="1.85" fill="url(#g7_60)"/>
<circle cx="245.96" cy="103.87" r="2.00" fill="url(#g0_75)"/>
<circle cx="260.11" cy="103.87" r="2.30" fill="url(#g1_105)"/>
<circle cx="274.27" cy="103.87" r="2.05" fill="url(#g2_80)"/>
<circle cx="288.43" cy="103.87" r="2.40" fill="url(#g3_115)"/>
<circle cx="302.58" cy="103.87" r="1.75" fill="url(#g4_50)"/>
<circle cx="316.74" cy="103.87" r="2.40" fill="url(#g5_115)"/>
<circle cx="330.90" cy="103.87" r="1.80" fill="url(#g6_55)"/>
<circle cx="345.05" cy="103.87" r="1.75" fill="url(#g7_50)"/>
<circle cx="359.21" cy="103.87" r="2.05" fill="url(#g0_80)"/>
<circle cx="373.37" cy="103.87" r="2.50" fill="url(#g1_125)"/>
<circle cx="387.53" cy="103.87" r="2.20" fill="url(#g2_95)"/>
<circle cx="401.68" cy="103.87" r="2.10" fill="url(#g3_85)"/>
<circle cx="415.84" cy="103.87" r="2.20" fill="url(#g4_95)"/>
<circle cx="430.00" cy="103.87" r="2.10" fill="url(#g5_85)"/>
<circle cx="444.15" cy="103.87" r="1.90" fill="url(#g6_65)"/>
<circle cx="458.31" cy="103.87" r="1.90" fill="url(#g7_65)"/>
<circle cx="132.70" cy="112.41" r="1.95" fill="url(#g0_70)"/>
<circle cx="146.86" cy="112.41" r="2.25" fill="url(#g1_100)"/>
<circle cx="161.01" cy="112.41" r="1.95" fill="url(#g2_70)"/>
<circle cx="175.17" cy="112.41" r="1.65" fill="url(#g3_40)"/>
<circle cx="189.33" cy="112.41" r="2.25" fill="url(#g4_100)"/>
<circle cx="203.48" cy="112.41" r="1.85" fill="url(#g5_60)"/>
<circle cx="217.64" cy="112.41" r="1.90" fill="url(#g6_65)"/>
<circle cx="231.80" cy="112.41" r="1.80" fill="url(#g7_55)"/>
<circle cx="245.96" cy="112.41" r="1.85" fill="url(#g0_60)"/>
<circle cx="260.11" cy="112.41" r="2.00" fill="url(#g1_75)"/>
<circle cx="274.27" cy="112.41" r="2.60" fill="url(#g2_135)"/>
<circle cx="288.43" cy="112.41" r="2.20" fill="url(#g3_95)"/>
<circle cx="302.58" cy="112.41" r="2.10" fill="url(#g4_85)"/>
<circle cx="316.74" cy="112.41" r="2.40" fill="url(#g5_115)"/>
<circle cx="330.90" cy="112.41" r="2.40" fill="url(#g6_115)"/>
<circle cx="359.21" cy="112.41" r="2.05" fill="url(#g0_80)"/>
<circle cx="373.37" cy="112.41" r="2.65" fill="url(#g1_140)"/>
<circle cx="387.53" cy="112.41" r="2.05" fill="url(#g2_80)"/>
<circle cx="401.68" cy="112.41" r="2.10" fill="url(#g3_85)"/>
<circle cx="415.84" cy="112.41" r="2.40" fill="url(#g4_115)"/>
<circle cx="430.00" cy="112.41" r="2.05" fill="url(#g5_80)"/>
<circle cx="444.15" cy="112.41" r="2.40" fill="url(#g6_115)"/>
<circle cx="458.31" cy="112.41" r="2.50" fill="url(#g7_125)"/>
<circle cx="146.86" cy="120.95" r="1.85" fill="url(#g1_60)"/>
<circle cx="203.48" cy="120.95" r="1.55" fill="url(#g5_30)"/>
<circle cx="245.96" cy="120.95" r="1.55" fill="url(#g0_30)"/>
<circle cx="274.27" cy="120.95" r="1.60" fill="url(#g2_35)"/>
<circle cx="288.43" cy="120.95" r="1.75" fill="url(#g3_50)"/>
<circle cx="302.58" cy="120.95" r="1.80" fill="url(#g4_55)"/>
<circle cx="330.90" cy="120.95" r="1.75" fill="url(#g6_50)"/>
<circle cx="345.05" cy="120.95" r="3.35" fill="url(#g7_210)"/>
<circle cx="359.21" cy="120.95" r="1.85" fill="url(#g0_60)"/>
<circle cx="373.37" cy="120.95" r="2.20" fill="url(#g1_95)"/>
<circle cx="387.53" cy="120.95" r="3.05" fill="url(#g2_180)"/>
<circle cx="401.68" cy="120.95" r="2.10" fill="url(#g3_85)"/>
<circle cx="415.84" cy="120.95" r="2.35" fill="url(#g4_110)"/>
<circle cx="132.70" cy="129.49" r="1.95" fill="url(#g0_70)"/>
<circle cx="146.86" cy="129.49" r="2.00" fill="url(#g1_75)"/>
<circle cx="161.01" cy="129.49" r="2.25" fill="url(#g2_100)"/>
<circle cx="175.17" cy="129.49" r="2.10" fill="url(#g3_85)"/>
<circle cx="189.33" cy="129.49" r="2.20" fill="url(#g4_95)"/>
<circle cx="203.48" cy="129.49" r="2.35" fill="url(#g5_110)"/>
<circle cx="217.64" cy="129.49" r="2.45" fill="url(#g6_120)"/>
<circle cx="231.80" cy="129.49" r="1.95" fill="url(#g7_70)"/>
<circle cx="245.96" cy="129.49" r="1.95" fill="url(#g0_70)"/>
<circle cx="260.11" cy="129.49" r="1.85" fill="url(#g1_60)"/>
<circle cx="274.27" cy="129.49" r="1.90" fill="url(#g2_65)"/>
<circle cx="288.43" cy="129.49" r="2.65" fill="url(#g3_140)"/>
<circle cx="302.58" cy="129.49" r="2.65" fill="url(#g4_140)"/>
<circle cx="316.74" cy="129.49" r="1.90" fill="url(#g5_65)"/>
<circle cx="330.90" cy="129.49" r="2.80" fill="url(#g6_155)"/>
<circle cx="345.05" cy="129.49" r="1.90" fill="url(#g7_65)"/>
<circle cx="359.21" cy="129.49" r="2.20" fill="url(#g0_95)"/>
<circle cx="373.37" cy="129.49" r="2.95" fill="url(#g1_170)"/>
<circle cx="387.53" cy="129.49" r="2.50" fill="url(#g2_125)"/>
<circle cx="401.68" cy="129.49" r="2.50" fill="url(#g3_125)"/>
<circle cx="415.84" cy="129.49" r="2.40" fill="url(#g4_115)"/>
<circle cx="430.00" cy="129.49" r="1.75" fill="url(#g5_50)"/>
<circle cx="444.15" cy="129.49" r="2.05" fill="url(#g6_80)"/>
<circle cx="458.31" cy="129.49" r="2.80" fill="url(#g7_155)"/>
<circle cx="132.70" cy="138.03" r="1.95" fill="url(#g0_70)"/>
<circle cx="146.86" cy="138.03" r="2.25" fill="url(#g1_100)"/>
<circle cx="161.01" cy="138.03" r="1.85" fill="url(#g2_60)"/>
<circle cx="175.17" cy="138.03" r="2.50" fill="url(#g3_125)"/>
<circle cx="189.33" cy="138.03" r="1.95" fill="url(#g4_70)"/>
<circle cx="203.48" cy="138.03" r="2.00" fill="url(#g5_75)"/>
<circle cx="217.64" cy="138.03" r="2.45" fill="url(#g6_120)"/>
<circle cx="231.80" cy="138.03" r="2.10" fill="url(#g7_85)"/>
<circle cx="245.96" cy="138.03" r="2.25" fill="url(#g0_100)"/>
<circle cx="260.11" cy="138.03" r="2.65" fill="url(#g1_140)"/>
<circle cx="274.27" cy="138.03" r="2.20" fill="url(#g2_95)"/>
<circle cx="288.43" cy="138.03" r="2.20" fill="url(#g3_95)"/>
<circle cx="302.58" cy="138.03" r="2.60" fill="url(#g4_135)"/>
<circle cx="316.74" cy="138.03" r="2.20" fill="url(#g5_95)"/>
<circle cx="330.90" cy="138.03" r="2.20" fill="url(#g6_95)"/>
<circle cx="345.05" cy="138.03" r="1.75" fill="url(#g7_50)"/>
<circle cx="359.21" cy="138.03" r="2.55" fill="url(#g0_130)"/>
<circle cx="373.37" cy="138.03" r="3.15" fill="url(#g1_190)"/>
<circle cx="387.53" cy="138.03" r="2.35" fill="url(#g2_110)"/>
<circle cx="401.68" cy="138.03" r="2.50" fill="url(#g3_125)"/>
<circle cx="415.84" cy="138.03" r="2.20" fill="url(#g4_95)"/>
<circle cx="430.00" cy="138.03" r="2.05" fill="url(#g5_80)"/>
<circle cx="444.15" cy="138.03" r="2.20" fill="url(#g6_95)"/>
<circle cx="458.31" cy="138.03" r="2.50" fill="url(#g7_125)"/>
<circle cx="132.70" cy="146.57" r="1.95" fill="url(#g0_70)"/>
<circle cx="146.86" cy="146.57" r="1.95" fill="url(#g1_70)"/>
<circle cx="161.01" cy="146.57" r="1.85" fill="url(#g2_60)"/>
<circle cx="175.17" cy="146.57" r="1.95" fill="url(#g3_70)"/>
<circle cx="189.33" cy="146.57" r="2.10" fill="url(#g4_85)"/>
<circle cx="203.48" cy="146.57" r="1.95" fill="url(#g5_70)"/>
<circle cx="217.64" cy="146.57" r="2.85" fill="url(#g6_160)"/>
<circle cx="231.80" cy="146.57" r="2.00" fill="url(#g7_75)"/>
<circle cx="245.96" cy="146.57" r="2.00" fill="url(#g0_75)"/>
<circle cx="260.11" cy="146.57" r="2.00" fill="url(#g1_75)"/>
<circle cx="274.27" cy="146.57" r="2.05" fill="url(#g2_80)"/>
<circle cx="288.43" cy="146.57" r="2.40" fill="url(#g3_115)"/>
<circle cx="302.58" cy="146.57" r="2.10" fill="url(#g4_85)"/>
<circle cx="316.74" cy="146.57" r="2.20" fill="url(#g5_95)"/>
<circle cx="330.90" cy="146.57" r="2.05" fill="url(#g6_80)"/>
<circle cx="345.05" cy="146.57" r="1.90" fill="url(#g7_65)"/>
<circle cx="359.21" cy="146.57" r="2.20" fill="url(#g0_95)"/>
<circle cx="373.37" cy="146.57" r="3.05" fill="url(#g1_180)"/>
<circle cx="387.53" cy="146.57" r="2.40" fill="url(#g2_115)"/>
<circle cx="401.68" cy="146.57" r="2.50" fill="url(#g3_125)"/>
<circle cx="415.84" cy="146.57" r="2.40" fill="url(#g4_115)"/>
<circle cx="430.00" cy="146.57" r="2.05" fill="url(#g5_80)"/>
<circle cx="444.15" cy="146.57" r="2.40" fill="url(#g6_115)"/>
<circle cx="458.31" cy="146.57" r="2.65" fill="url(#g7_140)"/>
<circle cx="132.70" cy="155.11" r="2.05" fill="url(#g0_80)"/>
<circle cx="146.86" cy="155.11" r="2.20" fill="url(#g1_95)"/>
<circle cx="161.01" cy="155.11" r="2.80" fill="url(#g2_155)"/>
<circle cx="189.33" cy="155.11" r="4.80" fill="url(#g4_355)"/>
<circle cx="203.48" cy="155.11" r="2.20" fill="url(#g5_95)"/>
<circle cx="217.64" cy="155.11" r="1.60" fill="url(#g6_35)"/>
<circle cx="231.80" cy="155.11" r="1.60" fill="url(#g7_35)"/>
<circle cx="245.96" cy="155.11" r="1.60" fill="url(#g0_35)"/>
<circle cx="274.27" cy="155.11" r="1.60" fill="url(#g2_35)"/>
<circle cx="288.43" cy="155.11" r="1.60" fill="url(#g3_35)"/>
<circle cx="345.05" cy="155.11" r="1.90" fill="url(#g7_65)"/>
<circle cx="359.21" cy="155.11" r="3.15" fill="url(#g0_190)"/>
<circle cx="373.37" cy="155.11" r="1.80" fill="url(#g1_55)"/>
<circle cx="387.53" cy="155.11" r="2.20" fill="url(#g2_95)"/>
<circle cx="401.68" cy="155.11" r="2.05" fill="url(#g3_80)"/>
<circle cx="415.84" cy="155.11" r="2.20" fill="url(#g4_95)"/>
<circle cx="430.00" cy="155.11" r="2.40" fill="url(#g5_115)"/>
<circle cx="444.15" cy="155.11" r="3.30" fill="url(#g6_205)"/>
<circle cx="132.70" cy="163.65" r="2.05" fill="url(#g0_80)"/>
<circle cx="146.86" cy="163.65" r="2.50" fill="url(#g1_125)"/>
<circle cx="161.01" cy="163.65" r="1.85" fill="url(#g2_60)"/>
<circle cx="175.17" cy="163.65" r="1.90" fill="url(#g3_65)"/>
<circle cx="189.33" cy="163.65" r="2.40" fill="url(#g4_115)"/>
<circle cx="203.48" cy="163.65" r="2.10" fill="url(#g5_85)"/>
<circle cx="217.64" cy="163.65" r="2.20" fill="url(#g6_95)"/>
<circle cx="231.80" cy="163.65" r="2.20" fill="url(#g7_95)"/>
<circle cx="245.96" cy="163.65" r="2.50" fill="url(#g0_125)"/>
<circle cx="260.11" cy="163.65" r="2.20" fill="url(#g1_95)"/>
<circle cx="274.27" cy="163.65" r="2.10" fill="url(#g2_85)"/>
<circle cx="288.43" cy="163.65" r="2.80" fill="url(#g3_155)"/>
<circle cx="302.58" cy="163.65" r="3.05" fill="url(#g4_180)"/>
<circle cx="316.74" cy="163.65" r="3.05" fill="url(#g5_180)"/>
<circle cx="330.90" cy="163.65" r="2.80" fill="url(#g6_155)"/>
<circle cx="345.05" cy="163.65" r="1.80" fill="url(#g7_55)"/>
<circle cx="359.21" cy="163.65" r="2.40" fill="url(#g0_115)"/>
<circle cx="373.37" cy="163.65" r="3.20" fill="url(#g1_195)"/>
<circle cx="387.53" cy="163.65" r="2.60" fill="url(#g2_135)"/>
<circle cx="401.68" cy="163.65" r="2.80" fill="url(#g3_155)"/>
<circle cx="415.84" cy="163.65" r="2.50" fill="url(#g4_125)"/>
<circle cx="430.00" cy="163.65" r="2.50" fill="url(#g5_125)"/>
<circle cx="444.15" cy="163.65" r="2.60" fill="url(#g6_135)"/>
<circle cx="458.31" cy="163.65" r="2.20" fill="url(#g7_95)"/>
<circle cx="132.70" cy="172.19" r="2.20" fill="url(#g0_95)"/>
<circle cx="146.86" cy="172.19" r="2.50" fill="url(#g1_125)"/>
<circle cx="161.01" cy="172.19" r="1.90" fill="url(#g2_65)"/>
<circle cx="175.17" cy="172.19" r="2.05" fill="url(#g3_80)"/>
<circle cx="189.33" cy="172.19" r="2.40" fill="url(#g4_115)"/>
<circle cx="203.48" cy="172.19" r="2.20" fill="url(#g5_95)"/>
<circle cx="217.64" cy="172.19" r="3.05" fill="url(#g6_180)"/>
<circle cx="231.80" cy="172.19" r="2.10" fill="url(#g7_85)"/>
<circle cx="245.96" cy="172.19" r="2.30" fill="url(#g0_105)"/>
<circle cx="260.11" cy="172.19" r="2.50" fill="url(#g1_125)"/>
<circle cx="274.27" cy="172.19" r="2.50" fill="url(#g2_125)"/>
<circle cx="288.43" cy="172.19" r="2.40" fill="url(#g3_115)"/>
<circle cx="302.58" cy="172.19" r="2.40" fill="url(#g4_115)"/>
<circle cx="316.74" cy="172.19" r="2.50" fill="url(#g5_125)"/>
<circle cx="330.90" cy="172.19" r="2.50" fill="url(#g6_125)"/>
<circle cx="345.05" cy="172.19" r="1.90" fill="url(#g7_65)"/>
<circle cx="359.21" cy="172.19" r="2.50" fill="url(#g0_125)"/>
<circle cx="373.37" cy="172.19" r="3.80" fill="url(#g1_255)"/>
<circle cx="387.53" cy="172.19" r="3.30" fill="url(#g2_205)"/>
<circle cx="401.68" cy="172.19" r="2.80" fill="url(#g3_155)"/>
<circle cx="415.84" cy="172.19" r="2.40" fill="url(#g4_115)"/>
<circle cx="430.00" cy="172.19" r="2.10" fill="url(#g5_85)"/>
<circle cx="444.15" cy="172.19" r="2.60" fill="url(#g6_135)"/>
<circle cx="458.31" cy="172.19" r="2.40" fill="url(#g7_115)"/>
<circle cx="132.70" cy="180.73" r="1.85" fill="url(#g0_60)"/>
<circle cx="146.86" cy="180.73" r="2.20" fill="url(#g1_95)"/>
<circle cx="161.01" cy="180.73" r="1.90" fill="url(#g2_65)"/>
<circle cx="175.17" cy="180.73" r="1.80" fill="url(#g3_55)"/>
<circle cx="189.33" cy="180.73" r="1.55" fill="url(#g4_30)"/>
<circle cx="203.48" cy="180.73" r="5.65" fill="url(#g5_440)"/>
<circle cx="217.64" cy="180.73" r="2.40" fill="url(#g6_115)"/>
<circle cx="231.80" cy="180.73" r="1.60" fill="url(#g7_35)"/>
<circle cx="245.96" cy="180.73" r="1.60" fill="url(#g0_35)"/>
<circle cx="260.11" cy="180.73" r="1.60" fill="url(#g1_35)"/>
<circle cx="274.27" cy="180.73" r="1.60" fill="url(#g2_35)"/>
<circle cx="288.43" cy="180.73" r="1.60" fill="url(#g3_35)"/>
<circle cx="302.58" cy="180.73" r="1.60" fill="url(#g4_35)"/>
<circle cx="316.74" cy="180.73" r="1.60" fill="url(#g5_35)"/>
<circle cx="330.90" cy="180.73" r="1.60" fill="url(#g6_35)"/>
<circle cx="345.05" cy="180.73" r="2.60" fill="url(#g7_135)"/>
<circle cx="359.21" cy="180.73" r="3.05" fill="url(#g0_180)"/>
<circle cx="373.37" cy="180.73" r="1.80" fill="url(#g1_55)"/>
<circle cx="387.53" cy="180.73" r="1.80" fill="url(#g2_55)"/>
<circle cx="401.68" cy="180.73" r="1.60" fill="url(#g3_35)"/>
<circle cx="415.84" cy="180.73" r="1.60" fill="url(#g4_35)"/>
<circle cx="430.00" cy="180.73" r="1.90" fill="url(#g5_65)"/>
<circle cx="444.15" cy="180.73" r="2.20" fill="url(#g6_95)"/>
<circle cx="458.31" cy="180.73" r="1.90" fill="url(#g7_65)"/>
<circle cx="132.70" cy="189.27" r="4.00" fill="url(#g0_275)"/>
<circle cx="146.86" cy="189.27" r="4.25" fill="url(#g1_300)"/>
<circle cx="161.01" cy="189.27" r="1.90" fill="url(#g2_65)"/>
<circle cx="175.17" cy="189.27" r="2.20" fill="url(#g3_95)"/>
<circle cx="189.33" cy="189.27" r="2.80" fill="url(#g4_155)"/>
<circle cx="203.48" cy="189.27" r="2.60" fill="url(#g5_135)"/>
<circle cx="217.64" cy="189.27" r="3.05" fill="url(#g6_180)"/>
<circle cx="231.80" cy="189.27" r="2.20" fill="url(#g7_95)"/>
<circle cx="245.96" cy="189.27" r="2.50" fill="url(#g0_125)"/>
<circle cx="260.11" cy="189.27" r="3.05" fill="url(#g1_180)"/>
<circle cx="274.27" cy="189.27" r="2.50" fill="url(#g2_125)"/>
<circle cx="288.43" cy="189.27" r="3.05" fill="url(#g3_180)"/>
<circle cx="302.58" cy="189.27" r="2.50" fill="url(#g4_125)"/>
<circle cx="316.74" cy="189.27" r="2.80" fill="url(#g5_155)"/>
<circle cx="330.90" cy="189.27" r="2.80" fill="url(#g6_155)"/>
<circle cx="345.05" cy="189.27" r="2.40" fill="url(#g7_115)"/>
<circle cx="359.21" cy="189.27" r="2.50" fill="url(#g0_125)"/>
<circle cx="373.37" cy="189.27" r="3.80" fill="url(#g1_255)"/>
<circle cx="387.53" cy="189.27" r="3.05" fill="url(#g2_180)"/>
<circle cx="401.68" cy="189.27" r="3.05" fill="url(#g3_180)"/>
<circle cx="415.84" cy="189.27" r="3.30" fill="url(#g4_205)"/>
<circle cx="430.00" cy="189.27" r="2.40" fill="url(#g5_115)"/>
<circle cx="444.15" cy="189.27" r="3.05" fill="url(#g6_180)"/>
<circle cx="458.31" cy="189.27" r="3.05" fill="url(#g7_180)"/>
<circle cx="132.70" cy="197.81" r="3.55" fill="url(#g0_230)"/>
<circle cx="146.86" cy="197.81" r="3.05" fill="url(#g1_180)"/>
<circle cx="161.01" cy="197.81" r="3.55" fill="url(#g2_230)"/>
<circle cx="175.17" cy="197.81" r="2.80" fill="url(#g3_155)"/>
<circle cx="189.33" cy="197.81" r="2.50" fill="url(#g4_125)"/>
<circle cx="203.48" cy="197.81" r="1.55" fill="url(#g5_30)"/>
<circle cx="217.64" cy="197.81" r="2.60" fill="url(#g6_135)"/>
<circle cx="231.80" cy="197.81" r="2.30" fill="url(#g7_105)"/>
<circle cx="245.96" cy="197.81" r="2.05" fill="url(#g0_80)"/>
<circle cx="260.11" cy="197.81" r="2.20" fill="url(#g1_95)"/>
<circle cx="274.27" cy="197.81" r="2.20" fill="url(#g2_95)"/>
<circle cx="288.43" cy="197.81" r="2.20" fill="url(#g3_95)"/>
<circle cx="302.58" cy="197.81" r="2.10" fill="url(#g4_85)"/>
<circle cx="316.74" cy="197.81" r="2.10" fill="url(#g5_85)"/>
<circle cx="330.90" cy="197.81" r="1.80" fill="url(#g6_55)"/>
<circle cx="345.05" cy="197.81" r="5.65" fill="url(#g7_440)"/>
<circle cx="359.21" cy="197.81" r="3.15" fill="url(#g0_190)"/>
<circle cx="373.37" cy="197.81" r="2.50" fill="url(#g1_125)"/>
<circle cx="387.53" cy="197.81" r="2.20" fill="url(#g2_95)"/>
<circle cx="401.68" cy="197.81" r="1.80" fill="url(#g3_55)"/>
<circle cx="415.84" cy="197.81" r="2.20" fill="url(#g4_95)"/>
<circle cx="430.00" cy="197.81" r="2.65" fill="url(#g5_140)"/>
<circle cx="444.15" cy="197.81" r="2.80" fill="url(#g6_155)"/>
<circle cx="458.31" cy="197.81" r="3.55" fill="url(#g7_230)"/>
<circle cx="132.70" cy="206.35" r="2.10" fill="url(#g0_85)"/>
<circle cx="146.86" cy="206.35" r="2.50" fill="url(#g1_125)"/>
<circle cx="161.01" cy="206.35" r="4.50" fill="url(#g2_325)"/>
<circle cx="175.17" cy="206.35" r="5.65" fill="url(#g3_440)"/>
<circle cx="189.33" cy="206.35" r="2.80" fill="url(#g4_155)"/>
<circle cx="203.48" cy="206.35" r="2.20" fill="url(#g5_95)"/>
<circle cx="217.64" cy="206.35" r="2.20" fill="url(#g6_95)"/>
<circle cx="231.80" cy="206.35" r="6.20" fill="url(#g7_495)"/>
<circle cx="245.96" cy="206.35" r="5.70" fill="url(#g0_445)"/>
<circle cx="260.11" cy="206.35" r="5.45" fill="url(#g1_420)"/>
<circle cx="274.27" cy="206.35" r="5.75" fill="url(#g2_450)"/>
<circle cx="288.43" cy="206.35" r="4.60" fill="url(#g3_335)"/>
<circle cx="302.58" cy="206.35" r="5.40" fill="url(#g4_415)"/>
<circle cx="316.74" cy="206.35" r="5.75" fill="url(#g5_450)"/>
<circle cx="330.90" cy="206.35" r="5.65" fill="url(#g6_440)"/>
<circle cx="345.05" cy="206.35" r="1.75" fill="url(#g7_50)"/>
<circle cx="359.21" cy="206.35" r="2.35" fill="url(#g0_110)"/>
<circle cx="373.37" cy="206.35" r="2.40" fill="url(#g1_115)"/>
<circle cx="387.53" cy="206.35" r="2.40" fill="url(#g2_115)"/>
<circle cx="401.68" cy="206.35" r="2.50" fill="url(#g3_125)"/>
<circle cx="415.84" cy="206.35" r="2.40" fill="url(#g4_115)"/>
<circle cx="430.00" cy="206.35" r="2.50" fill="url(#g5_125)"/>
<circle cx="444.15" cy="206.35" r="2.95" fill="url(#g6_170)"/>
<circle cx="458.31" cy="206.35" r="2.80" fill="url(#g7_155)"/>
<circle cx="132.70" cy="214.89" r="4.75" fill="url(#g0_350)"/>
<circle cx="146.86" cy="214.89" r="2.50" fill="url(#g1_125)"/>
<circle cx="161.01" cy="214.89" r="3.80" fill="url(#g2_255)"/>
<circle cx="175.17" cy="214.89" r="1.90" fill="url(#g3_65)"/>
<circle cx="189.33" cy="214.89" r="3.55" fill="url(#g4_230)"/>
<circle cx="203.48" cy="214.89" r="2.20" fill="url(#g5_95)"/>
<circle cx="217.64" cy="214.89" r="2.20" fill="url(#g6_95)"/>
<circle cx="231.80" cy="214.89" r="1.90" fill="url(#g7_65)"/>
<circle cx="245.96" cy="214.89" r="1.90" fill="url(#g0_65)"/>
<circle cx="260.11" cy="214.89" r="1.90" fill="url(#g1_65)"/>
<circle cx="274.27" cy="214.89" r="1.80" fill="url(#g2_55)"/>
<circle cx="288.43" cy="214.89" r="1.90" fill="url(#g3_65)"/>
<circle cx="302.58" cy="214.89" r="2.20" fill="url(#g4_95)"/>
<circle cx="316.74" cy="214.89" r="1.75" fill="url(#g5_50)"/>
<circle cx="330.90" cy="214.89" r="2.05" fill="url(#g6_80)"/>
<circle cx="345.05" cy="214.89" r="2.05" fill="url(#g7_80)"/>
<circle cx="359.21" cy="214.89" r="3.20" fill="url(#g0_195)"/>
<circle cx="373.37" cy="214.89" r="2.40" fill="url(#g1_115)"/>
<circle cx="387.53" cy="214.89" r="4.00" fill="url(#g2_275)"/>
<circle cx="401.68" cy="214.89" r="4.65" fill="url(#g3_340)"/>
<circle cx="415.84" cy="214.89" r="4.65" fill="url(#g4_340)"/>
<circle cx="430.00" cy="214.89" r="6.05" fill="url(#g5_480)"/>
<circle cx="444.15" cy="214.89" r="4.00" fill="url(#g6_275)"/>
<circle cx="458.31" cy="214.89" r="3.30" fill="url(#g7_205)"/>
<text class="lg" x="517" y="55.1" text-anchor="middle">Relative Abundance</text>
<circle cx="507.5" cy="62.0" r="1.3" fill="#fff" stroke="#a8a8a8" stroke-width="0.55"/>
<text class="lg" x="514" y="64.6">0.1</text>
<circle cx="507.5" cy="69.8" r="2.1" fill="#fff" stroke="#a8a8a8" stroke-width="0.55"/>
<text class="lg" x="514" y="72.39999999999999">0.2</text>
<circle cx="507.5" cy="78.2" r="2.8" fill="#fff" stroke="#a8a8a8" stroke-width="0.55"/>
<text class="lg" x="514" y="80.8">0.3</text>
<circle cx="507.5" cy="87.6" r="3.6" fill="#fff" stroke="#a8a8a8" stroke-width="0.55"/>
<text class="lg" x="514" y="90.19999999999999">0.4</text>
<circle cx="507.5" cy="97.3" r="4.2" fill="#fff" stroke="#a8a8a8" stroke-width="0.55"/>
<text class="lg" x="514" y="99.89999999999999">0.5</text>
<circle cx="507.5" cy="108.7" r="4.9" fill="#fff" stroke="#a8a8a8" stroke-width="0.55"/>
<text class="lg" x="514" y="111.3">0.6</text>
</svg>
</body></html>
